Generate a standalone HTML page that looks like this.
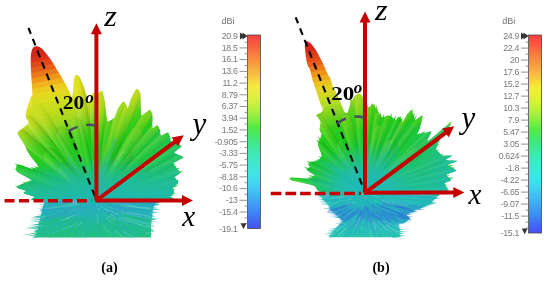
<!DOCTYPE html>
<html><head><meta charset="utf-8"><style>
html,body{margin:0;padding:0;background:#fff;overflow:hidden;}
svg{display:block;}
.ax{font-family:"Liberation Serif",serif;font-style:italic;font-size:31px;fill:#000;}
.deg{font-family:"Liberation Serif",serif;font-weight:bold;font-size:19.8px;fill:#000;}
.sup{font-family:"Liberation Serif",serif;font-style:italic;font-weight:bold;font-size:17px;fill:#000;}
.cbl{font-family:"Liberation Sans",sans-serif;font-size:8.8px;letter-spacing:-0.35px;fill:#7a7a7a;}
.dbi{font-family:"Liberation Sans",sans-serif;font-size:9px;fill:#707070;}
.cap{font-family:"Liberation Serif",serif;font-weight:bold;font-size:14px;fill:#000;}
</style></head><body>
<svg width="550" height="281" viewBox="0 0 550 281">
<defs><linearGradient id="cbA" gradientUnits="userSpaceOnUse" x1="0" y1="35" x2="0" y2="228.5"><stop offset="0.000" stop-color="#f84040"/><stop offset="0.057" stop-color="#f86040"/><stop offset="0.119" stop-color="#f88a40"/><stop offset="0.171" stop-color="#f8aa40"/><stop offset="0.222" stop-color="#f8cc40"/><stop offset="0.269" stop-color="#f4ec40"/><stop offset="0.336" stop-color="#d8f040"/><stop offset="0.388" stop-color="#b0f040"/><stop offset="0.439" stop-color="#80ee40"/><stop offset="0.481" stop-color="#50ea48"/><stop offset="0.543" stop-color="#40e880"/><stop offset="0.594" stop-color="#40e8a8"/><stop offset="0.646" stop-color="#40e8c8"/><stop offset="0.708" stop-color="#40e6e4"/><stop offset="0.760" stop-color="#40d8f0"/><stop offset="0.811" stop-color="#40c0f4"/><stop offset="0.863" stop-color="#40a4f4"/><stop offset="0.915" stop-color="#4088f4"/><stop offset="0.961" stop-color="#4068f4"/><stop offset="1.000" stop-color="#4850f0"/></linearGradient><linearGradient id="cbB" gradientUnits="userSpaceOnUse" x1="0" y1="35" x2="0" y2="233"><stop offset="0.000" stop-color="#f84040"/><stop offset="0.057" stop-color="#f86040"/><stop offset="0.119" stop-color="#f88a40"/><stop offset="0.171" stop-color="#f8aa40"/><stop offset="0.222" stop-color="#f8cc40"/><stop offset="0.269" stop-color="#f4ec40"/><stop offset="0.336" stop-color="#d8f040"/><stop offset="0.388" stop-color="#b0f040"/><stop offset="0.439" stop-color="#80ee40"/><stop offset="0.481" stop-color="#50ea48"/><stop offset="0.543" stop-color="#40e880"/><stop offset="0.594" stop-color="#40e8a8"/><stop offset="0.646" stop-color="#40e8c8"/><stop offset="0.708" stop-color="#40e6e4"/><stop offset="0.760" stop-color="#40d8f0"/><stop offset="0.811" stop-color="#40c0f4"/><stop offset="0.863" stop-color="#40a4f4"/><stop offset="0.915" stop-color="#4088f4"/><stop offset="0.961" stop-color="#4068f4"/><stop offset="1.000" stop-color="#4850f0"/></linearGradient><linearGradient id="fanA" gradientUnits="userSpaceOnUse" x1="60" y1="80" x2="100.3" y2="203.5"><stop offset="0.000" stop-color="#e2e01e"/><stop offset="0.108" stop-color="#dfdf1e"/><stop offset="0.219" stop-color="#cadc1e"/><stop offset="0.293" stop-color="#a8d81e"/><stop offset="0.366" stop-color="#78d21e"/><stop offset="0.439" stop-color="#44ce1a"/><stop offset="0.547" stop-color="#22cc1a"/><stop offset="0.654" stop-color="#1ccb20"/><stop offset="1.000" stop-color="#1cc828"/></linearGradient><radialGradient id="tealA" gradientUnits="userSpaceOnUse" cx="96.4" cy="200.5" r="46" gradientTransform="translate(96.4 200.5) scale(2 1) translate(-96.4 -200.5)"><stop offset="0.000" stop-color="#1ebaa0" stop-opacity="1"/><stop offset="0.391" stop-color="#1ebc96" stop-opacity="0.85"/><stop offset="0.696" stop-color="#1ebe80" stop-opacity="0.45"/><stop offset="1.000" stop-color="#1ec070" stop-opacity="0"/></radialGradient><linearGradient id="mainA" gradientUnits="userSpaceOnUse" x1="35" y1="46" x2="68.2" y2="208.7"><stop offset="0.002" stop-color="#d32019"/><stop offset="0.029" stop-color="#d32019"/><stop offset="0.034" stop-color="#d62519"/><stop offset="0.060" stop-color="#d62519"/><stop offset="0.065" stop-color="#da3219"/><stop offset="0.092" stop-color="#da3219"/><stop offset="0.096" stop-color="#e14819"/><stop offset="0.123" stop-color="#e14819"/><stop offset="0.128" stop-color="#e65f19"/><stop offset="0.154" stop-color="#e65f19"/><stop offset="0.159" stop-color="#ea7919"/><stop offset="0.185" stop-color="#ea7919"/><stop offset="0.190" stop-color="#ef9719"/><stop offset="0.217" stop-color="#ef9719"/><stop offset="0.222" stop-color="#f0b21d"/><stop offset="0.248" stop-color="#f0b21d"/><stop offset="0.253" stop-color="#edca1e"/><stop offset="0.279" stop-color="#edca1e"/><stop offset="0.284" stop-color="#e5d81e"/><stop offset="0.311" stop-color="#e5d81e"/><stop offset="0.316" stop-color="#d8dd1e"/><stop offset="0.342" stop-color="#d8dd1e"/><stop offset="0.347" stop-color="#ccdd1e"/><stop offset="0.373" stop-color="#ccdd1e"/><stop offset="0.378" stop-color="#c2dc1e"/><stop offset="0.405" stop-color="#c2dc1e"/><stop offset="0.410" stop-color="#b5da1e"/><stop offset="0.436" stop-color="#b5da1e"/><stop offset="0.441" stop-color="#a6d81e"/><stop offset="0.467" stop-color="#a6d81e"/><stop offset="1.000" stop-color="#a0d71e"/></linearGradient><linearGradient id="lowA" gradientUnits="userSpaceOnUse" x1="0" y1="200" x2="0" y2="237"><stop offset="0.000" stop-color="#22b4b4"/><stop offset="0.216" stop-color="#24b0bc"/><stop offset="0.432" stop-color="#22b4b0"/><stop offset="0.703" stop-color="#20bc98"/><stop offset="1.000" stop-color="#22c080"/></linearGradient><clipPath id="clipFanA"><path d="M38.0,200.5 C24.7,200.1 36.0,197.6 34.6,196.9 C33.2,196.2 24.8,193.9 23.9,193.3 C23.0,192.7 26.4,191.3 25.7,190.7 C25.0,190.1 17.2,188.1 16.9,187.4 C16.6,186.7 21.6,184.5 23.1,183.8 C24.6,183.1 32.6,181.4 32.0,180.2 C31.4,179.0 18.3,173.0 16.9,171.4 C15.5,169.8 16.3,164.5 17.8,164.2 C19.3,163.9 29.9,168.4 32.0,168.7 C34.0,169.0 38.4,168.1 38.3,166.9 C38.2,165.7 32.3,158.8 31.1,157.1 C29.9,155.4 27.3,151.2 26.7,150.0 C26.1,148.8 25.7,147.0 24.9,145.6 C24.1,144.2 19.4,137.1 18.7,135.8 C18.0,134.5 16.8,133.4 17.8,132.2 C18.8,130.9 27.7,124.8 28.5,123.3 C29.3,121.8 26.0,118.4 25.8,117.1 C25.6,115.8 26.2,112.0 26.7,110.0 C27.2,108.0 30.1,99.1 30.7,97.6 C31.3,96.1 31.6,96.8 33.0,95.0 C34.4,93.2 42.3,81.8 45.0,80.0 C47.7,78.2 57.6,75.0 60.0,76.9 C62.4,78.8 67.7,97.2 68.9,99.1 C70.2,101.0 72.1,96.8 72.5,95.6 C72.9,94.4 73.1,88.5 73.3,86.7 C73.5,84.9 73.9,79.0 74.2,77.8 C74.5,76.6 75.5,75.2 76.0,75.1 C76.5,75.0 78.9,75.9 79.6,76.9 C80.3,77.9 82.4,83.0 83.1,84.9 C83.8,86.8 86.1,93.8 86.7,95.6 C87.3,97.4 88.8,103.0 89.4,102.7 C90.0,102.4 92.2,93.6 92.9,92.9 C93.6,92.2 95.1,96.2 96.0,96.0 C96.9,95.8 100.9,90.2 101.8,90.7 C102.7,91.2 104.3,98.9 104.8,101.4 C105.3,103.9 106.3,113.6 106.6,115.6 C106.9,117.6 107.2,121.3 107.5,121.8 C107.8,122.3 108.5,121.3 109.2,120.9 C109.9,120.5 113.7,118.6 114.6,117.4 C115.5,116.2 117.2,110.1 118.1,108.5 C119.0,106.9 122.6,101.6 123.5,101.4 C124.4,101.2 126.6,106.0 127.0,106.7 C127.4,107.4 127.5,109.4 127.9,108.5 C128.3,107.6 130.6,99.8 131.5,97.8 C132.4,95.8 135.9,89.3 136.8,88.9 C137.7,88.5 140.0,92.4 140.4,94.2 C140.8,96.0 140.8,104.6 140.9,106.7 C141.0,108.8 141.1,115.0 141.6,115.6 C142.1,116.2 144.8,113.3 145.7,112.8 C146.5,112.2 149.4,109.8 150.1,110.1 C150.8,110.4 152.4,114.2 152.6,116.0 C152.8,117.8 152.0,127.1 152.5,128.0 C153.0,128.9 156.4,125.0 157.2,125.2 C157.9,125.4 159.6,129.0 160.0,130.0 C160.4,131.0 160.2,135.3 161.0,135.5 C161.8,135.7 167.0,132.2 167.9,132.4 C168.8,132.6 169.7,136.1 170.0,137.0 C170.3,137.9 170.4,140.9 171.0,141.5 C171.6,142.1 175.0,142.5 176.1,143.0 C177.2,143.5 181.7,145.6 181.5,146.6 C181.3,147.6 174.2,151.7 174.4,152.8 C174.6,153.9 183.4,156.1 183.3,157.2 C183.2,158.3 173.8,161.9 173.5,163.5 C173.2,165.1 179.9,171.3 180.0,172.7 C180.1,174.1 174.9,176.1 174.7,177.1 C174.5,178.1 178.5,181.4 178.3,182.5 C178.1,183.6 173.3,186.8 172.9,187.8 C172.5,188.8 174.1,191.3 173.8,192.2 C173.5,193.1 170.8,195.9 170.2,196.7 C169.6,197.5 181.2,200.1 168.0,200.5 C154.8,200.9 51.3,200.9 38.0,200.5 Z"/></clipPath><linearGradient id="fg1s" gradientUnits="userSpaceOnUse" x1="68.3" y1="159.8" x2="80.8" y2="153.4"><stop offset="0.000" stop-color="#ffffa0" stop-opacity="0.22"/><stop offset="0.450" stop-color="#ffffa0" stop-opacity="0.05"/><stop offset="0.600" stop-color="#003000" stop-opacity="0.0"/><stop offset="1.000" stop-color="#003000" stop-opacity="0.16"/></linearGradient><linearGradient id="fg2s" gradientUnits="userSpaceOnUse" x1="60.7" y1="174.8" x2="70.4" y2="164.8"><stop offset="0.000" stop-color="#ffffa0" stop-opacity="0.22"/><stop offset="0.450" stop-color="#ffffa0" stop-opacity="0.05"/><stop offset="0.600" stop-color="#003000" stop-opacity="0.0"/><stop offset="1.000" stop-color="#003000" stop-opacity="0.16"/></linearGradient><linearGradient id="fg3s" gradientUnits="userSpaceOnUse" x1="103.8" y1="148.7" x2="117.3" y2="152.5"><stop offset="0.000" stop-color="#ffffa0" stop-opacity="0.22"/><stop offset="0.450" stop-color="#ffffa0" stop-opacity="0.05"/><stop offset="0.600" stop-color="#003000" stop-opacity="0.0"/><stop offset="1.000" stop-color="#003000" stop-opacity="0.16"/></linearGradient><linearGradient id="fg4s" gradientUnits="userSpaceOnUse" x1="117.0" y1="153.2" x2="128.1" y2="160.0"><stop offset="0.000" stop-color="#ffffa0" stop-opacity="0.22"/><stop offset="0.450" stop-color="#ffffa0" stop-opacity="0.05"/><stop offset="0.600" stop-color="#003000" stop-opacity="0.0"/><stop offset="1.000" stop-color="#003000" stop-opacity="0.16"/></linearGradient><linearGradient id="fg5s" gradientUnits="userSpaceOnUse" x1="77.8" y1="152.1" x2="89.4" y2="149.1"><stop offset="0.000" stop-color="#ffffa0" stop-opacity="0.22"/><stop offset="0.450" stop-color="#ffffa0" stop-opacity="0.05"/><stop offset="0.600" stop-color="#003000" stop-opacity="0.0"/><stop offset="1.000" stop-color="#003000" stop-opacity="0.16"/></linearGradient><linearGradient id="fg6s" gradientUnits="userSpaceOnUse" x1="110.8" y1="165.9" x2="122.4" y2="173.7"><stop offset="0.000" stop-color="#ffffa0" stop-opacity="0.22"/><stop offset="0.450" stop-color="#ffffa0" stop-opacity="0.05"/><stop offset="0.600" stop-color="#003000" stop-opacity="0.0"/><stop offset="1.000" stop-color="#003000" stop-opacity="0.16"/></linearGradient><linearGradient id="fg7s" gradientUnits="userSpaceOnUse" x1="69.7" y1="183.9" x2="79.4" y2="173.7"><stop offset="0.000" stop-color="#ffffa0" stop-opacity="0.22"/><stop offset="0.450" stop-color="#ffffa0" stop-opacity="0.05"/><stop offset="0.600" stop-color="#003000" stop-opacity="0.0"/><stop offset="1.000" stop-color="#003000" stop-opacity="0.16"/></linearGradient><linearGradient id="fg8s" gradientUnits="userSpaceOnUse" x1="125.3" y1="173.8" x2="131.8" y2="183.8"><stop offset="0.000" stop-color="#ffffa0" stop-opacity="0.22"/><stop offset="0.450" stop-color="#ffffa0" stop-opacity="0.05"/><stop offset="0.600" stop-color="#003000" stop-opacity="0.0"/><stop offset="1.000" stop-color="#003000" stop-opacity="0.16"/></linearGradient><linearGradient id="fg9s" gradientUnits="userSpaceOnUse" x1="48.1" y1="196.2" x2="49.3" y2="188.3"><stop offset="0.000" stop-color="#ffffa0" stop-opacity="0.22"/><stop offset="0.450" stop-color="#ffffa0" stop-opacity="0.05"/><stop offset="0.600" stop-color="#003000" stop-opacity="0.0"/><stop offset="1.000" stop-color="#003000" stop-opacity="0.16"/></linearGradient><linearGradient id="fg10s" gradientUnits="userSpaceOnUse" x1="47.1" y1="184.2" x2="50.5" y2="175.8"><stop offset="0.000" stop-color="#ffffa0" stop-opacity="0.22"/><stop offset="0.450" stop-color="#ffffa0" stop-opacity="0.05"/><stop offset="0.600" stop-color="#003000" stop-opacity="0.0"/><stop offset="1.000" stop-color="#003000" stop-opacity="0.16"/></linearGradient><linearGradient id="fg11s" gradientUnits="userSpaceOnUse" x1="45.3" y1="163.7" x2="53.1" y2="154.6"><stop offset="0.000" stop-color="#ffffa0" stop-opacity="0.22"/><stop offset="0.450" stop-color="#ffffa0" stop-opacity="0.05"/><stop offset="0.600" stop-color="#003000" stop-opacity="0.0"/><stop offset="1.000" stop-color="#003000" stop-opacity="0.16"/></linearGradient><linearGradient id="fg12s" gradientUnits="userSpaceOnUse" x1="50.2" y1="153.3" x2="57.8" y2="146.8"><stop offset="0.000" stop-color="#ffffa0" stop-opacity="0.22"/><stop offset="0.450" stop-color="#ffffa0" stop-opacity="0.05"/><stop offset="0.600" stop-color="#003000" stop-opacity="0.0"/><stop offset="1.000" stop-color="#003000" stop-opacity="0.16"/></linearGradient><linearGradient id="fg13s" gradientUnits="userSpaceOnUse" x1="52.4" y1="141.3" x2="61.6" y2="135.4"><stop offset="0.000" stop-color="#ffffa0" stop-opacity="0.22"/><stop offset="0.450" stop-color="#ffffa0" stop-opacity="0.05"/><stop offset="0.600" stop-color="#003000" stop-opacity="0.0"/><stop offset="1.000" stop-color="#003000" stop-opacity="0.16"/></linearGradient><linearGradient id="fg14s" gradientUnits="userSpaceOnUse" x1="78.2" y1="125.8" x2="90.1" y2="123.9"><stop offset="0.000" stop-color="#ffffa0" stop-opacity="0.22"/><stop offset="0.450" stop-color="#ffffa0" stop-opacity="0.05"/><stop offset="0.600" stop-color="#003000" stop-opacity="0.0"/><stop offset="1.000" stop-color="#003000" stop-opacity="0.16"/></linearGradient><linearGradient id="fg15s" gradientUnits="userSpaceOnUse" x1="90.3" y1="135.7" x2="98.3" y2="135.4"><stop offset="0.000" stop-color="#ffffa0" stop-opacity="0.22"/><stop offset="0.450" stop-color="#ffffa0" stop-opacity="0.05"/><stop offset="0.600" stop-color="#003000" stop-opacity="0.0"/><stop offset="1.000" stop-color="#003000" stop-opacity="0.16"/></linearGradient><linearGradient id="fg16s" gradientUnits="userSpaceOnUse" x1="95.6" y1="134.0" x2="103.6" y2="134.4"><stop offset="0.000" stop-color="#ffffa0" stop-opacity="0.22"/><stop offset="0.450" stop-color="#ffffa0" stop-opacity="0.05"/><stop offset="0.600" stop-color="#003000" stop-opacity="0.0"/><stop offset="1.000" stop-color="#003000" stop-opacity="0.16"/></linearGradient><linearGradient id="fg17s" gradientUnits="userSpaceOnUse" x1="101.1" y1="151.9" x2="107.0" y2="152.8"><stop offset="0.000" stop-color="#ffffa0" stop-opacity="0.22"/><stop offset="0.450" stop-color="#ffffa0" stop-opacity="0.05"/><stop offset="0.600" stop-color="#003000" stop-opacity="0.0"/><stop offset="1.000" stop-color="#003000" stop-opacity="0.16"/></linearGradient><linearGradient id="fg18s" gradientUnits="userSpaceOnUse" x1="107.8" y1="139.3" x2="117.5" y2="142.0"><stop offset="0.000" stop-color="#ffffa0" stop-opacity="0.22"/><stop offset="0.450" stop-color="#ffffa0" stop-opacity="0.05"/><stop offset="0.600" stop-color="#003000" stop-opacity="0.0"/><stop offset="1.000" stop-color="#003000" stop-opacity="0.16"/></linearGradient><linearGradient id="fg19s" gradientUnits="userSpaceOnUse" x1="115.5" y1="131.3" x2="125.8" y2="135.0"><stop offset="0.000" stop-color="#ffffa0" stop-opacity="0.22"/><stop offset="0.450" stop-color="#ffffa0" stop-opacity="0.05"/><stop offset="0.600" stop-color="#003000" stop-opacity="0.0"/><stop offset="1.000" stop-color="#003000" stop-opacity="0.16"/></linearGradient><linearGradient id="fg20s" gradientUnits="userSpaceOnUse" x1="124.8" y1="143.5" x2="132.5" y2="148.2"><stop offset="0.000" stop-color="#ffffa0" stop-opacity="0.22"/><stop offset="0.450" stop-color="#ffffa0" stop-opacity="0.05"/><stop offset="0.600" stop-color="#003000" stop-opacity="0.0"/><stop offset="1.000" stop-color="#003000" stop-opacity="0.16"/></linearGradient><linearGradient id="fg21s" gradientUnits="userSpaceOnUse" x1="129.8" y1="152.4" x2="136.0" y2="157.5"><stop offset="0.000" stop-color="#ffffa0" stop-opacity="0.22"/><stop offset="0.450" stop-color="#ffffa0" stop-opacity="0.05"/><stop offset="0.600" stop-color="#003000" stop-opacity="0.0"/><stop offset="1.000" stop-color="#003000" stop-opacity="0.16"/></linearGradient><linearGradient id="fg22s" gradientUnits="userSpaceOnUse" x1="136.6" y1="156.3" x2="142.0" y2="162.2"><stop offset="0.000" stop-color="#ffffa0" stop-opacity="0.22"/><stop offset="0.450" stop-color="#ffffa0" stop-opacity="0.05"/><stop offset="0.600" stop-color="#003000" stop-opacity="0.0"/><stop offset="1.000" stop-color="#003000" stop-opacity="0.16"/></linearGradient><linearGradient id="fg23s" gradientUnits="userSpaceOnUse" x1="145.6" y1="164.8" x2="149.3" y2="170.7"><stop offset="0.000" stop-color="#ffffa0" stop-opacity="0.22"/><stop offset="0.450" stop-color="#ffffa0" stop-opacity="0.05"/><stop offset="0.600" stop-color="#003000" stop-opacity="0.0"/><stop offset="1.000" stop-color="#003000" stop-opacity="0.16"/></linearGradient><linearGradient id="fg24s" gradientUnits="userSpaceOnUse" x1="147.0" y1="171.0" x2="150.1" y2="177.3"><stop offset="0.000" stop-color="#ffffa0" stop-opacity="0.22"/><stop offset="0.450" stop-color="#ffffa0" stop-opacity="0.05"/><stop offset="0.600" stop-color="#003000" stop-opacity="0.0"/><stop offset="1.000" stop-color="#003000" stop-opacity="0.16"/></linearGradient><linearGradient id="fg25s" gradientUnits="userSpaceOnUse" x1="145.5" y1="180.1" x2="147.6" y2="186.8"><stop offset="0.000" stop-color="#ffffa0" stop-opacity="0.22"/><stop offset="0.450" stop-color="#ffffa0" stop-opacity="0.05"/><stop offset="0.600" stop-color="#003000" stop-opacity="0.0"/><stop offset="1.000" stop-color="#003000" stop-opacity="0.16"/></linearGradient><linearGradient id="fg26s" gradientUnits="userSpaceOnUse" x1="144.9" y1="186.4" x2="146.1" y2="192.2"><stop offset="0.000" stop-color="#ffffa0" stop-opacity="0.22"/><stop offset="0.450" stop-color="#ffffa0" stop-opacity="0.05"/><stop offset="0.600" stop-color="#003000" stop-opacity="0.0"/><stop offset="1.000" stop-color="#003000" stop-opacity="0.16"/></linearGradient><linearGradient id="fg27s" gradientUnits="userSpaceOnUse" x1="142.6" y1="192.1" x2="143.1" y2="198.1"><stop offset="0.000" stop-color="#ffffa0" stop-opacity="0.22"/><stop offset="0.450" stop-color="#ffffa0" stop-opacity="0.05"/><stop offset="0.600" stop-color="#003000" stop-opacity="0.0"/><stop offset="1.000" stop-color="#003000" stop-opacity="0.16"/></linearGradient><linearGradient id="fg28s" gradientUnits="userSpaceOnUse" x1="51.7" y1="193.5" x2="53.2" y2="186.7"><stop offset="0.000" stop-color="#ffffa0" stop-opacity="0.22"/><stop offset="0.450" stop-color="#ffffa0" stop-opacity="0.05"/><stop offset="0.600" stop-color="#003000" stop-opacity="0.0"/><stop offset="1.000" stop-color="#003000" stop-opacity="0.16"/></linearGradient><linearGradient id="tg1" gradientUnits="userSpaceOnUse" x1="108.2" y1="158.8" x2="120.0" y2="118.0"><stop offset="0.000" stop-color="#6ed21e" stop-opacity="0"/><stop offset="0.600" stop-color="#6ed21e" stop-opacity="0.354"/><stop offset="1.000" stop-color="#6ed21e" stop-opacity="0.59"/></linearGradient><linearGradient id="tg2" gradientUnits="userSpaceOnUse" x1="118.2" y1="163.8" x2="140.0" y2="128.0"><stop offset="0.000" stop-color="#64d01e" stop-opacity="0"/><stop offset="0.600" stop-color="#64d01e" stop-opacity="0.33599999999999997"/><stop offset="1.000" stop-color="#64d01e" stop-opacity="0.5599999999999999"/></linearGradient><linearGradient id="tg3" gradientUnits="userSpaceOnUse" x1="99.1" y1="145.1" x2="101.8" y2="90.7"><stop offset="0.000" stop-color="#afda1e" stop-opacity="0"/><stop offset="0.600" stop-color="#afda1e" stop-opacity="0.4799999999999999"/><stop offset="1.000" stop-color="#afda1e" stop-opacity="0.7999999999999999"/></linearGradient><linearGradient id="tg4" gradientUnits="userSpaceOnUse" x1="102.8" y1="160.2" x2="109.2" y2="120.9"><stop offset="0.000" stop-color="#64d01e" stop-opacity="0"/><stop offset="0.600" stop-color="#64d01e" stop-opacity="0.33599999999999997"/><stop offset="1.000" stop-color="#64d01e" stop-opacity="0.5599999999999999"/></linearGradient><linearGradient id="tg5" gradientUnits="userSpaceOnUse" x1="110.0" y1="150.4" x2="123.5" y2="101.4"><stop offset="0.000" stop-color="#a6d91e" stop-opacity="0"/><stop offset="0.600" stop-color="#a6d91e" stop-opacity="0.46199999999999997"/><stop offset="1.000" stop-color="#a6d91e" stop-opacity="0.77"/></linearGradient><linearGradient id="tg6" gradientUnits="userSpaceOnUse" x1="116.6" y1="144.2" x2="136.8" y2="88.9"><stop offset="0.000" stop-color="#bfdd1e" stop-opacity="0"/><stop offset="0.600" stop-color="#bfdd1e" stop-opacity="0.51"/><stop offset="1.000" stop-color="#bfdd1e" stop-opacity="0.85"/></linearGradient><linearGradient id="tg7" gradientUnits="userSpaceOnUse" x1="123.2" y1="154.8" x2="150.1" y2="110.1"><stop offset="0.000" stop-color="#94d61e" stop-opacity="0"/><stop offset="0.600" stop-color="#94d61e" stop-opacity="0.426"/><stop offset="1.000" stop-color="#94d61e" stop-opacity="0.71"/></linearGradient><linearGradient id="tg8" gradientUnits="userSpaceOnUse" x1="126.8" y1="162.3" x2="157.2" y2="125.2"><stop offset="0.000" stop-color="#82d41e" stop-opacity="0"/><stop offset="0.600" stop-color="#82d41e" stop-opacity="0.38999999999999996"/><stop offset="1.000" stop-color="#82d41e" stop-opacity="0.6499999999999999"/></linearGradient><linearGradient id="tg9" gradientUnits="userSpaceOnUse" x1="132.2" y1="165.9" x2="167.9" y2="132.4"><stop offset="0.000" stop-color="#64d01e" stop-opacity="0"/><stop offset="0.600" stop-color="#64d01e" stop-opacity="0.33599999999999997"/><stop offset="1.000" stop-color="#64d01e" stop-opacity="0.5599999999999999"/></linearGradient><linearGradient id="botA" gradientUnits="userSpaceOnUse" x1="0" y1="160" x2="0" y2="200"><stop offset="0.000" stop-color="#1ebaa8" stop-opacity="0"/><stop offset="0.500" stop-color="#1ebaa8" stop-opacity="0.45"/><stop offset="1.000" stop-color="#1eb8b0" stop-opacity="0.85"/></linearGradient><linearGradient id="diagA" gradientUnits="userSpaceOnUse" x1="118" y1="148" x2="172" y2="192"><stop offset="0.000" stop-color="#20bcb0" stop-opacity="0"/><stop offset="0.500" stop-color="#20bcb0" stop-opacity="0.3"/><stop offset="1.000" stop-color="#20bab8" stop-opacity="0.6"/></linearGradient><clipPath id="clipLowA"><rect x="0" y="201" width="275" height="36.8"/></clipPath><linearGradient id="fadeA" gradientUnits="userSpaceOnUse" x1="0" y1="100" x2="0" y2="128"><stop offset="0.000" stop-color="#fff"/><stop offset="1.000" stop-color="#000"/></linearGradient><mask id="mA" maskUnits="userSpaceOnUse" x="0" y="0" width="550" height="281"><rect x="0" y="0" width="275" height="281" fill="url(#fadeA)"/></mask><linearGradient id="fanB" gradientUnits="userSpaceOnUse" x1="330" y1="70" x2="370.3" y2="193.5"><stop offset="0.000" stop-color="#dcdf1e"/><stop offset="0.154" stop-color="#c8de1e"/><stop offset="0.231" stop-color="#a5d81e"/><stop offset="0.293" stop-color="#82d41e"/><stop offset="0.346" stop-color="#64d01e"/><stop offset="0.416" stop-color="#38cd1a"/><stop offset="0.500" stop-color="#22cc1c"/><stop offset="0.616" stop-color="#1ccb24"/><stop offset="1.000" stop-color="#1cc82d"/></linearGradient><radialGradient id="tealB" gradientUnits="userSpaceOnUse" cx="365" cy="192.8" r="52" gradientTransform="translate(365 192.8) scale(1.35 1) translate(-365 -192.8)"><stop offset="0.000" stop-color="#20bcc4" stop-opacity="1"/><stop offset="0.423" stop-color="#20bdb4" stop-opacity="0.85"/><stop offset="0.731" stop-color="#1ec09c" stop-opacity="0.45"/><stop offset="1.000" stop-color="#1ec080" stop-opacity="0"/></radialGradient><linearGradient id="mainB" gradientUnits="userSpaceOnUse" x1="306.4" y1="41.4" x2="339.59999999999997" y2="204.08"><stop offset="0.002" stop-color="#d42019"/><stop offset="0.029" stop-color="#d42019"/><stop offset="0.034" stop-color="#d82619"/><stop offset="0.060" stop-color="#d82619"/><stop offset="0.065" stop-color="#df3719"/><stop offset="0.092" stop-color="#df3719"/><stop offset="0.096" stop-color="#e44b19"/><stop offset="0.123" stop-color="#e44b19"/><stop offset="0.128" stop-color="#e76219"/><stop offset="0.154" stop-color="#e76219"/><stop offset="0.159" stop-color="#eb7a19"/><stop offset="0.186" stop-color="#eb7a19"/><stop offset="0.190" stop-color="#ef931d"/><stop offset="0.217" stop-color="#ef931d"/><stop offset="0.222" stop-color="#efab1e"/><stop offset="0.248" stop-color="#efab1e"/><stop offset="0.253" stop-color="#eac11f"/><stop offset="0.279" stop-color="#eac11f"/><stop offset="0.284" stop-color="#e4d122"/><stop offset="0.311" stop-color="#e4d122"/><stop offset="0.316" stop-color="#d7d823"/><stop offset="0.342" stop-color="#d7d823"/><stop offset="0.347" stop-color="#c5db23"/><stop offset="0.373" stop-color="#c5db23"/><stop offset="0.378" stop-color="#b3db23"/><stop offset="0.405" stop-color="#b3db23"/><stop offset="0.410" stop-color="#9fd823"/><stop offset="0.436" stop-color="#9fd823"/><stop offset="0.441" stop-color="#8bd622"/><stop offset="0.467" stop-color="#8bd622"/><stop offset="0.472" stop-color="#77d31f"/><stop offset="0.499" stop-color="#77d31f"/><stop offset="1.000" stop-color="#6ed21e"/></linearGradient><linearGradient id="lowB" gradientUnits="userSpaceOnUse" x1="0" y1="193" x2="0" y2="237"><stop offset="0.000" stop-color="#20bcb0"/><stop offset="0.250" stop-color="#22b8b8"/><stop offset="0.386" stop-color="#2aa0c8"/><stop offset="0.523" stop-color="#2c8cd0"/><stop offset="0.659" stop-color="#2aa8c4"/><stop offset="0.818" stop-color="#28c0b8"/><stop offset="1.000" stop-color="#2ac4b0"/></linearGradient><clipPath id="clipFanB"><path d="M327.0,192.8 C314.2,192.1 317.6,187.1 314.2,185.9 C310.8,184.7 295.2,181.4 292.8,180.6 C290.4,179.8 289.0,177.6 290.7,177.4 C292.4,177.2 307.5,178.6 309.9,178.4 C312.2,178.2 314.5,176.0 314.2,175.2 C313.9,174.3 307.1,170.8 306.7,169.9 C306.3,169.1 309.7,167.3 309.9,166.7 C310.1,166.1 307.8,164.2 308.8,163.5 C309.8,162.8 318.2,160.0 319.5,159.2 C320.8,158.3 321.7,156.3 321.6,155.0 C321.5,153.7 318.7,147.6 318.4,146.4 C318.1,145.2 318.2,143.9 318.5,142.7 C318.8,141.5 321.6,135.5 321.7,134.2 C321.8,132.9 319.7,131.2 319.6,129.9 C319.5,128.6 320.9,122.9 320.6,121.4 C320.3,119.9 316.2,116.0 316.4,115.0 C316.6,114.0 321.2,112.9 322.6,110.9 C324.0,108.9 328.8,97.1 330.0,95.0 C331.2,92.9 333.4,88.4 334.8,90.0 C336.2,91.6 342.6,108.6 343.9,110.9 C345.1,113.2 346.7,113.4 347.3,112.8 C347.9,112.2 349.3,106.6 350.0,105.0 C350.7,103.4 353.1,98.2 354.0,97.0 C354.9,95.8 357.7,93.6 358.5,93.5 C359.3,93.4 361.3,95.0 362.0,96.0 C362.7,97.0 364.5,102.7 365.3,103.9 C366.1,105.1 369.2,108.0 370.0,108.0 C370.8,108.0 372.5,103.5 373.3,103.9 C374.1,104.3 377.0,110.7 377.8,111.9 C378.6,113.2 380.8,115.9 381.4,116.4 C382.0,116.9 383.3,117.3 384.0,117.2 C384.7,117.1 387.7,115.5 388.5,115.5 C389.3,115.5 391.3,116.8 392.0,117.2 C392.7,117.6 394.9,120.0 395.6,119.9 C396.3,119.8 398.3,116.2 399.0,116.4 C399.7,116.6 401.9,121.9 402.7,121.7 C403.5,121.5 406.3,115.7 407.2,114.6 C408.1,113.5 410.9,109.8 411.7,110.3 C412.5,110.8 413.9,119.4 415.0,119.9 C416.1,120.4 421.9,114.8 422.4,115.6 C422.9,116.4 420.5,126.1 420.0,128.0 C419.5,129.9 416.7,134.1 417.8,134.5 C418.9,134.9 430.0,130.9 431.0,131.6 C432.0,132.3 425.8,142.2 427.8,141.2 C429.8,140.2 449.4,122.9 451.2,122.0 C453.0,121.1 447.1,130.4 446.0,132.0 C444.9,133.6 441.0,136.3 440.0,138.0 C439.0,139.7 436.1,147.8 436.0,149.2 C435.9,150.6 438.6,151.8 439.2,152.4 C439.8,153.0 441.1,155.3 442.4,155.6 C443.7,155.9 451.7,155.2 452.0,155.6 C452.3,156.0 445.1,159.5 445.6,160.0 C446.1,160.5 457.1,160.5 457.3,161.0 C457.5,161.5 447.8,164.2 447.7,165.2 C447.6,166.2 456.3,169.6 456.2,170.6 C456.1,171.6 447.1,173.8 446.6,174.8 C446.1,175.8 451.1,179.3 450.9,180.2 C450.7,181.1 444.8,182.4 444.5,183.4 C444.2,184.4 447.9,188.9 447.7,189.8 C447.4,190.7 454.1,192.5 442.0,192.8 C429.9,193.1 339.8,193.5 327.0,192.8 Z"/></clipPath><linearGradient id="fg29s" gradientUnits="userSpaceOnUse" x1="344.6" y1="163.3" x2="355.4" y2="158.1"><stop offset="0.000" stop-color="#ffffa0" stop-opacity="0.22"/><stop offset="0.450" stop-color="#ffffa0" stop-opacity="0.05"/><stop offset="0.600" stop-color="#003000" stop-opacity="0.0"/><stop offset="1.000" stop-color="#003000" stop-opacity="0.16"/></linearGradient><linearGradient id="fg30s" gradientUnits="userSpaceOnUse" x1="377.8" y1="157.7" x2="388.2" y2="163.7"><stop offset="0.000" stop-color="#ffffa0" stop-opacity="0.22"/><stop offset="0.450" stop-color="#ffffa0" stop-opacity="0.05"/><stop offset="0.600" stop-color="#003000" stop-opacity="0.0"/><stop offset="1.000" stop-color="#003000" stop-opacity="0.16"/></linearGradient><linearGradient id="fg31s" gradientUnits="userSpaceOnUse" x1="394.7" y1="162.3" x2="401.3" y2="171.1"><stop offset="0.000" stop-color="#ffffa0" stop-opacity="0.22"/><stop offset="0.450" stop-color="#ffffa0" stop-opacity="0.05"/><stop offset="0.600" stop-color="#003000" stop-opacity="0.0"/><stop offset="1.000" stop-color="#003000" stop-opacity="0.16"/></linearGradient><linearGradient id="fg32s" gradientUnits="userSpaceOnUse" x1="348.2" y1="147.0" x2="357.8" y2="144.5"><stop offset="0.000" stop-color="#ffffa0" stop-opacity="0.22"/><stop offset="0.450" stop-color="#ffffa0" stop-opacity="0.05"/><stop offset="0.600" stop-color="#003000" stop-opacity="0.0"/><stop offset="1.000" stop-color="#003000" stop-opacity="0.16"/></linearGradient><linearGradient id="fg33s" gradientUnits="userSpaceOnUse" x1="369.1" y1="150.6" x2="378.9" y2="152.8"><stop offset="0.000" stop-color="#ffffa0" stop-opacity="0.22"/><stop offset="0.450" stop-color="#ffffa0" stop-opacity="0.05"/><stop offset="0.600" stop-color="#003000" stop-opacity="0.0"/><stop offset="1.000" stop-color="#003000" stop-opacity="0.16"/></linearGradient><linearGradient id="fg34s" gradientUnits="userSpaceOnUse" x1="319.8" y1="186.1" x2="321.0" y2="180.2"><stop offset="0.000" stop-color="#ffffa0" stop-opacity="0.22"/><stop offset="0.450" stop-color="#ffffa0" stop-opacity="0.05"/><stop offset="0.600" stop-color="#003000" stop-opacity="0.0"/><stop offset="1.000" stop-color="#003000" stop-opacity="0.16"/></linearGradient><linearGradient id="fg35s" gradientUnits="userSpaceOnUse" x1="329.0" y1="181.5" x2="331.1" y2="175.9"><stop offset="0.000" stop-color="#ffffa0" stop-opacity="0.22"/><stop offset="0.450" stop-color="#ffffa0" stop-opacity="0.05"/><stop offset="0.600" stop-color="#003000" stop-opacity="0.0"/><stop offset="1.000" stop-color="#003000" stop-opacity="0.16"/></linearGradient><linearGradient id="fg36s" gradientUnits="userSpaceOnUse" x1="329.9" y1="177.5" x2="332.6" y2="172.1"><stop offset="0.000" stop-color="#ffffa0" stop-opacity="0.22"/><stop offset="0.450" stop-color="#ffffa0" stop-opacity="0.05"/><stop offset="0.600" stop-color="#003000" stop-opacity="0.0"/><stop offset="1.000" stop-color="#003000" stop-opacity="0.16"/></linearGradient><linearGradient id="fg37s" gradientUnits="userSpaceOnUse" x1="334.6" y1="164.7" x2="339.6" y2="159.9"><stop offset="0.000" stop-color="#ffffa0" stop-opacity="0.22"/><stop offset="0.450" stop-color="#ffffa0" stop-opacity="0.05"/><stop offset="0.600" stop-color="#003000" stop-opacity="0.0"/><stop offset="1.000" stop-color="#003000" stop-opacity="0.16"/></linearGradient><linearGradient id="fg38s" gradientUnits="userSpaceOnUse" x1="332.0" y1="148.1" x2="339.6" y2="143.3"><stop offset="0.000" stop-color="#ffffa0" stop-opacity="0.22"/><stop offset="0.450" stop-color="#ffffa0" stop-opacity="0.05"/><stop offset="0.600" stop-color="#003000" stop-opacity="0.0"/><stop offset="1.000" stop-color="#003000" stop-opacity="0.16"/></linearGradient><linearGradient id="fg39s" gradientUnits="userSpaceOnUse" x1="356.6" y1="133.1" x2="365.6" y2="132.5"><stop offset="0.000" stop-color="#ffffa0" stop-opacity="0.22"/><stop offset="0.450" stop-color="#ffffa0" stop-opacity="0.05"/><stop offset="0.600" stop-color="#003000" stop-opacity="0.0"/><stop offset="1.000" stop-color="#003000" stop-opacity="0.16"/></linearGradient><linearGradient id="fg40s" gradientUnits="userSpaceOnUse" x1="363.4" y1="138.9" x2="371.4" y2="139.3"><stop offset="0.000" stop-color="#ffffa0" stop-opacity="0.22"/><stop offset="0.450" stop-color="#ffffa0" stop-opacity="0.05"/><stop offset="0.600" stop-color="#003000" stop-opacity="0.0"/><stop offset="1.000" stop-color="#003000" stop-opacity="0.16"/></linearGradient><linearGradient id="fg41s" gradientUnits="userSpaceOnUse" x1="369.8" y1="143.4" x2="375.8" y2="144.4"><stop offset="0.000" stop-color="#ffffa0" stop-opacity="0.22"/><stop offset="0.450" stop-color="#ffffa0" stop-opacity="0.05"/><stop offset="0.600" stop-color="#003000" stop-opacity="0.0"/><stop offset="1.000" stop-color="#003000" stop-opacity="0.16"/></linearGradient><linearGradient id="fg42s" gradientUnits="userSpaceOnUse" x1="376.2" y1="145.1" x2="382.0" y2="146.9"><stop offset="0.000" stop-color="#ffffa0" stop-opacity="0.22"/><stop offset="0.450" stop-color="#ffffa0" stop-opacity="0.05"/><stop offset="0.600" stop-color="#003000" stop-opacity="0.0"/><stop offset="1.000" stop-color="#003000" stop-opacity="0.16"/></linearGradient><linearGradient id="fg43s" gradientUnits="userSpaceOnUse" x1="383.1" y1="145.5" x2="387.7" y2="147.6"><stop offset="0.000" stop-color="#ffffa0" stop-opacity="0.22"/><stop offset="0.450" stop-color="#ffffa0" stop-opacity="0.05"/><stop offset="0.600" stop-color="#003000" stop-opacity="0.0"/><stop offset="1.000" stop-color="#003000" stop-opacity="0.16"/></linearGradient><linearGradient id="fg44s" gradientUnits="userSpaceOnUse" x1="388.1" y1="144.3" x2="392.5" y2="146.7"><stop offset="0.000" stop-color="#ffffa0" stop-opacity="0.22"/><stop offset="0.450" stop-color="#ffffa0" stop-opacity="0.05"/><stop offset="0.600" stop-color="#003000" stop-opacity="0.0"/><stop offset="1.000" stop-color="#003000" stop-opacity="0.16"/></linearGradient><linearGradient id="fg45s" gradientUnits="userSpaceOnUse" x1="390.4" y1="141.4" x2="395.6" y2="144.4"><stop offset="0.000" stop-color="#ffffa0" stop-opacity="0.22"/><stop offset="0.450" stop-color="#ffffa0" stop-opacity="0.05"/><stop offset="0.600" stop-color="#003000" stop-opacity="0.0"/><stop offset="1.000" stop-color="#003000" stop-opacity="0.16"/></linearGradient><linearGradient id="fg46s" gradientUnits="userSpaceOnUse" x1="397.0" y1="144.3" x2="401.8" y2="147.9"><stop offset="0.000" stop-color="#ffffa0" stop-opacity="0.22"/><stop offset="0.450" stop-color="#ffffa0" stop-opacity="0.05"/><stop offset="0.600" stop-color="#003000" stop-opacity="0.0"/><stop offset="1.000" stop-color="#003000" stop-opacity="0.16"/></linearGradient><linearGradient id="fg47s" gradientUnits="userSpaceOnUse" x1="402.6" y1="153.5" x2="406.6" y2="157.9"><stop offset="0.000" stop-color="#ffffa0" stop-opacity="0.22"/><stop offset="0.450" stop-color="#ffffa0" stop-opacity="0.05"/><stop offset="0.600" stop-color="#003000" stop-opacity="0.0"/><stop offset="1.000" stop-color="#003000" stop-opacity="0.16"/></linearGradient><linearGradient id="fg48s" gradientUnits="userSpaceOnUse" x1="414.8" y1="147.6" x2="418.6" y2="152.3"><stop offset="0.000" stop-color="#ffffa0" stop-opacity="0.22"/><stop offset="0.450" stop-color="#ffffa0" stop-opacity="0.05"/><stop offset="0.600" stop-color="#003000" stop-opacity="0.0"/><stop offset="1.000" stop-color="#003000" stop-opacity="0.16"/></linearGradient><linearGradient id="fg49s" gradientUnits="userSpaceOnUse" x1="416.2" y1="167.8" x2="418.2" y2="172.4"><stop offset="0.000" stop-color="#ffffa0" stop-opacity="0.22"/><stop offset="0.450" stop-color="#ffffa0" stop-opacity="0.05"/><stop offset="0.600" stop-color="#003000" stop-opacity="0.0"/><stop offset="1.000" stop-color="#003000" stop-opacity="0.16"/></linearGradient><linearGradient id="fg50s" gradientUnits="userSpaceOnUse" x1="419.6" y1="170.9" x2="421.2" y2="175.7"><stop offset="0.000" stop-color="#ffffa0" stop-opacity="0.22"/><stop offset="0.450" stop-color="#ffffa0" stop-opacity="0.05"/><stop offset="0.600" stop-color="#003000" stop-opacity="0.0"/><stop offset="1.000" stop-color="#003000" stop-opacity="0.16"/></linearGradient><linearGradient id="fg51s" gradientUnits="userSpaceOnUse" x1="419.2" y1="176.6" x2="420.3" y2="181.5"><stop offset="0.000" stop-color="#ffffa0" stop-opacity="0.22"/><stop offset="0.450" stop-color="#ffffa0" stop-opacity="0.05"/><stop offset="0.600" stop-color="#003000" stop-opacity="0.0"/><stop offset="1.000" stop-color="#003000" stop-opacity="0.16"/></linearGradient><linearGradient id="fg52s" gradientUnits="userSpaceOnUse" x1="416.2" y1="182.4" x2="416.9" y2="187.3"><stop offset="0.000" stop-color="#ffffa0" stop-opacity="0.22"/><stop offset="0.450" stop-color="#ffffa0" stop-opacity="0.05"/><stop offset="0.600" stop-color="#003000" stop-opacity="0.0"/><stop offset="1.000" stop-color="#003000" stop-opacity="0.16"/></linearGradient><linearGradient id="fg53s" gradientUnits="userSpaceOnUse" x1="414.6" y1="188.1" x2="414.7" y2="193.1"><stop offset="0.000" stop-color="#ffffa0" stop-opacity="0.22"/><stop offset="0.450" stop-color="#ffffa0" stop-opacity="0.05"/><stop offset="0.600" stop-color="#003000" stop-opacity="0.0"/><stop offset="1.000" stop-color="#003000" stop-opacity="0.16"/></linearGradient><linearGradient id="tg10" gradientUnits="userSpaceOnUse" x1="353.0" y1="145.7" x2="345.0" y2="115.0"><stop offset="0.000" stop-color="#82d41e" stop-opacity="0"/><stop offset="0.600" stop-color="#82d41e" stop-opacity="0.38999999999999996"/><stop offset="1.000" stop-color="#82d41e" stop-opacity="0.6499999999999999"/></linearGradient><linearGradient id="tg11" gradientUnits="userSpaceOnUse" x1="374.0" y1="151.7" x2="380.0" y2="125.0"><stop offset="0.000" stop-color="#5acf1e" stop-opacity="0"/><stop offset="0.600" stop-color="#5acf1e" stop-opacity="0.318"/><stop offset="1.000" stop-color="#5acf1e" stop-opacity="0.53"/></linearGradient><linearGradient id="tg12" gradientUnits="userSpaceOnUse" x1="335.8" y1="145.7" x2="316.4" y2="115.0"><stop offset="0.000" stop-color="#82d41e" stop-opacity="0"/><stop offset="0.600" stop-color="#82d41e" stop-opacity="0.38999999999999996"/><stop offset="1.000" stop-color="#82d41e" stop-opacity="0.6499999999999999"/></linearGradient><linearGradient id="tg13" gradientUnits="userSpaceOnUse" x1="361.1" y1="132.8" x2="358.5" y2="93.5"><stop offset="0.000" stop-color="#afda1e" stop-opacity="0"/><stop offset="0.600" stop-color="#afda1e" stop-opacity="0.4799999999999999"/><stop offset="1.000" stop-color="#afda1e" stop-opacity="0.7999999999999999"/></linearGradient><linearGradient id="tg14" gradientUnits="userSpaceOnUse" x1="367.4" y1="139.1" x2="369.0" y2="104.0"><stop offset="0.000" stop-color="#78d31e" stop-opacity="0"/><stop offset="0.600" stop-color="#78d31e" stop-opacity="0.372"/><stop offset="1.000" stop-color="#78d31e" stop-opacity="0.62"/></linearGradient><linearGradient id="tg15" gradientUnits="userSpaceOnUse" x1="372.8" y1="143.9" x2="378.0" y2="112.0"><stop offset="0.000" stop-color="#64d01e" stop-opacity="0"/><stop offset="0.600" stop-color="#64d01e" stop-opacity="0.33599999999999997"/><stop offset="1.000" stop-color="#64d01e" stop-opacity="0.5599999999999999"/></linearGradient><linearGradient id="tg16" gradientUnits="userSpaceOnUse" x1="379.1" y1="146.0" x2="388.5" y2="115.5"><stop offset="0.000" stop-color="#5acf1e" stop-opacity="0"/><stop offset="0.600" stop-color="#5acf1e" stop-opacity="0.318"/><stop offset="1.000" stop-color="#5acf1e" stop-opacity="0.53"/></linearGradient><linearGradient id="tg17" gradientUnits="userSpaceOnUse" x1="390.3" y1="145.5" x2="407.2" y2="114.6"><stop offset="0.000" stop-color="#5acf1e" stop-opacity="0"/><stop offset="0.600" stop-color="#5acf1e" stop-opacity="0.318"/><stop offset="1.000" stop-color="#5acf1e" stop-opacity="0.53"/></linearGradient><linearGradient id="tg18" gradientUnits="userSpaceOnUse" x1="393.0" y1="142.9" x2="411.7" y2="110.3"><stop offset="0.000" stop-color="#64d01e" stop-opacity="0"/><stop offset="0.600" stop-color="#64d01e" stop-opacity="0.33599999999999997"/><stop offset="1.000" stop-color="#64d01e" stop-opacity="0.5599999999999999"/></linearGradient><linearGradient id="tg19" gradientUnits="userSpaceOnUse" x1="399.4" y1="146.1" x2="422.4" y2="115.6"><stop offset="0.000" stop-color="#5acf1e" stop-opacity="0"/><stop offset="0.600" stop-color="#5acf1e" stop-opacity="0.318"/><stop offset="1.000" stop-color="#5acf1e" stop-opacity="0.53"/></linearGradient><linearGradient id="tg20" gradientUnits="userSpaceOnUse" x1="416.7" y1="149.9" x2="451.2" y2="122.0"><stop offset="0.000" stop-color="#94d61e" stop-opacity="0"/><stop offset="0.600" stop-color="#94d61e" stop-opacity="0.426"/><stop offset="1.000" stop-color="#94d61e" stop-opacity="0.71"/></linearGradient><linearGradient id="botB" gradientUnits="userSpaceOnUse" x1="360" y1="150" x2="440" y2="200"><stop offset="0.000" stop-color="#20bcbc" stop-opacity="0"/><stop offset="0.400" stop-color="#20bcbc" stop-opacity="0.15"/><stop offset="0.700" stop-color="#20bcc0" stop-opacity="0.55"/><stop offset="1.000" stop-color="#20bac4" stop-opacity="0.85"/></linearGradient><clipPath id="clipLowB"><rect x="275" y="194" width="275" height="43.6"/></clipPath><linearGradient id="fadeB" gradientUnits="userSpaceOnUse" x1="0" y1="104" x2="0" y2="128"><stop offset="0.000" stop-color="#fff"/><stop offset="1.000" stop-color="#000"/></linearGradient><mask id="mB" maskUnits="userSpaceOnUse" x="0" y="0" width="550" height="281"><rect x="275" y="0" width="275" height="281" fill="url(#fadeB)"/></mask></defs>
<rect width="550" height="281" fill="#fff"/>
<g fill="url(#fanA)"><path d="M27.5,191.4L23.3,192.6L27.1,194.6Z"/><path d="M21.6,185.8L14.5,185.8L21.1,188.3Z"/><path d="M25.0,183.8L20.3,184.2L24.4,186.6Z"/><path d="M28.5,182.2L22.5,182.3L27.8,185.1Z"/><path d="M31.1,181.2L26.7,181.6L30.4,184.1Z"/><path d="M33.8,180.7L28.7,180.1L33.3,182.5Z"/><path d="M20.3,169.7L13.5,168.5L19.4,172.1Z"/><path d="M20.8,165.4L14.0,163.4L20.0,167.2Z"/><path d="M36.4,168.6L30.7,167.1L35.3,170.8Z"/><path d="M39.7,167.7L33.8,166.0L38.4,170.1Z"/><path d="M172.1,167.0L176.2,163.8L171.1,164.9Z"/><path d="M173.5,169.0L176.8,166.1L172.4,166.5Z"/><path d="M174.9,170.9L180.9,167.6L174.2,169.2Z"/><path d="M177.3,174.6L182.8,171.0L176.2,171.5Z"/><path d="M173.2,180.8L176.7,178.3L172.4,177.9Z"/><path d="M174.5,182.7L179.0,180.1L173.8,180.0Z"/><path d="M171.7,188.2L178.6,185.6L171.2,185.5Z"/><path d="M170.5,191.6L175.1,189.3L170.1,188.4Z"/><path d="M170.0,194.8L176.6,192.9L169.8,192.4Z"/><path d="M168.5,196.9L174.3,195.0L168.3,193.8Z"/><path d="M166.6,199.6L173.3,197.7L166.5,196.3Z"/></g>
<path d="M38.0,200.5 C24.7,200.1 36.0,197.6 34.6,196.9 C33.2,196.2 24.8,193.9 23.9,193.3 C23.0,192.7 26.4,191.3 25.7,190.7 C25.0,190.1 17.2,188.1 16.9,187.4 C16.6,186.7 21.6,184.5 23.1,183.8 C24.6,183.1 32.6,181.4 32.0,180.2 C31.4,179.0 18.3,173.0 16.9,171.4 C15.5,169.8 16.3,164.5 17.8,164.2 C19.3,163.9 29.9,168.4 32.0,168.7 C34.0,169.0 38.4,168.1 38.3,166.9 C38.2,165.7 32.3,158.8 31.1,157.1 C29.9,155.4 27.3,151.2 26.7,150.0 C26.1,148.8 25.7,147.0 24.9,145.6 C24.1,144.2 19.4,137.1 18.7,135.8 C18.0,134.5 16.8,133.4 17.8,132.2 C18.8,130.9 27.7,124.8 28.5,123.3 C29.3,121.8 26.0,118.4 25.8,117.1 C25.6,115.8 26.2,112.0 26.7,110.0 C27.2,108.0 30.1,99.1 30.7,97.6 C31.3,96.1 31.6,96.8 33.0,95.0 C34.4,93.2 42.3,81.8 45.0,80.0 C47.7,78.2 57.6,75.0 60.0,76.9 C62.4,78.8 67.7,97.2 68.9,99.1 C70.2,101.0 72.1,96.8 72.5,95.6 C72.9,94.4 73.1,88.5 73.3,86.7 C73.5,84.9 73.9,79.0 74.2,77.8 C74.5,76.6 75.5,75.2 76.0,75.1 C76.5,75.0 78.9,75.9 79.6,76.9 C80.3,77.9 82.4,83.0 83.1,84.9 C83.8,86.8 86.1,93.8 86.7,95.6 C87.3,97.4 88.8,103.0 89.4,102.7 C90.0,102.4 92.2,93.6 92.9,92.9 C93.6,92.2 95.1,96.2 96.0,96.0 C96.9,95.8 100.9,90.2 101.8,90.7 C102.7,91.2 104.3,98.9 104.8,101.4 C105.3,103.9 106.3,113.6 106.6,115.6 C106.9,117.6 107.2,121.3 107.5,121.8 C107.8,122.3 108.5,121.3 109.2,120.9 C109.9,120.5 113.7,118.6 114.6,117.4 C115.5,116.2 117.2,110.1 118.1,108.5 C119.0,106.9 122.6,101.6 123.5,101.4 C124.4,101.2 126.6,106.0 127.0,106.7 C127.4,107.4 127.5,109.4 127.9,108.5 C128.3,107.6 130.6,99.8 131.5,97.8 C132.4,95.8 135.9,89.3 136.8,88.9 C137.7,88.5 140.0,92.4 140.4,94.2 C140.8,96.0 140.8,104.6 140.9,106.7 C141.0,108.8 141.1,115.0 141.6,115.6 C142.1,116.2 144.8,113.3 145.7,112.8 C146.5,112.2 149.4,109.8 150.1,110.1 C150.8,110.4 152.4,114.2 152.6,116.0 C152.8,117.8 152.0,127.1 152.5,128.0 C153.0,128.9 156.4,125.0 157.2,125.2 C157.9,125.4 159.6,129.0 160.0,130.0 C160.4,131.0 160.2,135.3 161.0,135.5 C161.8,135.7 167.0,132.2 167.9,132.4 C168.8,132.6 169.7,136.1 170.0,137.0 C170.3,137.9 170.4,140.9 171.0,141.5 C171.6,142.1 175.0,142.5 176.1,143.0 C177.2,143.5 181.7,145.6 181.5,146.6 C181.3,147.6 174.2,151.7 174.4,152.8 C174.6,153.9 183.4,156.1 183.3,157.2 C183.2,158.3 173.8,161.9 173.5,163.5 C173.2,165.1 179.9,171.3 180.0,172.7 C180.1,174.1 174.9,176.1 174.7,177.1 C174.5,178.1 178.5,181.4 178.3,182.5 C178.1,183.6 173.3,186.8 172.9,187.8 C172.5,188.8 174.1,191.3 173.8,192.2 C173.5,193.1 170.8,195.9 170.2,196.7 C169.6,197.5 181.2,200.1 168.0,200.5 C154.8,200.9 51.3,200.9 38.0,200.5 Z" fill="url(#fanA)"/>
<g clip-path="url(#clipFanA)">
<path d="M96.9,192.0 C84.1,160.7 72.0,136.1 69.4,131.1 A7.0,7.0 0 0 0 56.9,137.4 C59.5,142.4 72.3,166.8 90.1,195.5 Z" fill="url(#fg1s)" stroke="#0a5a0a" stroke-opacity="0.13" stroke-width="0.6"/>
<path d="M95.0,192.8 C75.3,170.0 58.9,153.7 54.9,149.8 A7.0,7.0 0 0 0 45.2,159.9 C49.2,163.8 66.1,179.5 89.6,198.3 Z" fill="url(#fg2s)" stroke="#0a5a0a" stroke-opacity="0.13" stroke-width="0.6"/>
<path d="M102.0,194.1 C114.6,160.6 123.2,132.0 124.8,126.7 A7.0,7.0 0 0 0 111.3,122.8 C109.8,128.2 101.8,156.9 94.6,191.9 Z" fill="url(#fg3s)" stroke="#0a5a0a" stroke-opacity="0.13" stroke-width="0.6"/>
<path d="M102.9,195.6 C123.5,167.0 139.5,141.4 142.2,136.9 A6.5,6.5 0 0 0 131.1,130.2 C128.4,134.6 112.9,160.5 96.8,191.9 Z" fill="url(#fg4s)" stroke="#0a5a0a" stroke-opacity="0.13" stroke-width="0.6"/>
<path d="M97.9,192.1 C91.2,157.3 83.5,126.9 82.3,122.3 A6.0,6.0 0 0 0 70.7,125.3 C71.9,130.0 80.2,160.2 91.5,193.8 Z" fill="url(#fg5s)" stroke="#0a5a0a" stroke-opacity="0.13" stroke-width="0.6"/>
<path d="M102.3,197.7 C118.7,178.5 128.7,164.4 131.9,159.7 A7.0,7.0 0 0 0 120.3,151.9 C117.1,156.5 107.7,171.0 95.9,193.4 Z" fill="url(#fg6s)" stroke="#0a5a0a" stroke-opacity="0.13" stroke-width="0.6"/>
<path d="M96.1,193.9 C82.8,177.4 74.0,168.6 69.9,164.7 A7.0,7.0 0 0 0 60.3,174.9 C64.3,178.7 73.6,187.1 90.8,199.5 Z" fill="url(#fg7s)" stroke="#0a5a0a" stroke-opacity="0.13" stroke-width="0.6"/>
<path d="M102.5,199.5 C126.3,187.0 144.2,175.9 148.2,173.3 A6.0,6.0 0 0 0 141.7,163.2 C137.7,165.8 120.1,177.5 98.9,194.0 Z" fill="url(#fg8s)" stroke="#0a5a0a" stroke-opacity="0.13" stroke-width="0.6"/>
<path d="M90.4,196.4 C57.2,189.7 24.6,184.5 21.5,184.0 A4.0,4.0 0 0 0 20.3,192.0 C23.4,192.4 56.1,197.2 89.7,200.7 Z" fill="url(#fg9s)" stroke="#0a5a0a" stroke-opacity="0.13" stroke-width="0.6"/>
<path d="M91.0,194.6 C58.3,179.3 26.2,165.9 22.9,164.5 A4.5,4.5 0 0 0 19.5,172.9 C22.8,174.2 55.1,187.2 89.1,199.2 Z" fill="url(#fg10s)" stroke="#0a5a0a" stroke-opacity="0.13" stroke-width="0.6"/>
<path d="M92.3,191.6 C60.8,161.5 29.9,134.7 26.3,131.5 A6.0,6.0 0 0 0 18.5,140.7 C22.1,143.8 53.4,170.2 88.0,196.6 Z" fill="url(#fg11s)" stroke="#0a5a0a" stroke-opacity="0.13" stroke-width="0.6"/>
<path d="M92.8,191.1 C64.7,155.2 35.5,120.7 32.9,117.6 A5.0,5.0 0 0 0 25.3,124.2 C27.9,127.2 57.5,161.4 88.7,194.7 Z" fill="url(#fg12s)" stroke="#0a5a0a" stroke-opacity="0.13" stroke-width="0.6"/>
<path d="M93.7,189.7 C67.9,145.7 40.7,102.9 38.3,99.2 A5.5,5.5 0 0 0 29.1,105.2 C31.4,108.9 59.2,151.4 88.6,193.0 Z" fill="url(#fg13s)" stroke="#0a5a0a" stroke-opacity="0.13" stroke-width="0.6"/>
<path d="M98.0,189.0 C91.8,136.4 83.7,84.8 82.9,80.0 A6.0,6.0 0 0 0 71.1,82.0 C71.8,86.7 80.6,138.2 91.5,190.1 Z" fill="url(#fg14s)" stroke="#0a5a0a" stroke-opacity="0.13" stroke-width="0.6"/>
<path d="M98.3,190.9 C98.4,146.1 97.1,100.0 97.0,96.8 A4.0,4.0 0 0 0 89.0,97.0 C89.1,100.2 90.9,146.3 93.9,191.0 Z" fill="url(#fg15s)" stroke="#0a5a0a" stroke-opacity="0.13" stroke-width="0.6"/>
<path d="M99.0,190.9 C102.9,145.3 105.4,98.1 105.6,94.9 A4.0,4.0 0 0 0 97.6,94.5 C97.4,97.7 95.3,144.9 94.6,190.7 Z" fill="url(#fg16s)" stroke="#0a5a0a" stroke-opacity="0.13" stroke-width="0.6"/>
<path d="M99.1,193.5 C105.6,160.7 111.3,126.7 111.7,124.3 A3.0,3.0 0 0 0 105.8,123.4 C105.4,125.7 100.0,159.7 95.8,192.9 Z" fill="url(#fg17s)" stroke="#0a5a0a" stroke-opacity="0.13" stroke-width="0.6"/>
<path d="M101.2,192.4 C114.5,151.7 125.9,111.4 127.0,107.6 A5.0,5.0 0 0 0 117.3,104.9 C116.3,108.7 105.4,149.2 95.9,190.9 Z" fill="url(#fg18s)" stroke="#0a5a0a" stroke-opacity="0.13" stroke-width="0.6"/>
<path d="M102.5,191.7 C121.5,146.0 138.6,100.1 140.1,96.0 A5.5,5.5 0 0 0 129.7,92.2 C128.2,96.3 111.7,142.4 96.8,189.6 Z" fill="url(#fg19s)" stroke="#0a5a0a" stroke-opacity="0.13" stroke-width="0.6"/>
<path d="M102.8,193.6 C126.9,157.0 149.8,119.4 151.6,116.3 A4.5,4.5 0 0 0 143.9,111.6 C142.1,114.7 119.6,152.6 98.6,191.1 Z" fill="url(#fg20s)" stroke="#0a5a0a" stroke-opacity="0.13" stroke-width="0.6"/>
<path d="M103.0,194.9 C129.7,164.8 155.7,133.3 157.8,130.8 A4.0,4.0 0 0 0 151.6,125.8 C149.5,128.2 123.9,159.9 99.6,192.2 Z" fill="url(#fg21s)" stroke="#0a5a0a" stroke-opacity="0.13" stroke-width="0.6"/>
<path d="M103.6,195.7 C134.8,168.7 165.4,140.2 167.7,138.1 A4.0,4.0 0 0 0 162.2,132.2 C159.9,134.4 129.5,163.2 100.6,192.5 Z" fill="url(#fg22s)" stroke="#0a5a0a" stroke-opacity="0.13" stroke-width="0.6"/>
<path d="M104.2,196.9 C140.7,175.9 178.0,152.9 180.4,151.4 A3.5,3.5 0 0 0 176.7,145.5 C174.3,147.0 137.2,170.2 102.2,193.6 Z" fill="url(#fg23s)" stroke="#0a5a0a" stroke-opacity="0.13" stroke-width="0.6"/>
<path d="M104.2,197.8 C141.3,181.3 179.2,163.1 181.7,161.9 A3.5,3.5 0 0 0 178.6,155.6 C176.1,156.8 138.4,175.4 102.5,194.4 Z" fill="url(#fg24s)" stroke="#0a5a0a" stroke-opacity="0.13" stroke-width="0.6"/>
<path d="M103.7,199.2 C139.2,189.3 175.1,178.0 177.7,177.1 A3.5,3.5 0 0 0 175.6,170.4 C172.9,171.3 137.2,182.9 102.5,195.5 Z" fill="url(#fg25s)" stroke="#0a5a0a" stroke-opacity="0.13" stroke-width="0.6"/>
<path d="M103.3,199.8 C137.9,193.8 173.6,186.5 176.0,186.0 A3.0,3.0 0 0 0 174.8,180.2 C172.4,180.7 136.8,188.2 102.6,196.5 Z" fill="url(#fg26s)" stroke="#0a5a0a" stroke-opacity="0.13" stroke-width="0.6"/>
<path d="M102.7,200.6 C135.4,198.7 168.7,195.7 171.1,195.5 A3.0,3.0 0 0 0 170.5,189.5 C168.1,189.7 134.8,193.0 102.4,197.3 Z" fill="url(#fg27s)" stroke="#0a5a0a" stroke-opacity="0.13" stroke-width="0.6"/>
<path d="M90.9,196.4 C60.4,188.4 30.0,181.7 27.3,181.1 A3.5,3.5 0 0 0 25.8,188.0 C28.5,188.5 59.1,194.9 90.1,200.1 Z" fill="url(#fg28s)" stroke="#0a5a0a" stroke-opacity="0.13" stroke-width="0.6"/>
<path d="M114.3,160.5 C123.2,132.0 124.4,128.0 124.8,126.7 A7.0,7.0 0 0 0 111.3,122.8 C110.9,124.1 109.8,128.2 102.1,157.0 Z" fill="url(#tg1)"/>
<path d="M123.2,166.8 C139.5,141.4 141.5,138.0 142.2,136.9 A6.5,6.5 0 0 0 131.1,130.2 C130.4,131.3 128.4,134.6 113.2,160.7 Z" fill="url(#tg2)"/>
<path d="M102.7,145.3 C105.4,98.1 105.6,95.7 105.6,94.9 A4.0,4.0 0 0 0 97.6,94.5 C97.6,95.3 97.4,97.7 95.5,144.9 Z" fill="url(#tg3)"/>
<path d="M105.5,160.6 C111.3,126.7 111.6,124.9 111.7,124.3 A3.0,3.0 0 0 0 105.8,123.4 C105.7,124.0 105.4,125.7 100.1,159.8 Z" fill="url(#tg4)"/>
<path d="M114.3,151.6 C125.9,111.4 126.7,108.5 127.0,107.6 A5.0,5.0 0 0 0 117.3,104.9 C117.1,105.9 116.3,108.7 105.6,149.3 Z" fill="url(#tg5)"/>
<path d="M121.2,145.9 C138.6,100.1 139.7,97.0 140.1,96.0 A5.5,5.5 0 0 0 129.7,92.2 C129.4,93.2 128.2,96.3 112.0,142.5 Z" fill="url(#tg6)"/>
<path d="M126.7,156.9 C149.8,119.4 151.2,117.0 151.6,116.3 A4.5,4.5 0 0 0 143.9,111.6 C143.5,112.4 142.1,114.7 119.8,152.7 Z" fill="url(#tg7)"/>
<path d="M129.6,164.6 C155.7,133.3 157.3,131.4 157.8,130.8 A4.0,4.0 0 0 0 151.6,125.8 C151.1,126.4 149.5,128.2 124.0,160.1 Z" fill="url(#tg8)"/>
<path d="M134.6,168.6 C165.4,140.2 167.1,138.6 167.7,138.1 A4.0,4.0 0 0 0 162.2,132.2 C161.7,132.8 159.9,134.4 129.7,163.3 Z" fill="url(#tg9)"/>
</g>
<path d="M38.0,200.5 C24.7,200.1 36.0,197.6 34.6,196.9 C33.2,196.2 24.8,193.9 23.9,193.3 C23.0,192.7 26.4,191.3 25.7,190.7 C25.0,190.1 17.2,188.1 16.9,187.4 C16.6,186.7 21.6,184.5 23.1,183.8 C24.6,183.1 32.6,181.4 32.0,180.2 C31.4,179.0 18.3,173.0 16.9,171.4 C15.5,169.8 16.3,164.5 17.8,164.2 C19.3,163.9 29.9,168.4 32.0,168.7 C34.0,169.0 38.4,168.1 38.3,166.9 C38.2,165.7 32.3,158.8 31.1,157.1 C29.9,155.4 27.3,151.2 26.7,150.0 C26.1,148.8 25.7,147.0 24.9,145.6 C24.1,144.2 19.4,137.1 18.7,135.8 C18.0,134.5 16.8,133.4 17.8,132.2 C18.8,130.9 27.7,124.8 28.5,123.3 C29.3,121.8 26.0,118.4 25.8,117.1 C25.6,115.8 26.2,112.0 26.7,110.0 C27.2,108.0 30.1,99.1 30.7,97.6 C31.3,96.1 31.6,96.8 33.0,95.0 C34.4,93.2 42.3,81.8 45.0,80.0 C47.7,78.2 57.6,75.0 60.0,76.9 C62.4,78.8 67.7,97.2 68.9,99.1 C70.2,101.0 72.1,96.8 72.5,95.6 C72.9,94.4 73.1,88.5 73.3,86.7 C73.5,84.9 73.9,79.0 74.2,77.8 C74.5,76.6 75.5,75.2 76.0,75.1 C76.5,75.0 78.9,75.9 79.6,76.9 C80.3,77.9 82.4,83.0 83.1,84.9 C83.8,86.8 86.1,93.8 86.7,95.6 C87.3,97.4 88.8,103.0 89.4,102.7 C90.0,102.4 92.2,93.6 92.9,92.9 C93.6,92.2 95.1,96.2 96.0,96.0 C96.9,95.8 100.9,90.2 101.8,90.7 C102.7,91.2 104.3,98.9 104.8,101.4 C105.3,103.9 106.3,113.6 106.6,115.6 C106.9,117.6 107.2,121.3 107.5,121.8 C107.8,122.3 108.5,121.3 109.2,120.9 C109.9,120.5 113.7,118.6 114.6,117.4 C115.5,116.2 117.2,110.1 118.1,108.5 C119.0,106.9 122.6,101.6 123.5,101.4 C124.4,101.2 126.6,106.0 127.0,106.7 C127.4,107.4 127.5,109.4 127.9,108.5 C128.3,107.6 130.6,99.8 131.5,97.8 C132.4,95.8 135.9,89.3 136.8,88.9 C137.7,88.5 140.0,92.4 140.4,94.2 C140.8,96.0 140.8,104.6 140.9,106.7 C141.0,108.8 141.1,115.0 141.6,115.6 C142.1,116.2 144.8,113.3 145.7,112.8 C146.5,112.2 149.4,109.8 150.1,110.1 C150.8,110.4 152.4,114.2 152.6,116.0 C152.8,117.8 152.0,127.1 152.5,128.0 C153.0,128.9 156.4,125.0 157.2,125.2 C157.9,125.4 159.6,129.0 160.0,130.0 C160.4,131.0 160.2,135.3 161.0,135.5 C161.8,135.7 167.0,132.2 167.9,132.4 C168.8,132.6 169.7,136.1 170.0,137.0 C170.3,137.9 170.4,140.9 171.0,141.5 C171.6,142.1 175.0,142.5 176.1,143.0 C177.2,143.5 181.7,145.6 181.5,146.6 C181.3,147.6 174.2,151.7 174.4,152.8 C174.6,153.9 183.4,156.1 183.3,157.2 C183.2,158.3 173.8,161.9 173.5,163.5 C173.2,165.1 179.9,171.3 180.0,172.7 C180.1,174.1 174.9,176.1 174.7,177.1 C174.5,178.1 178.5,181.4 178.3,182.5 C178.1,183.6 173.3,186.8 172.9,187.8 C172.5,188.8 174.1,191.3 173.8,192.2 C173.5,193.1 170.8,195.9 170.2,196.7 C169.6,197.5 181.2,200.1 168.0,200.5 C154.8,200.9 51.3,200.9 38.0,200.5 Z" fill="url(#tealA)"/>
<g clip-path="url(#clipFanA)">
<line x1="96.4" y1="200.5" x2="142.1" y2="174.5" stroke="#1eb8a8" stroke-opacity="0.23" stroke-width="2.1" stroke-linecap="round"/>
<line x1="96.4" y1="200.5" x2="140.5" y2="164.9" stroke="#1eb8a8" stroke-opacity="0.27" stroke-width="2.1" stroke-linecap="round"/>
<line x1="96.4" y1="200.5" x2="95.8" y2="166.1" stroke="#1eb8a8" stroke-opacity="0.12" stroke-width="1.9" stroke-linecap="round"/>
<line x1="96.4" y1="200.5" x2="89.0" y2="173.7" stroke="#1eb8a8" stroke-opacity="0.26" stroke-width="1.6" stroke-linecap="round"/>
<line x1="96.4" y1="200.5" x2="116.3" y2="182.7" stroke="#1eb8a8" stroke-opacity="0.30" stroke-width="2.5" stroke-linecap="round"/>
<line x1="96.4" y1="200.5" x2="50.5" y2="181.5" stroke="#1eb8a8" stroke-opacity="0.13" stroke-width="1.8" stroke-linecap="round"/>
<line x1="96.4" y1="200.5" x2="96.6" y2="170.9" stroke="#1eb8a8" stroke-opacity="0.29" stroke-width="1.9" stroke-linecap="round"/>
<line x1="96.4" y1="200.5" x2="147.4" y2="173.5" stroke="#1eb8a8" stroke-opacity="0.14" stroke-width="2.9" stroke-linecap="round"/>
<line x1="96.4" y1="200.5" x2="103.3" y2="153.9" stroke="#1eb8a8" stroke-opacity="0.18" stroke-width="2.1" stroke-linecap="round"/>
<line x1="96.4" y1="200.5" x2="118.4" y2="185.8" stroke="#1eb8a8" stroke-opacity="0.28" stroke-width="1.6" stroke-linecap="round"/>
<line x1="96.4" y1="200.5" x2="70.7" y2="179.3" stroke="#1eb8a8" stroke-opacity="0.29" stroke-width="2.8" stroke-linecap="round"/>
<line x1="96.4" y1="200.5" x2="56.6" y2="161.8" stroke="#1eb8a8" stroke-opacity="0.22" stroke-width="2.5" stroke-linecap="round"/>
<line x1="96.4" y1="200.5" x2="137.2" y2="184.0" stroke="#1eb8a8" stroke-opacity="0.27" stroke-width="1.6" stroke-linecap="round"/>
<line x1="96.4" y1="200.5" x2="37.7" y2="186.0" stroke="#1eb8a8" stroke-opacity="0.19" stroke-width="1.9" stroke-linecap="round"/>
<line x1="96.4" y1="200.5" x2="102.6" y2="160.5" stroke="#1eb8a8" stroke-opacity="0.30" stroke-width="1.9" stroke-linecap="round"/>
<line x1="96.4" y1="200.5" x2="125.0" y2="198.1" stroke="#1eb8a8" stroke-opacity="0.25" stroke-width="3.0" stroke-linecap="round"/>
<line x1="96.4" y1="200.5" x2="97.0" y2="155.8" stroke="#1eb8a8" stroke-opacity="0.22" stroke-width="2.5" stroke-linecap="round"/>
<line x1="96.4" y1="200.5" x2="134.2" y2="168.8" stroke="#1eb8a8" stroke-opacity="0.22" stroke-width="2.3" stroke-linecap="round"/>
<line x1="96.4" y1="200.5" x2="123.2" y2="183.4" stroke="#1eb8a8" stroke-opacity="0.18" stroke-width="2.9" stroke-linecap="round"/>
<line x1="96.4" y1="200.5" x2="119.1" y2="157.2" stroke="#1eb8a8" stroke-opacity="0.18" stroke-width="1.4" stroke-linecap="round"/>
<line x1="96.4" y1="200.5" x2="152.7" y2="188.7" stroke="#1eb8a8" stroke-opacity="0.26" stroke-width="1.9" stroke-linecap="round"/>
<line x1="96.4" y1="200.5" x2="68.1" y2="156.9" stroke="#1eb8a8" stroke-opacity="0.28" stroke-width="2.9" stroke-linecap="round"/>
<line x1="96.4" y1="200.5" x2="115.0" y2="138.7" stroke="#1eb8a8" stroke-opacity="0.29" stroke-width="2.3" stroke-linecap="round"/>
<line x1="96.4" y1="200.5" x2="54.7" y2="184.5" stroke="#1eb8a8" stroke-opacity="0.19" stroke-width="1.6" stroke-linecap="round"/>
<line x1="96.4" y1="200.5" x2="67.3" y2="188.6" stroke="#1eb8a8" stroke-opacity="0.13" stroke-width="2.6" stroke-linecap="round"/>
<line x1="96.4" y1="200.5" x2="62.8" y2="171.6" stroke="#1eb8a8" stroke-opacity="0.27" stroke-width="1.3" stroke-linecap="round"/>
<line x1="96.4" y1="200.5" x2="121.6" y2="174.0" stroke="#1eb8a8" stroke-opacity="0.20" stroke-width="1.5" stroke-linecap="round"/>
<line x1="96.4" y1="200.5" x2="134.0" y2="192.2" stroke="#1eb8a8" stroke-opacity="0.28" stroke-width="3.0" stroke-linecap="round"/>
<line x1="96.4" y1="200.5" x2="65.6" y2="168.9" stroke="#1eb8a8" stroke-opacity="0.17" stroke-width="2.9" stroke-linecap="round"/>
<line x1="96.4" y1="200.5" x2="92.0" y2="146.5" stroke="#1eb8a8" stroke-opacity="0.13" stroke-width="1.6" stroke-linecap="round"/>
<line x1="96.4" y1="200.5" x2="46.8" y2="172.9" stroke="#1eb8a8" stroke-opacity="0.28" stroke-width="2.3" stroke-linecap="round"/>
<line x1="96.4" y1="200.5" x2="107.5" y2="153.5" stroke="#1eb8a8" stroke-opacity="0.27" stroke-width="1.8" stroke-linecap="round"/>
<line x1="96.4" y1="200.5" x2="92.5" y2="164.7" stroke="#1eb8a8" stroke-opacity="0.26" stroke-width="1.2" stroke-linecap="round"/>
<line x1="96.4" y1="200.5" x2="61.7" y2="147.7" stroke="#1eb8a8" stroke-opacity="0.12" stroke-width="2.3" stroke-linecap="round"/>
<line x1="96.4" y1="200.5" x2="70.6" y2="147.4" stroke="#1eb8a8" stroke-opacity="0.23" stroke-width="1.7" stroke-linecap="round"/>
<line x1="96.4" y1="200.5" x2="114.9" y2="139.9" stroke="#1eb8a8" stroke-opacity="0.28" stroke-width="1.4" stroke-linecap="round"/>
<line x1="96.4" y1="200.5" x2="123.9" y2="192.1" stroke="#1eb8a8" stroke-opacity="0.12" stroke-width="2.0" stroke-linecap="round"/>
<line x1="96.4" y1="200.5" x2="150.3" y2="174.9" stroke="#1eb8a8" stroke-opacity="0.24" stroke-width="1.4" stroke-linecap="round"/>
<line x1="96.4" y1="200.5" x2="91.8" y2="162.8" stroke="#1eb8a8" stroke-opacity="0.21" stroke-width="1.6" stroke-linecap="round"/>
<line x1="96.4" y1="200.5" x2="124.5" y2="184.4" stroke="#1eb8a8" stroke-opacity="0.19" stroke-width="2.5" stroke-linecap="round"/>
</g>
<rect x="0" y="160" width="275" height="41" fill="url(#botA)" clip-path="url(#clipFanA)"/>
<rect x="97" y="130" width="100" height="71" fill="url(#diagA)" clip-path="url(#clipFanA)"/>
<path d="M44.0,200.5 L44.0,203.0 L41.0,215.0 L38.5,226.0 L36.0,234.0 L34.0,237.4 L151.0,237.4 L151.0,232.0 L151.0,224.0 L152.0,217.0 L153.0,208.0 L156.0,203.0 L166.0,200.5 Z" fill="url(#lowA)"/>
<g fill="url(#lowA)">
<path d="M52.0,201.3 L41.9,202.7 L52.0,202.7 Z"/>
<path d="M51.5,203.2 L40.7,204.7 L51.5,204.6 Z"/>
<path d="M51.0,204.8 L40.1,206.7 L51.0,206.9 Z"/>
<path d="M50.7,206.3 L37.2,208.6 L50.7,208.1 Z"/>
<path d="M50.1,208.7 L39.4,210.2 L50.1,210.0 Z"/>
<path d="M49.7,210.1 L38.2,212.0 L49.7,211.8 Z"/>
<path d="M49.1,212.4 L37.4,214.2 L49.1,213.9 Z"/>
<path d="M48.6,213.7 L30.4,217.4 L48.6,216.1 Z"/>
<path d="M48.3,215.0 L30.8,218.6 L48.3,217.6 Z"/>
<path d="M47.8,217.2 L29.5,220.7 L47.8,219.3 Z"/>
<path d="M47.3,219.5 L29.9,222.5 L47.3,221.0 Z"/>
<path d="M46.9,220.8 L36.5,222.4 L46.9,222.5 Z"/>
<path d="M46.5,222.1 L29.4,225.5 L46.5,224.4 Z"/>
<path d="M45.9,224.3 L24.4,228.6 L45.9,226.6 Z"/>
<path d="M45.6,225.8 L28.1,229.1 L45.6,227.8 Z"/>
<path d="M45.2,226.9 L32.8,229.3 L45.2,229.3 Z"/>
<path d="M44.7,229.1 L33.5,230.9 L44.7,230.9 Z"/>
<path d="M44.2,231.1 L21.0,235.4 L44.2,232.6 Z"/>
<path d="M43.7,232.7 L27.5,235.9 L43.7,235.0 Z"/>
<path d="M43.4,233.9 L32.0,236.1 L43.4,236.4 Z"/>
</g>
<line x1="48.5" y1="203.9" x2="41.7" y2="204.7" stroke="#c8f4f0" stroke-opacity="0.45" stroke-width="0.6"/>
<line x1="45.3" y1="216.3" x2="31.8" y2="218.6" stroke="#c8f4f0" stroke-opacity="0.45" stroke-width="0.6"/>
<line x1="44.8" y1="218.2" x2="30.5" y2="220.7" stroke="#c8f4f0" stroke-opacity="0.45" stroke-width="0.6"/>
<line x1="43.9" y1="221.7" x2="37.5" y2="222.4" stroke="#c8f4f0" stroke-opacity="0.45" stroke-width="0.6"/>
<line x1="42.9" y1="225.4" x2="25.4" y2="228.6" stroke="#c8f4f0" stroke-opacity="0.45" stroke-width="0.6"/>
<line x1="40.4" y1="235.2" x2="33.0" y2="236.1" stroke="#c8f4f0" stroke-opacity="0.45" stroke-width="0.6"/>
<g fill="url(#lowA)">
<path d="M148.0,200.8 L161.4,202.3 L148.0,202.2 Z"/>
<path d="M147.7,202.6 L161.9,204.4 L147.7,204.5 Z"/>
<path d="M147.4,204.4 L159.7,205.7 L147.4,205.8 Z"/>
<path d="M147.1,206.0 L157.8,207.4 L147.1,207.8 Z"/>
<path d="M146.8,207.3 L161.5,209.5 L146.8,209.8 Z"/>
<path d="M146.6,209.0 L156.0,210.1 L146.6,210.7 Z"/>
<path d="M146.3,210.8 L160.0,212.6 L146.3,212.7 Z"/>
<path d="M146.0,212.6 L155.1,213.8 L146.0,214.5 Z"/>
<path d="M145.7,214.1 L154.7,215.4 L145.7,216.2 Z"/>
<path d="M145.5,215.8 L157.5,217.0 L145.5,217.0 Z"/>
<path d="M145.2,216.7 L158.7,218.5 L145.2,218.8 Z"/>
<path d="M145.0,218.1 L157.7,219.8 L145.0,220.2 Z"/>
<path d="M144.6,220.5 L156.7,221.9 L144.6,222.1 Z"/>
<path d="M144.3,222.0 L154.4,223.3 L144.3,224.0 Z"/>
<path d="M144.1,224.0 L155.7,225.2 L144.1,225.3 Z"/>
<path d="M143.9,225.1 L155.8,226.5 L143.9,226.7 Z"/>
<path d="M143.5,227.4 L152.8,228.4 L143.5,228.8 Z"/>
<path d="M143.2,228.6 L154.5,230.1 L143.2,230.5 Z"/>
<path d="M142.9,230.5 L153.1,231.7 L142.9,232.1 Z"/>
<path d="M142.7,231.7 L153.7,233.4 L142.7,234.1 Z"/>
<path d="M142.4,233.7 L153.6,234.9 L142.4,235.1 Z"/>
<path d="M142.1,235.2 L152.3,236.4 L142.1,236.7 Z"/>
</g>
<line x1="149.0" y1="213.5" x2="154.1" y2="213.8" stroke="#c8f4f0" stroke-opacity="0.45" stroke-width="0.6"/>
<line x1="147.3" y1="223.0" x2="153.4" y2="223.3" stroke="#c8f4f0" stroke-opacity="0.45" stroke-width="0.6"/>
<line x1="146.9" y1="225.9" x2="154.8" y2="226.5" stroke="#c8f4f0" stroke-opacity="0.45" stroke-width="0.6"/>
<line x1="145.7" y1="232.9" x2="152.7" y2="233.4" stroke="#c8f4f0" stroke-opacity="0.45" stroke-width="0.6"/>
<g clip-path="url(#clipLowA)"><line x1="88.3" y1="203.5" x2="75.2" y2="206.9" stroke="#22b8a8" stroke-opacity="0.6" stroke-width="0.7" stroke-linecap="round"/>
<line x1="102.2" y1="223.1" x2="111.3" y2="235.0" stroke="#8ce0d8" stroke-opacity="0.3" stroke-width="0.7" stroke-linecap="round"/>
<line x1="73.9" y1="211.6" x2="41.0" y2="218.2" stroke="#28b4b0" stroke-opacity="0.6" stroke-width="1.1" stroke-linecap="round"/>
<line x1="102.2" y1="201.0" x2="112.0" y2="203.3" stroke="#30a8c4" stroke-opacity="0.6" stroke-width="0.6" stroke-linecap="round"/>
<line x1="117.3" y1="206.8" x2="148.2" y2="211.4" stroke="#3c98cc" stroke-opacity="0.5" stroke-width="1.0" stroke-linecap="round"/>
<line x1="109.2" y1="202.4" x2="125.9" y2="204.9" stroke="#28b4b8" stroke-opacity="0.7" stroke-width="1.0" stroke-linecap="round"/>
<line x1="78.2" y1="219.2" x2="59.4" y2="227.1" stroke="#1ebe90" stroke-opacity="0.7" stroke-width="1.3" stroke-linecap="round"/>
<line x1="85.9" y1="207.9" x2="81.4" y2="210.0" stroke="#28b4b8" stroke-opacity="0.7" stroke-width="1.1" stroke-linecap="round"/>
<line x1="100.0" y1="225.6" x2="103.9" y2="236.0" stroke="#20b89c" stroke-opacity="0.7" stroke-width="0.7" stroke-linecap="round"/>
<line x1="92.2" y1="221.9" x2="89.1" y2="229.0" stroke="#20b89c" stroke-opacity="0.7" stroke-width="1.4" stroke-linecap="round"/>
<line x1="55.4" y1="219.6" x2="39.3" y2="223.5" stroke="#22c07a" stroke-opacity="0.6" stroke-width="1.2" stroke-linecap="round"/>
<line x1="108.7" y1="219.6" x2="113.3" y2="223.3" stroke="#22c07a" stroke-opacity="0.6" stroke-width="1.0" stroke-linecap="round"/>
<line x1="114.0" y1="202.0" x2="123.8" y2="203.3" stroke="#2aa0c8" stroke-opacity="0.5" stroke-width="1.3" stroke-linecap="round"/>
<line x1="86.7" y1="209.8" x2="69.6" y2="216.2" stroke="#8ce0d8" stroke-opacity="0.35" stroke-width="0.9" stroke-linecap="round"/>
<line x1="105.4" y1="213.2" x2="115.1" y2="219.3" stroke="#22c264" stroke-opacity="0.5" stroke-width="0.8" stroke-linecap="round"/>
<line x1="90.4" y1="224.7" x2="85.5" y2="233.0" stroke="#1ebe90" stroke-opacity="0.7" stroke-width="0.8" stroke-linecap="round"/>
<line x1="64.8" y1="214.1" x2="49.1" y2="217.7" stroke="#3c98cc" stroke-opacity="0.5" stroke-width="1.1" stroke-linecap="round"/>
<line x1="91.3" y1="205.3" x2="84.1" y2="209.1" stroke="#2aa0c8" stroke-opacity="0.5" stroke-width="0.8" stroke-linecap="round"/>
<line x1="97.0" y1="214.3" x2="98.1" y2="223.1" stroke="#8ce0d8" stroke-opacity="0.3" stroke-width="1.0" stroke-linecap="round"/>
<line x1="109.9" y1="210.3" x2="114.8" y2="212.5" stroke="#22b8a8" stroke-opacity="0.6" stroke-width="1.1" stroke-linecap="round"/>
<line x1="126.7" y1="217.0" x2="135.3" y2="219.6" stroke="#22c264" stroke-opacity="0.5" stroke-width="1.2" stroke-linecap="round"/>
<line x1="89.6" y1="211.9" x2="85.7" y2="215.5" stroke="#28b4b8" stroke-opacity="0.7" stroke-width="0.8" stroke-linecap="round"/>
<line x1="67.1" y1="217.7" x2="47.9" y2="223.0" stroke="#1ebe90" stroke-opacity="0.7" stroke-width="0.7" stroke-linecap="round"/>
<line x1="86.4" y1="200.9" x2="80.5" y2="202.0" stroke="#30a8c4" stroke-opacity="0.6" stroke-width="1.1" stroke-linecap="round"/>
<line x1="96.6" y1="204.3" x2="96.6" y2="205.3" stroke="#8ce0d8" stroke-opacity="0.35" stroke-width="1.0" stroke-linecap="round"/>
<line x1="71.5" y1="202.3" x2="43.2" y2="204.6" stroke="#2aa0c8" stroke-opacity="0.5" stroke-width="0.7" stroke-linecap="round"/>
<line x1="70.1" y1="225.4" x2="33.3" y2="237.5" stroke="#1ebe90" stroke-opacity="0.7" stroke-width="1.3" stroke-linecap="round"/>
<line x1="112.3" y1="207.6" x2="137.0" y2="212.7" stroke="#3c98cc" stroke-opacity="0.5" stroke-width="1.0" stroke-linecap="round"/>
<line x1="74.1" y1="217.2" x2="61.4" y2="222.0" stroke="#1ebe90" stroke-opacity="0.7" stroke-width="1.2" stroke-linecap="round"/>
<line x1="118.1" y1="223.4" x2="144.3" y2="233.8" stroke="#1ebe90" stroke-opacity="0.7" stroke-width="1.0" stroke-linecap="round"/>
<line x1="117.4" y1="228.4" x2="133.7" y2="237.5" stroke="#28b4b0" stroke-opacity="0.6" stroke-width="1.2" stroke-linecap="round"/>
<line x1="81.3" y1="205.5" x2="62.3" y2="209.2" stroke="#22b8a8" stroke-opacity="0.6" stroke-width="1.4" stroke-linecap="round"/>
<line x1="106.6" y1="199.8" x2="116.5" y2="201.1" stroke="#2aa0c8" stroke-opacity="0.5" stroke-width="0.7" stroke-linecap="round"/>
<line x1="115.1" y1="231.0" x2="123.5" y2="237.5" stroke="#8ce0d8" stroke-opacity="0.3" stroke-width="1.3" stroke-linecap="round"/>
<line x1="92.4" y1="221.1" x2="91.2" y2="224.3" stroke="#22c264" stroke-opacity="0.5" stroke-width="0.9" stroke-linecap="round"/>
<line x1="92.0" y1="225.6" x2="86.2" y2="237.5" stroke="#28b4b0" stroke-opacity="0.6" stroke-width="0.6" stroke-linecap="round"/>
<line x1="106.9" y1="215.0" x2="113.2" y2="219.4" stroke="#1ebe90" stroke-opacity="0.7" stroke-width="1.4" stroke-linecap="round"/>
<line x1="107.0" y1="209.1" x2="122.4" y2="214.6" stroke="#28b4b8" stroke-opacity="0.7" stroke-width="1.2" stroke-linecap="round"/>
<line x1="111.5" y1="202.4" x2="132.9" y2="205.0" stroke="#30a8c4" stroke-opacity="0.6" stroke-width="1.3" stroke-linecap="round"/>
<line x1="80.0" y1="206.4" x2="60.6" y2="210.3" stroke="#22b8a8" stroke-opacity="0.6" stroke-width="0.9" stroke-linecap="round"/>
<line x1="102.9" y1="225.9" x2="105.9" y2="231.5" stroke="#8ce0d8" stroke-opacity="0.3" stroke-width="1.1" stroke-linecap="round"/>
<line x1="133.4" y1="218.6" x2="146.1" y2="221.9" stroke="#28b4b0" stroke-opacity="0.6" stroke-width="1.0" stroke-linecap="round"/>
<line x1="99.5" y1="199.9" x2="103.5" y2="201.5" stroke="#28b4b8" stroke-opacity="0.7" stroke-width="1.2" stroke-linecap="round"/>
<line x1="77.9" y1="203.3" x2="50.6" y2="206.4" stroke="#28b4b8" stroke-opacity="0.7" stroke-width="0.9" stroke-linecap="round"/>
<line x1="99.0" y1="215.1" x2="103.0" y2="223.3" stroke="#1ebe90" stroke-opacity="0.7" stroke-width="0.6" stroke-linecap="round"/>
<line x1="75.6" y1="200.8" x2="58.8" y2="202.1" stroke="#28b4b8" stroke-opacity="0.7" stroke-width="1.2" stroke-linecap="round"/>
<line x1="109.4" y1="216.4" x2="116.0" y2="220.6" stroke="#8ce0d8" stroke-opacity="0.3" stroke-width="1.0" stroke-linecap="round"/>
<line x1="123.0" y1="215.0" x2="141.9" y2="219.9" stroke="#22c07a" stroke-opacity="0.6" stroke-width="1.3" stroke-linecap="round"/>
<line x1="127.8" y1="205.7" x2="154.8" y2="208.6" stroke="#8ce0d8" stroke-opacity="0.35" stroke-width="1.0" stroke-linecap="round"/>
<line x1="61.7" y1="207.1" x2="43.1" y2="209.5" stroke="#28b4b8" stroke-opacity="0.7" stroke-width="1.3" stroke-linecap="round"/>
<line x1="77.6" y1="219.6" x2="51.1" y2="229.4" stroke="#28b4b0" stroke-opacity="0.6" stroke-width="1.4" stroke-linecap="round"/>
<line x1="76.5" y1="228.6" x2="61.4" y2="237.5" stroke="#22c264" stroke-opacity="0.5" stroke-width="1.3" stroke-linecap="round"/>
<line x1="74.5" y1="212.3" x2="52.8" y2="217.7" stroke="#30a8c4" stroke-opacity="0.6" stroke-width="0.9" stroke-linecap="round"/>
<line x1="67.3" y1="210.6" x2="44.1" y2="214.7" stroke="#2aa0c8" stroke-opacity="0.5" stroke-width="0.6" stroke-linecap="round"/>
<line x1="88.9" y1="216.1" x2="76.6" y2="225.2" stroke="#30a8c0" stroke-opacity="0.4" stroke-width="0.8" stroke-linecap="round"/>
<line x1="138.1" y1="202.9" x2="151.4" y2="203.8" stroke="#30a8c4" stroke-opacity="0.6" stroke-width="0.8" stroke-linecap="round"/>
<line x1="60.3" y1="215.1" x2="46.1" y2="218.3" stroke="#22c07a" stroke-opacity="0.6" stroke-width="0.9" stroke-linecap="round"/>
<line x1="100.8" y1="214.6" x2="105.3" y2="220.9" stroke="#22c07a" stroke-opacity="0.6" stroke-width="0.6" stroke-linecap="round"/>
<line x1="118.6" y1="214.1" x2="125.1" y2="216.4" stroke="#2aa0c8" stroke-opacity="0.5" stroke-width="0.7" stroke-linecap="round"/>
<line x1="82.9" y1="216.3" x2="67.6" y2="223.7" stroke="#20b89c" stroke-opacity="0.7" stroke-width="1.0" stroke-linecap="round"/>
<line x1="87.2" y1="216.4" x2="76.8" y2="223.7" stroke="#28b4b0" stroke-opacity="0.6" stroke-width="0.6" stroke-linecap="round"/>
<line x1="112.7" y1="226.5" x2="131.3" y2="237.5" stroke="#28b4b0" stroke-opacity="0.6" stroke-width="0.8" stroke-linecap="round"/>
<line x1="85.3" y1="208.7" x2="73.2" y2="213.2" stroke="#22b8a8" stroke-opacity="0.6" stroke-width="1.1" stroke-linecap="round"/>
<line x1="85.4" y1="222.1" x2="66.5" y2="234.2" stroke="#20b89c" stroke-opacity="0.7" stroke-width="1.2" stroke-linecap="round"/>
<line x1="104.8" y1="206.8" x2="107.3" y2="208.1" stroke="#28b4b8" stroke-opacity="0.7" stroke-width="1.1" stroke-linecap="round"/>
<line x1="115.1" y1="222.8" x2="121.3" y2="226.6" stroke="#1ebe90" stroke-opacity="0.7" stroke-width="0.8" stroke-linecap="round"/>
<line x1="70.4" y1="207.6" x2="61.6" y2="209.3" stroke="#2aa0c8" stroke-opacity="0.5" stroke-width="1.1" stroke-linecap="round"/>
<line x1="92.7" y1="208.3" x2="87.4" y2="213.4" stroke="#28b4b8" stroke-opacity="0.7" stroke-width="1.1" stroke-linecap="round"/>
<line x1="131.5" y1="212.9" x2="150.5" y2="216.5" stroke="#8ce0d8" stroke-opacity="0.35" stroke-width="1.3" stroke-linecap="round"/>
<line x1="109.3" y1="207.4" x2="123.3" y2="211.3" stroke="#8ce0d8" stroke-opacity="0.35" stroke-width="0.7" stroke-linecap="round"/>
<line x1="82.4" y1="199.6" x2="68.3" y2="200.8" stroke="#22b8a8" stroke-opacity="0.6" stroke-width="0.9" stroke-linecap="round"/>
<line x1="70.7" y1="223.2" x2="37.0" y2="234.0" stroke="#22c07a" stroke-opacity="0.6" stroke-width="0.9" stroke-linecap="round"/>
<line x1="96.5" y1="214.6" x2="96.7" y2="219.6" stroke="#20b89c" stroke-opacity="0.7" stroke-width="0.7" stroke-linecap="round"/>
<line x1="122.1" y1="204.0" x2="145.1" y2="206.5" stroke="#3c98cc" stroke-opacity="0.5" stroke-width="0.8" stroke-linecap="round"/>
<line x1="73.2" y1="219.4" x2="62.7" y2="223.8" stroke="#22c264" stroke-opacity="0.5" stroke-width="1.3" stroke-linecap="round"/>
<line x1="126.7" y1="220.2" x2="141.3" y2="224.9" stroke="#8ce0d8" stroke-opacity="0.3" stroke-width="0.7" stroke-linecap="round"/>
<line x1="120.6" y1="220.5" x2="129.8" y2="224.4" stroke="#1ebe90" stroke-opacity="0.7" stroke-width="1.1" stroke-linecap="round"/>
<line x1="116.9" y1="223.8" x2="131.4" y2="231.0" stroke="#1ebe90" stroke-opacity="0.7" stroke-width="1.1" stroke-linecap="round"/>
<line x1="130.9" y1="200.7" x2="145.0" y2="201.5" stroke="#2aa0c8" stroke-opacity="0.5" stroke-width="1.1" stroke-linecap="round"/>
<line x1="108.4" y1="205.2" x2="125.6" y2="209.0" stroke="#3c98cc" stroke-opacity="0.5" stroke-width="1.4" stroke-linecap="round"/>
<line x1="91.8" y1="210.5" x2="83.6" y2="217.3" stroke="#22b8a8" stroke-opacity="0.6" stroke-width="1.1" stroke-linecap="round"/>
<line x1="98.0" y1="200.3" x2="98.8" y2="201.1" stroke="#22b8a8" stroke-opacity="0.6" stroke-width="1.3" stroke-linecap="round"/>
<line x1="65.6" y1="216.4" x2="41.6" y2="222.0" stroke="#30a8c0" stroke-opacity="0.4" stroke-width="0.7" stroke-linecap="round"/>
<line x1="77.3" y1="223.1" x2="68.4" y2="228.2" stroke="#8ce0d8" stroke-opacity="0.3" stroke-width="1.0" stroke-linecap="round"/>
<line x1="87.4" y1="216.3" x2="83.5" y2="220.0" stroke="#1ebe90" stroke-opacity="0.7" stroke-width="1.1" stroke-linecap="round"/>
<line x1="72.2" y1="218.7" x2="58.7" y2="223.7" stroke="#22c264" stroke-opacity="0.5" stroke-width="0.8" stroke-linecap="round"/>
<line x1="102.4" y1="199.7" x2="109.0" y2="201.0" stroke="#2aa0c8" stroke-opacity="0.5" stroke-width="0.7" stroke-linecap="round"/>
<line x1="78.9" y1="214.1" x2="59.9" y2="220.5" stroke="#8ce0d8" stroke-opacity="0.3" stroke-width="1.0" stroke-linecap="round"/>
<line x1="58.6" y1="230.3" x2="48.5" y2="234.4" stroke="#8ce0d8" stroke-opacity="0.3" stroke-width="0.6" stroke-linecap="round"/>
<line x1="95.3" y1="226.1" x2="94.4" y2="234.8" stroke="#22c07a" stroke-opacity="0.6" stroke-width="0.9" stroke-linecap="round"/>
<line x1="69.6" y1="202.3" x2="39.1" y2="204.5" stroke="#3c98cc" stroke-opacity="0.5" stroke-width="0.7" stroke-linecap="round"/>
<line x1="130.2" y1="217.5" x2="147.2" y2="221.7" stroke="#28b4b0" stroke-opacity="0.6" stroke-width="1.0" stroke-linecap="round"/>
<line x1="138.6" y1="213.2" x2="150.7" y2="215.4" stroke="#2aa0c8" stroke-opacity="0.5" stroke-width="1.0" stroke-linecap="round"/>
<line x1="84.8" y1="203.5" x2="72.9" y2="206.1" stroke="#3c98cc" stroke-opacity="0.5" stroke-width="0.6" stroke-linecap="round"/>
<line x1="124.9" y1="227.8" x2="133.6" y2="232.0" stroke="#22c264" stroke-opacity="0.5" stroke-width="0.6" stroke-linecap="round"/>
<line x1="115.1" y1="206.6" x2="131.9" y2="210.0" stroke="#22b8a8" stroke-opacity="0.6" stroke-width="0.7" stroke-linecap="round"/>
<line x1="129.2" y1="208.3" x2="147.1" y2="210.9" stroke="#2aa0c8" stroke-opacity="0.5" stroke-width="1.3" stroke-linecap="round"/>
<line x1="82.8" y1="206.9" x2="65.1" y2="211.2" stroke="#3c98cc" stroke-opacity="0.5" stroke-width="1.2" stroke-linecap="round"/>
<line x1="93.0" y1="200.7" x2="89.9" y2="202.1" stroke="#22b8a8" stroke-opacity="0.6" stroke-width="1.0" stroke-linecap="round"/>
<line x1="116.0" y1="201.3" x2="131.8" y2="202.9" stroke="#30a8c4" stroke-opacity="0.6" stroke-width="1.1" stroke-linecap="round"/>
<line x1="85.3" y1="200.9" x2="69.0" y2="203.0" stroke="#8ce0d8" stroke-opacity="0.35" stroke-width="0.9" stroke-linecap="round"/>
<line x1="78.7" y1="208.5" x2="69.0" y2="211.2" stroke="#8ce0d8" stroke-opacity="0.35" stroke-width="1.1" stroke-linecap="round"/>
<line x1="86.3" y1="214.7" x2="72.6" y2="222.3" stroke="#28b4b0" stroke-opacity="0.6" stroke-width="0.7" stroke-linecap="round"/>
<line x1="98.6" y1="224.5" x2="100.3" y2="232.7" stroke="#22c07a" stroke-opacity="0.6" stroke-width="1.4" stroke-linecap="round"/>
<line x1="95.2" y1="202.9" x2="93.3" y2="205.9" stroke="#3c98cc" stroke-opacity="0.5" stroke-width="1.0" stroke-linecap="round"/>
<line x1="86.6" y1="210.3" x2="74.2" y2="215.8" stroke="#28b4b8" stroke-opacity="0.7" stroke-width="1.2" stroke-linecap="round"/>
<line x1="92.0" y1="212.0" x2="88.0" y2="217.0" stroke="#3c98cc" stroke-opacity="0.5" stroke-width="1.2" stroke-linecap="round"/>
<line x1="98.7" y1="218.2" x2="99.9" y2="222.8" stroke="#1ebe90" stroke-opacity="0.7" stroke-width="1.1" stroke-linecap="round"/>
<line x1="121.0" y1="205.4" x2="149.6" y2="208.9" stroke="#8ce0d8" stroke-opacity="0.35" stroke-width="1.1" stroke-linecap="round"/>
<line x1="91.7" y1="211.7" x2="90.5" y2="213.6" stroke="#30a8c4" stroke-opacity="0.6" stroke-width="0.6" stroke-linecap="round"/>
<line x1="116.7" y1="228.0" x2="129.4" y2="235.7" stroke="#20b89c" stroke-opacity="0.7" stroke-width="0.7" stroke-linecap="round"/>
<line x1="101.8" y1="215.5" x2="104.1" y2="218.9" stroke="#28b4b0" stroke-opacity="0.6" stroke-width="0.7" stroke-linecap="round"/>
<line x1="101.3" y1="223.7" x2="103.7" y2="229.0" stroke="#22c264" stroke-opacity="0.5" stroke-width="1.3" stroke-linecap="round"/>
<line x1="117.8" y1="201.6" x2="157.3" y2="204.3" stroke="#30a8c4" stroke-opacity="0.6" stroke-width="0.8" stroke-linecap="round"/>
<line x1="81.8" y1="203.8" x2="73.4" y2="205.5" stroke="#2aa0c8" stroke-opacity="0.5" stroke-width="1.2" stroke-linecap="round"/>
<line x1="72.5" y1="208.5" x2="41.5" y2="213.3" stroke="#3c98cc" stroke-opacity="0.5" stroke-width="0.8" stroke-linecap="round"/>
<line x1="106.2" y1="199.9" x2="114.0" y2="201.1" stroke="#3c98cc" stroke-opacity="0.5" stroke-width="1.1" stroke-linecap="round"/>
<line x1="122.1" y1="212.6" x2="152.2" y2="218.7" stroke="#8ce0d8" stroke-opacity="0.3" stroke-width="1.2" stroke-linecap="round"/>
<line x1="81.3" y1="200.6" x2="73.3" y2="201.6" stroke="#8ce0d8" stroke-opacity="0.35" stroke-width="0.7" stroke-linecap="round"/>
<line x1="77.1" y1="212.5" x2="62.6" y2="217.1" stroke="#2aa0c8" stroke-opacity="0.5" stroke-width="0.9" stroke-linecap="round"/>
<line x1="91.4" y1="222.0" x2="89.3" y2="226.4" stroke="#22c264" stroke-opacity="0.5" stroke-width="1.3" stroke-linecap="round"/>
<line x1="58.3" y1="215.8" x2="41.6" y2="219.3" stroke="#28b4b0" stroke-opacity="0.6" stroke-width="0.8" stroke-linecap="round"/>
<line x1="69.7" y1="226.0" x2="62.1" y2="229.7" stroke="#8ce0d8" stroke-opacity="0.3" stroke-width="1.1" stroke-linecap="round"/>
<line x1="143.7" y1="202.2" x2="158.3" y2="203.1" stroke="#28b4b8" stroke-opacity="0.7" stroke-width="0.8" stroke-linecap="round"/>
<line x1="88.5" y1="230.9" x2="84.8" y2="237.5" stroke="#20b89c" stroke-opacity="0.7" stroke-width="1.3" stroke-linecap="round"/>
<line x1="82.0" y1="206.6" x2="75.3" y2="208.6" stroke="#28b4b8" stroke-opacity="0.7" stroke-width="0.8" stroke-linecap="round"/>
<line x1="116.9" y1="226.7" x2="133.7" y2="235.7" stroke="#20b89c" stroke-opacity="0.7" stroke-width="0.6" stroke-linecap="round"/>
<line x1="84.9" y1="209.7" x2="68.0" y2="215.5" stroke="#30a8c4" stroke-opacity="0.6" stroke-width="0.9" stroke-linecap="round"/>
<line x1="113.1" y1="208.1" x2="139.2" y2="213.4" stroke="#2aa0c8" stroke-opacity="0.5" stroke-width="1.0" stroke-linecap="round"/>
<line x1="89.5" y1="225.8" x2="82.9" y2="235.3" stroke="#8ce0d8" stroke-opacity="0.3" stroke-width="0.6" stroke-linecap="round"/>
<line x1="93.1" y1="221.7" x2="87.5" y2="233.6" stroke="#20b89c" stroke-opacity="0.7" stroke-width="1.0" stroke-linecap="round"/>
<line x1="113.3" y1="200.8" x2="141.1" y2="202.9" stroke="#22b8a8" stroke-opacity="0.6" stroke-width="0.9" stroke-linecap="round"/>
<line x1="83.1" y1="226.5" x2="68.0" y2="237.5" stroke="#22c264" stroke-opacity="0.5" stroke-width="1.2" stroke-linecap="round"/>
<line x1="124.4" y1="221.8" x2="132.4" y2="225.0" stroke="#20b89c" stroke-opacity="0.7" stroke-width="0.6" stroke-linecap="round"/>
<line x1="69.0" y1="217.9" x2="61.3" y2="220.6" stroke="#8ce0d8" stroke-opacity="0.3" stroke-width="1.2" stroke-linecap="round"/>
<line x1="61.9" y1="216.2" x2="51.5" y2="218.8" stroke="#22c07a" stroke-opacity="0.6" stroke-width="1.3" stroke-linecap="round"/>
<line x1="116.7" y1="216.9" x2="137.6" y2="224.0" stroke="#22c07a" stroke-opacity="0.6" stroke-width="1.2" stroke-linecap="round"/>
<line x1="103.6" y1="213.4" x2="113.4" y2="220.5" stroke="#8ce0d8" stroke-opacity="0.3" stroke-width="0.7" stroke-linecap="round"/>
<line x1="79.4" y1="233.2" x2="74.9" y2="237.5" stroke="#22c07a" stroke-opacity="0.6" stroke-width="1.1" stroke-linecap="round"/>
<line x1="65.7" y1="216.0" x2="57.4" y2="218.4" stroke="#28b4b0" stroke-opacity="0.6" stroke-width="0.8" stroke-linecap="round"/>
<line x1="90.9" y1="221.0" x2="88.4" y2="225.6" stroke="#30a8c0" stroke-opacity="0.4" stroke-width="1.2" stroke-linecap="round"/>
<line x1="115.0" y1="221.4" x2="135.6" y2="230.4" stroke="#22c07a" stroke-opacity="0.6" stroke-width="0.9" stroke-linecap="round"/>
<line x1="113.0" y1="204.9" x2="132.5" y2="208.2" stroke="#30a8c4" stroke-opacity="0.6" stroke-width="0.8" stroke-linecap="round"/>
<line x1="63.9" y1="207.3" x2="41.0" y2="210.2" stroke="#2aa0c8" stroke-opacity="0.5" stroke-width="1.2" stroke-linecap="round"/>
<line x1="110.0" y1="228.4" x2="120.5" y2="237.5" stroke="#30a8c0" stroke-opacity="0.4" stroke-width="0.8" stroke-linecap="round"/>
<line x1="94.8" y1="210.7" x2="92.8" y2="216.2" stroke="#28b4b8" stroke-opacity="0.7" stroke-width="0.8" stroke-linecap="round"/>
<line x1="133.9" y1="214.5" x2="149.9" y2="217.7" stroke="#28b4b8" stroke-opacity="0.7" stroke-width="0.7" stroke-linecap="round"/>
<line x1="105.0" y1="217.3" x2="113.1" y2="224.1" stroke="#28b4b0" stroke-opacity="0.6" stroke-width="0.6" stroke-linecap="round"/>
<line x1="123.4" y1="231.7" x2="134.0" y2="237.5" stroke="#8ce0d8" stroke-opacity="0.3" stroke-width="1.1" stroke-linecap="round"/>
<line x1="68.9" y1="210.0" x2="57.5" y2="212.4" stroke="#22b8a8" stroke-opacity="0.6" stroke-width="1.0" stroke-linecap="round"/>
<line x1="92.5" y1="222.0" x2="87.2" y2="232.6" stroke="#1ebe90" stroke-opacity="0.7" stroke-width="0.7" stroke-linecap="round"/>
<line x1="76.0" y1="219.4" x2="53.6" y2="227.6" stroke="#22c07a" stroke-opacity="0.6" stroke-width="0.9" stroke-linecap="round"/>
<line x1="63.4" y1="223.2" x2="34.9" y2="231.4" stroke="#20b89c" stroke-opacity="0.7" stroke-width="1.3" stroke-linecap="round"/>
<line x1="83.3" y1="217.7" x2="59.1" y2="228.1" stroke="#28b4b0" stroke-opacity="0.6" stroke-width="0.9" stroke-linecap="round"/>
<line x1="124.7" y1="212.8" x2="147.2" y2="217.6" stroke="#30a8c4" stroke-opacity="0.6" stroke-width="0.7" stroke-linecap="round"/>
<line x1="132.5" y1="214.1" x2="143.5" y2="216.5" stroke="#2aa0c8" stroke-opacity="0.5" stroke-width="1.0" stroke-linecap="round"/>
<line x1="61.3" y1="210.0" x2="50.6" y2="211.9" stroke="#28b4b8" stroke-opacity="0.7" stroke-width="0.9" stroke-linecap="round"/>
<line x1="116.1" y1="223.5" x2="137.0" y2="233.0" stroke="#30a8c0" stroke-opacity="0.4" stroke-width="1.4" stroke-linecap="round"/>
<line x1="52.6" y1="231.6" x2="38.5" y2="236.5" stroke="#1ebe90" stroke-opacity="0.7" stroke-width="1.2" stroke-linecap="round"/>
<line x1="120.2" y1="217.2" x2="150.8" y2="225.4" stroke="#8ce0d8" stroke-opacity="0.3" stroke-width="0.7" stroke-linecap="round"/>
<line x1="77.7" y1="211.6" x2="60.7" y2="216.4" stroke="#28b4b8" stroke-opacity="0.7" stroke-width="0.7" stroke-linecap="round"/>
<line x1="69.8" y1="229.8" x2="55.7" y2="236.9" stroke="#22c264" stroke-opacity="0.5" stroke-width="1.3" stroke-linecap="round"/>
<line x1="64.8" y1="219.2" x2="46.4" y2="224.4" stroke="#22c07a" stroke-opacity="0.6" stroke-width="1.1" stroke-linecap="round"/>
<line x1="84.7" y1="206.9" x2="73.7" y2="210.3" stroke="#22b8a8" stroke-opacity="0.6" stroke-width="1.0" stroke-linecap="round"/>
<line x1="98.1" y1="208.2" x2="98.8" y2="210.4" stroke="#8ce0d8" stroke-opacity="0.35" stroke-width="1.3" stroke-linecap="round"/>
<line x1="119.4" y1="210.7" x2="141.3" y2="215.4" stroke="#3c98cc" stroke-opacity="0.5" stroke-width="0.7" stroke-linecap="round"/>
<line x1="93.8" y1="215.2" x2="92.3" y2="219.4" stroke="#20b89c" stroke-opacity="0.7" stroke-width="1.3" stroke-linecap="round"/>
<line x1="81.8" y1="222.5" x2="75.2" y2="227.4" stroke="#8ce0d8" stroke-opacity="0.3" stroke-width="1.1" stroke-linecap="round"/>
<line x1="122.4" y1="200.5" x2="137.8" y2="201.5" stroke="#2aa0c8" stroke-opacity="0.5" stroke-width="1.3" stroke-linecap="round"/>
<line x1="66.0" y1="232.9" x2="57.4" y2="237.5" stroke="#30a8c0" stroke-opacity="0.4" stroke-width="0.7" stroke-linecap="round"/>
<line x1="117.7" y1="225.5" x2="138.4" y2="235.1" stroke="#30a8c0" stroke-opacity="0.4" stroke-width="0.8" stroke-linecap="round"/>
<line x1="84.3" y1="219.4" x2="74.6" y2="226.1" stroke="#22c07a" stroke-opacity="0.6" stroke-width="1.0" stroke-linecap="round"/>
<line x1="85.9" y1="212.4" x2="67.6" y2="220.1" stroke="#28b4b0" stroke-opacity="0.6" stroke-width="0.9" stroke-linecap="round"/>
<line x1="108.1" y1="207.7" x2="118.9" y2="211.3" stroke="#3c98cc" stroke-opacity="0.5" stroke-width="0.7" stroke-linecap="round"/>
<line x1="102.3" y1="221.4" x2="104.4" y2="225.2" stroke="#1ebe90" stroke-opacity="0.7" stroke-width="1.0" stroke-linecap="round"/>
<line x1="113.8" y1="226.8" x2="125.8" y2="234.7" stroke="#30a8c0" stroke-opacity="0.4" stroke-width="0.9" stroke-linecap="round"/>
<line x1="125.7" y1="208.9" x2="144.4" y2="212.0" stroke="#3c98cc" stroke-opacity="0.5" stroke-width="0.9" stroke-linecap="round"/>
<line x1="53.1" y1="208.4" x2="40.9" y2="209.9" stroke="#3c98cc" stroke-opacity="0.5" stroke-width="1.3" stroke-linecap="round"/>
<line x1="76.6" y1="221.3" x2="64.1" y2="227.4" stroke="#22c264" stroke-opacity="0.5" stroke-width="1.3" stroke-linecap="round"/>
<line x1="113.4" y1="220.4" x2="131.7" y2="228.9" stroke="#22c264" stroke-opacity="0.5" stroke-width="0.9" stroke-linecap="round"/>
<line x1="98.8" y1="223.7" x2="101.8" y2="234.1" stroke="#22c264" stroke-opacity="0.5" stroke-width="0.6" stroke-linecap="round"/>
<line x1="62.9" y1="216.9" x2="39.2" y2="222.4" stroke="#1ebe90" stroke-opacity="0.7" stroke-width="0.8" stroke-linecap="round"/>
<line x1="105.9" y1="217.9" x2="111.4" y2="222.9" stroke="#8ce0d8" stroke-opacity="0.3" stroke-width="0.7" stroke-linecap="round"/>
<line x1="109.4" y1="211.1" x2="127.6" y2="217.3" stroke="#2aa0c8" stroke-opacity="0.5" stroke-width="1.2" stroke-linecap="round"/>
<line x1="90.4" y1="207.7" x2="87.0" y2="210.3" stroke="#22b8a8" stroke-opacity="0.6" stroke-width="1.3" stroke-linecap="round"/>
<line x1="106.5" y1="217.9" x2="113.7" y2="223.7" stroke="#8ce0d8" stroke-opacity="0.3" stroke-width="0.8" stroke-linecap="round"/>
<line x1="128.6" y1="201.0" x2="156.9" y2="202.5" stroke="#30a8c4" stroke-opacity="0.6" stroke-width="0.7" stroke-linecap="round"/>
<line x1="136.6" y1="203.4" x2="158.6" y2="205.0" stroke="#30a8c4" stroke-opacity="0.6" stroke-width="0.7" stroke-linecap="round"/>
<line x1="72.0" y1="219.4" x2="58.1" y2="224.6" stroke="#30a8c0" stroke-opacity="0.4" stroke-width="1.1" stroke-linecap="round"/>
<line x1="100.5" y1="202.6" x2="101.5" y2="203.4" stroke="#2aa0c8" stroke-opacity="0.5" stroke-width="1.2" stroke-linecap="round"/>
<line x1="120.6" y1="200.4" x2="131.7" y2="201.2" stroke="#8ce0d8" stroke-opacity="0.35" stroke-width="0.7" stroke-linecap="round"/>
<line x1="109.0" y1="205.0" x2="123.4" y2="208.3" stroke="#2aa0c8" stroke-opacity="0.5" stroke-width="0.6" stroke-linecap="round"/>
<line x1="82.1" y1="226.1" x2="76.8" y2="230.8" stroke="#22c264" stroke-opacity="0.5" stroke-width="0.6" stroke-linecap="round"/>
<line x1="114.2" y1="224.2" x2="119.7" y2="228.0" stroke="#22c07a" stroke-opacity="0.6" stroke-width="0.8" stroke-linecap="round"/>
<line x1="56.9" y1="216.8" x2="44.2" y2="219.7" stroke="#30a8c0" stroke-opacity="0.4" stroke-width="1.2" stroke-linecap="round"/>
<line x1="87.2" y1="224.0" x2="76.4" y2="234.4" stroke="#30a8c0" stroke-opacity="0.4" stroke-width="1.1" stroke-linecap="round"/>
<line x1="114.6" y1="221.3" x2="128.9" y2="228.5" stroke="#30a8c0" stroke-opacity="0.4" stroke-width="1.0" stroke-linecap="round"/>
<line x1="131.3" y1="224.4" x2="153.3" y2="231.2" stroke="#1ebe90" stroke-opacity="0.7" stroke-width="1.3" stroke-linecap="round"/>
<line x1="62.7" y1="200.9" x2="52.5" y2="201.6" stroke="#3c98cc" stroke-opacity="0.5" stroke-width="1.4" stroke-linecap="round"/>
<line x1="116.0" y1="200.7" x2="127.0" y2="201.7" stroke="#28b4b8" stroke-opacity="0.7" stroke-width="1.2" stroke-linecap="round"/>
<line x1="115.6" y1="201.6" x2="133.7" y2="203.4" stroke="#22b8a8" stroke-opacity="0.6" stroke-width="1.3" stroke-linecap="round"/>
<line x1="50.2" y1="232.0" x2="36.8" y2="236.5" stroke="#20b89c" stroke-opacity="0.7" stroke-width="0.8" stroke-linecap="round"/>
<line x1="66.3" y1="201.6" x2="56.8" y2="202.4" stroke="#2aa0c8" stroke-opacity="0.5" stroke-width="0.7" stroke-linecap="round"/>
<line x1="112.3" y1="216.7" x2="135.3" y2="225.4" stroke="#30a8c0" stroke-opacity="0.4" stroke-width="1.2" stroke-linecap="round"/>
<line x1="83.1" y1="207.6" x2="59.3" y2="213.1" stroke="#3c98cc" stroke-opacity="0.5" stroke-width="1.3" stroke-linecap="round"/>
<line x1="53.1" y1="226.6" x2="34.3" y2="232.1" stroke="#1ebe90" stroke-opacity="0.7" stroke-width="1.0" stroke-linecap="round"/>
<line x1="123.3" y1="217.1" x2="146.6" y2="223.4" stroke="#8ce0d8" stroke-opacity="0.3" stroke-width="1.0" stroke-linecap="round"/>
<line x1="66.3" y1="213.6" x2="46.7" y2="217.9" stroke="#2aa0c8" stroke-opacity="0.5" stroke-width="1.3" stroke-linecap="round"/>
<line x1="78.4" y1="219.9" x2="45.0" y2="231.5" stroke="#28b4b0" stroke-opacity="0.6" stroke-width="0.8" stroke-linecap="round"/>
<line x1="111.4" y1="200.7" x2="134.6" y2="202.8" stroke="#2aa0c8" stroke-opacity="0.5" stroke-width="1.2" stroke-linecap="round"/>
<line x1="67.7" y1="216.4" x2="56.8" y2="219.7" stroke="#22c07a" stroke-opacity="0.6" stroke-width="1.1" stroke-linecap="round"/>
<line x1="75.5" y1="224.0" x2="50.3" y2="234.5" stroke="#28b4b0" stroke-opacity="0.6" stroke-width="0.7" stroke-linecap="round"/>
<line x1="112.1" y1="202.8" x2="120.1" y2="204.2" stroke="#28b4b8" stroke-opacity="0.7" stroke-width="1.1" stroke-linecap="round"/>
<line x1="84.2" y1="213.7" x2="80.2" y2="216.2" stroke="#28b4b8" stroke-opacity="0.7" stroke-width="0.9" stroke-linecap="round"/>
<line x1="109.3" y1="210.6" x2="120.1" y2="214.9" stroke="#22b8a8" stroke-opacity="0.6" stroke-width="1.0" stroke-linecap="round"/>
<line x1="89.3" y1="225.7" x2="83.7" y2="234.2" stroke="#1ebe90" stroke-opacity="0.7" stroke-width="1.1" stroke-linecap="round"/>
<line x1="114.0" y1="217.7" x2="125.1" y2="222.9" stroke="#1ebe90" stroke-opacity="0.7" stroke-width="0.7" stroke-linecap="round"/>
<line x1="119.1" y1="218.5" x2="149.6" y2="227.5" stroke="#8ce0d8" stroke-opacity="0.3" stroke-width="1.2" stroke-linecap="round"/>
<line x1="77.5" y1="207.1" x2="66.8" y2="209.5" stroke="#2aa0c8" stroke-opacity="0.5" stroke-width="0.8" stroke-linecap="round"/>
<line x1="67.0" y1="210.7" x2="56.2" y2="212.9" stroke="#30a8c4" stroke-opacity="0.6" stroke-width="1.2" stroke-linecap="round"/>
<line x1="110.2" y1="211.9" x2="114.1" y2="213.9" stroke="#3c98cc" stroke-opacity="0.5" stroke-width="1.4" stroke-linecap="round"/>
<line x1="111.3" y1="202.4" x2="134.1" y2="205.2" stroke="#8ce0d8" stroke-opacity="0.35" stroke-width="0.7" stroke-linecap="round"/>
<line x1="75.4" y1="207.9" x2="52.0" y2="212.2" stroke="#28b4b8" stroke-opacity="0.7" stroke-width="1.1" stroke-linecap="round"/>
<line x1="77.9" y1="204.7" x2="45.9" y2="208.7" stroke="#8ce0d8" stroke-opacity="0.35" stroke-width="1.3" stroke-linecap="round"/>
<line x1="93.8" y1="206.5" x2="91.1" y2="210.2" stroke="#28b4b8" stroke-opacity="0.7" stroke-width="0.7" stroke-linecap="round"/>
<line x1="110.7" y1="214.6" x2="115.2" y2="217.2" stroke="#8ce0d8" stroke-opacity="0.35" stroke-width="1.2" stroke-linecap="round"/>
<line x1="107.2" y1="221.8" x2="113.1" y2="227.3" stroke="#22c264" stroke-opacity="0.5" stroke-width="1.3" stroke-linecap="round"/>
<line x1="125.2" y1="223.7" x2="140.2" y2="229.4" stroke="#22c264" stroke-opacity="0.5" stroke-width="0.7" stroke-linecap="round"/>
<line x1="92.1" y1="209.4" x2="90.6" y2="211.3" stroke="#30a8c4" stroke-opacity="0.6" stroke-width="1.2" stroke-linecap="round"/>
<line x1="114.1" y1="218.0" x2="129.1" y2="224.6" stroke="#8ce0d8" stroke-opacity="0.3" stroke-width="0.6" stroke-linecap="round"/>
<line x1="137.2" y1="218.2" x2="151.4" y2="221.5" stroke="#22c264" stroke-opacity="0.5" stroke-width="0.9" stroke-linecap="round"/>
<line x1="122.9" y1="202.3" x2="155.6" y2="204.7" stroke="#2aa0c8" stroke-opacity="0.5" stroke-width="1.2" stroke-linecap="round"/>
<line x1="61.3" y1="218.9" x2="44.2" y2="223.4" stroke="#1ebe90" stroke-opacity="0.7" stroke-width="0.6" stroke-linecap="round"/>
<line x1="126.5" y1="211.9" x2="140.4" y2="214.9" stroke="#8ce0d8" stroke-opacity="0.35" stroke-width="0.8" stroke-linecap="round"/>
<line x1="108.8" y1="210.6" x2="126.9" y2="216.7" stroke="#22b8a8" stroke-opacity="0.6" stroke-width="0.9" stroke-linecap="round"/>
<line x1="90.9" y1="200.0" x2="86.3" y2="201.2" stroke="#2aa0c8" stroke-opacity="0.5" stroke-width="1.1" stroke-linecap="round"/>
<line x1="104.2" y1="202.8" x2="111.1" y2="204.8" stroke="#22b8a8" stroke-opacity="0.6" stroke-width="1.4" stroke-linecap="round"/>
<line x1="95.8" y1="204.1" x2="94.8" y2="207.8" stroke="#2aa0c8" stroke-opacity="0.5" stroke-width="0.8" stroke-linecap="round"/>
<line x1="106.6" y1="220.2" x2="121.0" y2="230.1" stroke="#22c264" stroke-opacity="0.5" stroke-width="1.1" stroke-linecap="round"/>
<line x1="119.7" y1="223.1" x2="144.6" y2="232.6" stroke="#1ebe90" stroke-opacity="0.7" stroke-width="1.1" stroke-linecap="round"/>
<line x1="116.5" y1="213.4" x2="140.8" y2="219.9" stroke="#22c264" stroke-opacity="0.5" stroke-width="0.9" stroke-linecap="round"/>
<line x1="86.0" y1="210.0" x2="66.8" y2="216.7" stroke="#2aa0c8" stroke-opacity="0.5" stroke-width="1.2" stroke-linecap="round"/>
<line x1="87.5" y1="219.3" x2="80.7" y2="225.7" stroke="#1ebe90" stroke-opacity="0.7" stroke-width="1.1" stroke-linecap="round"/>
<line x1="116.5" y1="213.2" x2="123.8" y2="215.9" stroke="#28b4b8" stroke-opacity="0.7" stroke-width="0.7" stroke-linecap="round"/>
<line x1="104.3" y1="210.6" x2="109.9" y2="214.3" stroke="#3c98cc" stroke-opacity="0.5" stroke-width="1.1" stroke-linecap="round"/>
<line x1="82.8" y1="202.1" x2="66.5" y2="204.4" stroke="#8ce0d8" stroke-opacity="0.35" stroke-width="0.9" stroke-linecap="round"/>
<line x1="76.7" y1="225.6" x2="50.1" y2="237.5" stroke="#22c264" stroke-opacity="0.5" stroke-width="1.1" stroke-linecap="round"/>
<line x1="128.2" y1="223.5" x2="141.5" y2="228.3" stroke="#30a8c0" stroke-opacity="0.4" stroke-width="0.8" stroke-linecap="round"/>
<line x1="98.5" y1="206.8" x2="99.3" y2="208.5" stroke="#2aa0c8" stroke-opacity="0.5" stroke-width="1.3" stroke-linecap="round"/>
<line x1="101.0" y1="206.4" x2="107.6" y2="210.7" stroke="#8ce0d8" stroke-opacity="0.35" stroke-width="1.0" stroke-linecap="round"/>
<line x1="97.2" y1="226.0" x2="98.1" y2="237.1" stroke="#28b4b0" stroke-opacity="0.6" stroke-width="1.0" stroke-linecap="round"/>
<line x1="128.2" y1="200.1" x2="153.1" y2="201.2" stroke="#22b8a8" stroke-opacity="0.6" stroke-width="1.0" stroke-linecap="round"/>
<line x1="76.9" y1="216.5" x2="72.0" y2="218.8" stroke="#22c264" stroke-opacity="0.5" stroke-width="0.7" stroke-linecap="round"/>
<line x1="110.0" y1="218.8" x2="118.2" y2="224.1" stroke="#22c264" stroke-opacity="0.5" stroke-width="1.2" stroke-linecap="round"/>
<line x1="73.8" y1="213.3" x2="41.9" y2="220.4" stroke="#28b4b0" stroke-opacity="0.6" stroke-width="1.2" stroke-linecap="round"/>
<line x1="107.8" y1="210.2" x2="118.6" y2="214.8" stroke="#8ce0d8" stroke-opacity="0.35" stroke-width="1.2" stroke-linecap="round"/>
<line x1="102.0" y1="225.7" x2="107.5" y2="235.5" stroke="#22c07a" stroke-opacity="0.6" stroke-width="1.0" stroke-linecap="round"/>
<line x1="123.7" y1="208.9" x2="147.8" y2="212.8" stroke="#22b8a8" stroke-opacity="0.6" stroke-width="1.4" stroke-linecap="round"/>
<line x1="127.3" y1="209.9" x2="150.5" y2="213.6" stroke="#28b4b8" stroke-opacity="0.7" stroke-width="0.9" stroke-linecap="round"/>
<line x1="82.4" y1="209.6" x2="74.4" y2="212.6" stroke="#28b4b8" stroke-opacity="0.7" stroke-width="0.9" stroke-linecap="round"/></g>
<path d="M33.0,125.0 C29.5,115.7 32.7,101.9 32.4,93.4 C32.1,84.9 32.0,87.0 31.7,82.7 C31.4,78.4 31.3,76.3 31.1,72.0 C30.9,67.7 30.6,65.7 30.7,61.4 C30.8,57.1 30.8,53.7 31.7,50.7 C32.6,47.7 33.3,47.0 35.0,46.4 C36.7,45.8 38.2,46.2 40.3,47.5 C42.4,48.8 43.3,50.0 45.6,52.8 C47.9,55.6 49.4,57.6 52.0,61.4 C54.6,65.2 55.8,67.7 58.4,72.0 C61.0,76.3 62.4,78.4 64.8,82.7 C67.2,87.0 68.7,89.9 70.2,93.4 C71.7,96.9 71.5,95.7 72.3,100.0 C73.1,104.3 74.5,108.0 74.0,115.0 C73.5,122.0 74.8,130.0 70.0,135.0 C65.2,140.0 57.4,142.0 50.0,140.0 C42.6,138.0 36.5,134.3 33.0,125.0 Z" fill="url(#mainA)" mask="url(#mA)"/>
<line x1="4.5" y1="200.8" x2="92" y2="200.8" stroke="#c60000" stroke-width="3.6" stroke-dasharray="10 4.5" stroke-dashoffset="0"/>
<line x1="28.5" y1="28" x2="95.8" y2="198.5" stroke="#000" stroke-width="2.1" stroke-dasharray="7 5.46" stroke-dashoffset="0.7"/>
<line x1="96.4" y1="200.5" x2="96.4" y2="33.2" stroke="#c60000" stroke-width="4"/><polygon points="96.4,23.2 101.9,34.2 90.9,34.2" fill="#c60000"/>
<line x1="95.4" y1="200.5" x2="183.0" y2="200.5" stroke="#c60000" stroke-width="4"/><polygon points="193,200.5 182.0,206.0 182.0,195.0" fill="#c60000"/>
<line x1="96.4" y1="200.5" x2="175.7" y2="141.2" stroke="#c60000" stroke-width="4"/><polygon points="183.7,135.2 178.2,146.2 171.6,137.4" fill="#c60000"/>
<path d="M68.5,131.1 Q83.4,122.1 97,126" fill="none" stroke="#4a4a60" stroke-width="2.5" stroke-dasharray="9.8 9"/>
<text x="104.3" y="25.7" class="ax" style="font-size:28.5px" textLength="12.6" lengthAdjust="spacingAndGlyphs">z</text>
<text x="192.5" y="134" class="ax">y</text>
<text x="182.2" y="225.6" class="ax" style="font-size:29px">x</text>
<text x="62.8" y="108.8" class="deg" textLength="21.5" lengthAdjust="spacingAndGlyphs">20</text><text x="85.2" y="102.6" class="sup">o</text>
<text x="221.5" y="24" class="dbi">dBi</text>
<rect x="247.5" y="35" width="13" height="193.5" fill="url(#cbA)" stroke="#4a4a4a" stroke-width="0.8"/>
<text x="237.5" y="39.0" text-anchor="end" class="cbl">20.9</text>
<line x1="239.5" y1="36.2" x2="247.5" y2="36.2" stroke="#888" stroke-width="0.9"/>
<text x="237.5" y="50.7" text-anchor="end" class="cbl">18.5</text>
<line x1="239.5" y1="47.9" x2="247.5" y2="47.9" stroke="#888" stroke-width="0.9"/>
<text x="237.5" y="62.4" text-anchor="end" class="cbl">16.1</text>
<line x1="239.5" y1="59.6" x2="247.5" y2="59.6" stroke="#888" stroke-width="0.9"/>
<text x="237.5" y="74.2" text-anchor="end" class="cbl">13.6</text>
<line x1="239.5" y1="71.4" x2="247.5" y2="71.4" stroke="#888" stroke-width="0.9"/>
<text x="237.5" y="85.9" text-anchor="end" class="cbl">11.2</text>
<line x1="239.5" y1="83.1" x2="247.5" y2="83.1" stroke="#888" stroke-width="0.9"/>
<text x="237.5" y="97.6" text-anchor="end" class="cbl">8.79</text>
<line x1="239.5" y1="94.8" x2="247.5" y2="94.8" stroke="#888" stroke-width="0.9"/>
<text x="237.5" y="109.3" text-anchor="end" class="cbl">6.37</text>
<line x1="239.5" y1="106.5" x2="247.5" y2="106.5" stroke="#888" stroke-width="0.9"/>
<text x="237.5" y="121.0" text-anchor="end" class="cbl">3.94</text>
<line x1="239.5" y1="118.2" x2="247.5" y2="118.2" stroke="#888" stroke-width="0.9"/>
<text x="237.5" y="132.8" text-anchor="end" class="cbl">1.52</text>
<line x1="239.5" y1="130.0" x2="247.5" y2="130.0" stroke="#888" stroke-width="0.9"/>
<text x="237.5" y="144.5" text-anchor="end" class="cbl">-0.905</text>
<line x1="239.5" y1="141.7" x2="247.5" y2="141.7" stroke="#888" stroke-width="0.9"/>
<text x="237.5" y="156.2" text-anchor="end" class="cbl">-3.33</text>
<line x1="239.5" y1="153.4" x2="247.5" y2="153.4" stroke="#888" stroke-width="0.9"/>
<text x="237.5" y="167.9" text-anchor="end" class="cbl">-5.75</text>
<line x1="239.5" y1="165.1" x2="247.5" y2="165.1" stroke="#888" stroke-width="0.9"/>
<text x="237.5" y="179.6" text-anchor="end" class="cbl">-8.18</text>
<line x1="239.5" y1="176.8" x2="247.5" y2="176.8" stroke="#888" stroke-width="0.9"/>
<text x="237.5" y="191.4" text-anchor="end" class="cbl">-10.6</text>
<line x1="239.5" y1="188.6" x2="247.5" y2="188.6" stroke="#888" stroke-width="0.9"/>
<text x="237.5" y="203.1" text-anchor="end" class="cbl">-13</text>
<line x1="239.5" y1="200.3" x2="247.5" y2="200.3" stroke="#888" stroke-width="0.9"/>
<text x="237.5" y="214.8" text-anchor="end" class="cbl">-15.4</text>
<line x1="239.5" y1="212.0" x2="247.5" y2="212.0" stroke="#888" stroke-width="0.9"/>
<line x1="244.5" y1="42.1" x2="247.5" y2="42.1" stroke="#888" stroke-width="0.9"/>
<line x1="244.5" y1="53.8" x2="247.5" y2="53.8" stroke="#888" stroke-width="0.9"/>
<line x1="244.5" y1="65.5" x2="247.5" y2="65.5" stroke="#888" stroke-width="0.9"/>
<line x1="244.5" y1="77.2" x2="247.5" y2="77.2" stroke="#888" stroke-width="0.9"/>
<line x1="244.5" y1="88.9" x2="247.5" y2="88.9" stroke="#888" stroke-width="0.9"/>
<line x1="244.5" y1="100.7" x2="247.5" y2="100.7" stroke="#888" stroke-width="0.9"/>
<line x1="244.5" y1="112.4" x2="247.5" y2="112.4" stroke="#888" stroke-width="0.9"/>
<line x1="244.5" y1="124.1" x2="247.5" y2="124.1" stroke="#888" stroke-width="0.9"/>
<line x1="244.5" y1="135.8" x2="247.5" y2="135.8" stroke="#888" stroke-width="0.9"/>
<line x1="244.5" y1="147.5" x2="247.5" y2="147.5" stroke="#888" stroke-width="0.9"/>
<line x1="244.5" y1="159.3" x2="247.5" y2="159.3" stroke="#888" stroke-width="0.9"/>
<line x1="244.5" y1="171.0" x2="247.5" y2="171.0" stroke="#888" stroke-width="0.9"/>
<line x1="244.5" y1="182.7" x2="247.5" y2="182.7" stroke="#888" stroke-width="0.9"/>
<line x1="244.5" y1="194.4" x2="247.5" y2="194.4" stroke="#888" stroke-width="0.9"/>
<line x1="244.5" y1="206.1" x2="247.5" y2="206.1" stroke="#888" stroke-width="0.9"/>
<text x="237.5" y="231.5" text-anchor="end" class="cbl">-19.1</text>
<polygon points="240,32.5 240,39.5 245,36" fill="#333"/><polygon points="242.5,32.5 242.5,39.5 247.5,36" fill="#333"/>
<line x1="244.5" y1="217.9" x2="247.5" y2="217.9" stroke="#888" stroke-width="0.9"/><line x1="244.5" y1="223.6" x2="247.5" y2="223.6" stroke="#888" stroke-width="0.9"/>
<polygon points="240.5,223.2 246.5,223.2 243.5,229" fill="#333"/>
<g fill="url(#fanB)"><path d="M295.3,178.7L289.2,179.0L294.8,181.4Z"/><path d="M313.7,177.8L307.5,177.1L313.1,179.7Z"/><path d="M315.7,176.3L308.6,175.3L315.0,178.4Z"/><path d="M311.2,168.6L303.9,167.0L310.1,171.1Z"/><path d="M312.7,164.6L307.7,164.0L311.2,167.6Z"/><path d="M313.8,162.9L306.6,160.7L312.3,165.7Z"/><path d="M315.6,162.6L310.5,160.9L314.6,164.4Z"/><path d="M318.1,161.7L313.9,160.4L316.8,163.6Z"/><path d="M321.6,160.2L317.5,159.1L319.9,162.6Z"/><path d="M323.7,158.2L318.7,156.2L321.7,160.6Z"/><path d="M321.7,145.1L317.6,143.2L319.3,147.4Z"/><path d="M321.9,143.3L316.3,139.4L319.6,145.4Z"/><path d="M322.6,140.8L317.4,136.4L320.8,142.3Z"/><path d="M323.8,137.3L320.6,134.7L322.3,138.4Z"/><path d="M352.3,106.2L350.1,98.9L350.3,106.5Z"/><path d="M353.4,104.5L351.0,97.3L350.8,104.9Z"/><path d="M368.3,108.5L367.1,104.3L365.7,108.4Z"/><path d="M370.6,110.5L369.4,105.9L367.7,110.3Z"/><path d="M372.6,109.5L371.5,103.2L369.5,109.3Z"/><path d="M372.9,108.5L372.3,102.9L370.8,108.3Z"/><path d="M375.3,108.9L374.6,103.8L372.8,108.6Z"/><path d="M377.3,111.9L376.5,104.7L374.0,111.5Z"/><path d="M378.0,113.7L377.4,107.8L375.1,113.2Z"/><path d="M379.4,116.2L379.0,111.0L377.0,115.7Z"/><path d="M381.2,118.1L380.6,112.5L377.9,117.4Z"/><path d="M384.0,120.2L384.2,113.9L381.4,119.6Z"/><path d="M386.1,119.7L386.2,115.2L383.9,119.1Z"/><path d="M391.0,119.9L392.1,112.8L388.7,119.1Z"/><path d="M394.7,122.3L395.8,115.6L392.0,121.3Z"/><path d="M400.3,121.5L401.2,116.1L397.6,120.2Z"/><path d="M401.5,123.4L402.7,117.6L398.8,122.0Z"/><path d="M411.4,114.1L413.4,108.4L409.5,113.0Z"/><path d="M413.2,118.8L414.9,113.2L410.6,117.2Z"/><path d="M413.9,121.7L416.7,115.4L411.9,120.4Z"/><path d="M417.9,137.1L421.1,132.1L416.3,135.7Z"/><path d="M421.1,136.6L425.3,130.4L419.3,134.8Z"/><path d="M437.8,141.7L440.9,138.1L436.6,140.0Z"/><path d="M437.0,144.1L440.9,139.9L435.6,142.1Z"/><path d="M435.5,147.8L440.0,143.5L434.3,145.9Z"/><path d="M434.4,151.1L437.1,147.9L433.1,149.0Z"/><path d="M435.1,152.8L439.3,149.1L434.1,151.0Z"/><path d="M439.2,156.8L443.5,153.6L438.3,155.1Z"/><path d="M446.9,168.7L453.4,164.9L445.9,165.5Z"/><path d="M449.7,170.4L454.3,167.4L448.8,167.3Z"/><path d="M451.4,171.2L455.3,168.8L450.7,168.6Z"/><path d="M444.8,177.6L450.0,175.4L444.4,175.5Z"/><path d="M446.8,180.2L453.9,177.8L446.4,177.8Z"/><path d="M442.6,187.1L447.3,185.0L442.2,183.8Z"/><path d="M444.0,189.5L449.3,188.1L443.8,187.2Z"/></g>
<path d="M327.0,192.8 C314.2,192.1 317.6,187.1 314.2,185.9 C310.8,184.7 295.2,181.4 292.8,180.6 C290.4,179.8 289.0,177.6 290.7,177.4 C292.4,177.2 307.5,178.6 309.9,178.4 C312.2,178.2 314.5,176.0 314.2,175.2 C313.9,174.3 307.1,170.8 306.7,169.9 C306.3,169.1 309.7,167.3 309.9,166.7 C310.1,166.1 307.8,164.2 308.8,163.5 C309.8,162.8 318.2,160.0 319.5,159.2 C320.8,158.3 321.7,156.3 321.6,155.0 C321.5,153.7 318.7,147.6 318.4,146.4 C318.1,145.2 318.2,143.9 318.5,142.7 C318.8,141.5 321.6,135.5 321.7,134.2 C321.8,132.9 319.7,131.2 319.6,129.9 C319.5,128.6 320.9,122.9 320.6,121.4 C320.3,119.9 316.2,116.0 316.4,115.0 C316.6,114.0 321.2,112.9 322.6,110.9 C324.0,108.9 328.8,97.1 330.0,95.0 C331.2,92.9 333.4,88.4 334.8,90.0 C336.2,91.6 342.6,108.6 343.9,110.9 C345.1,113.2 346.7,113.4 347.3,112.8 C347.9,112.2 349.3,106.6 350.0,105.0 C350.7,103.4 353.1,98.2 354.0,97.0 C354.9,95.8 357.7,93.6 358.5,93.5 C359.3,93.4 361.3,95.0 362.0,96.0 C362.7,97.0 364.5,102.7 365.3,103.9 C366.1,105.1 369.2,108.0 370.0,108.0 C370.8,108.0 372.5,103.5 373.3,103.9 C374.1,104.3 377.0,110.7 377.8,111.9 C378.6,113.2 380.8,115.9 381.4,116.4 C382.0,116.9 383.3,117.3 384.0,117.2 C384.7,117.1 387.7,115.5 388.5,115.5 C389.3,115.5 391.3,116.8 392.0,117.2 C392.7,117.6 394.9,120.0 395.6,119.9 C396.3,119.8 398.3,116.2 399.0,116.4 C399.7,116.6 401.9,121.9 402.7,121.7 C403.5,121.5 406.3,115.7 407.2,114.6 C408.1,113.5 410.9,109.8 411.7,110.3 C412.5,110.8 413.9,119.4 415.0,119.9 C416.1,120.4 421.9,114.8 422.4,115.6 C422.9,116.4 420.5,126.1 420.0,128.0 C419.5,129.9 416.7,134.1 417.8,134.5 C418.9,134.9 430.0,130.9 431.0,131.6 C432.0,132.3 425.8,142.2 427.8,141.2 C429.8,140.2 449.4,122.9 451.2,122.0 C453.0,121.1 447.1,130.4 446.0,132.0 C444.9,133.6 441.0,136.3 440.0,138.0 C439.0,139.7 436.1,147.8 436.0,149.2 C435.9,150.6 438.6,151.8 439.2,152.4 C439.8,153.0 441.1,155.3 442.4,155.6 C443.7,155.9 451.7,155.2 452.0,155.6 C452.3,156.0 445.1,159.5 445.6,160.0 C446.1,160.5 457.1,160.5 457.3,161.0 C457.5,161.5 447.8,164.2 447.7,165.2 C447.6,166.2 456.3,169.6 456.2,170.6 C456.1,171.6 447.1,173.8 446.6,174.8 C446.1,175.8 451.1,179.3 450.9,180.2 C450.7,181.1 444.8,182.4 444.5,183.4 C444.2,184.4 447.9,188.9 447.7,189.8 C447.4,190.7 454.1,192.5 442.0,192.8 C429.9,193.1 339.8,193.5 327.0,192.8 Z" fill="url(#fanB)"/>
<g clip-path="url(#clipFanB)">
<path d="M366.0,186.2 C357.6,163.4 350.1,147.1 348.0,142.8 A6.0,6.0 0 0 0 337.2,148.0 C339.3,152.3 347.4,168.4 360.0,189.1 Z" fill="url(#fg29s)" stroke="#0a5a0a" stroke-opacity="0.13" stroke-width="0.6"/>
<path d="M370.3,189.3 C384.9,168.8 394.8,152.4 397.2,148.2 A6.0,6.0 0 0 0 386.8,142.2 C384.4,146.3 375.1,163.0 364.5,186.0 Z" fill="url(#fg30s)" stroke="#0a5a0a" stroke-opacity="0.13" stroke-width="0.6"/>
<path d="M371.2,190.9 C395.7,175.1 415.4,160.4 418.9,157.7 A5.5,5.5 0 0 0 412.3,148.9 C408.8,151.6 389.3,166.7 367.6,186.0 Z" fill="url(#fg31s)" stroke="#0a5a0a" stroke-opacity="0.13" stroke-width="0.6"/>
<path d="M366.1,185.0 C359.6,152.2 352.1,122.4 351.1,118.6 A5.0,5.0 0 0 0 341.4,121.1 C342.4,125.0 350.4,154.6 360.7,186.3 Z" fill="url(#fg32s)" stroke="#0a5a0a" stroke-opacity="0.13" stroke-width="0.6"/>
<path d="M368.9,187.1 C377.1,159.4 382.9,134.9 383.8,131.0 A5.0,5.0 0 0 0 374.0,128.8 C373.1,132.7 367.9,157.4 363.5,185.9 Z" fill="url(#fg33s)" stroke="#0a5a0a" stroke-opacity="0.13" stroke-width="0.6"/>
<path d="M359.4,189.0 C328.4,181.8 296.6,175.5 294.2,175.0 A3.0,3.0 0 0 0 293.1,180.9 C295.4,181.4 327.3,187.4 358.7,192.3 Z" fill="url(#fg34s)" stroke="#0a5a0a" stroke-opacity="0.13" stroke-width="0.6"/>
<path d="M360.9,188.5 C336.9,178.2 312.8,169.0 310.6,168.1 A3.0,3.0 0 0 0 308.5,173.8 C310.7,174.6 334.8,183.5 359.8,191.6 Z" fill="url(#fg35s)" stroke="#0a5a0a" stroke-opacity="0.13" stroke-width="0.6"/>
<path d="M361.2,188.1 C338.2,175.1 315.0,163.2 312.8,162.2 A3.0,3.0 0 0 0 310.1,167.5 C312.3,168.6 335.6,180.2 359.8,191.0 Z" fill="url(#fg36s)" stroke="#0a5a0a" stroke-opacity="0.13" stroke-width="0.6"/>
<path d="M362.7,186.5 C344.2,165.0 325.4,144.9 323.4,142.8 A3.5,3.5 0 0 0 318.4,147.6 C320.3,149.7 339.3,169.5 359.9,189.2 Z" fill="url(#fg37s)" stroke="#0a5a0a" stroke-opacity="0.13" stroke-width="0.6"/>
<path d="M363.2,184.3 C344.3,151.1 324.5,119.4 322.6,116.4 A4.5,4.5 0 0 0 315.0,121.2 C316.9,124.3 337.1,155.7 359.0,187.0 Z" fill="url(#fg38s)" stroke="#0a5a0a" stroke-opacity="0.13" stroke-width="0.6"/>
<path d="M366.9,183.8 C366.0,142.4 363.5,101.3 363.3,97.7 A4.5,4.5 0 0 0 354.3,98.3 C354.5,101.9 357.5,142.9 362.0,184.1 Z" fill="url(#fg39s)" stroke="#0a5a0a" stroke-opacity="0.13" stroke-width="0.6"/>
<path d="M367.5,184.9 C370.8,148.1 372.7,111.4 372.8,108.2 A4.0,4.0 0 0 0 364.8,107.8 C364.7,111.0 363.2,147.7 363.1,184.7 Z" fill="url(#fg40s)" stroke="#0a5a0a" stroke-opacity="0.13" stroke-width="0.6"/>
<path d="M367.7,185.7 C374.3,152.4 380.1,117.8 380.5,115.4 A3.0,3.0 0 0 0 374.6,114.5 C374.2,116.8 368.7,151.4 364.4,185.2 Z" fill="url(#fg41s)" stroke="#0a5a0a" stroke-opacity="0.13" stroke-width="0.6"/>
<path d="M368.5,186.2 C379.5,154.5 389.8,121.5 390.5,119.3 A3.0,3.0 0 0 0 384.7,117.5 C384.0,119.8 374.0,152.8 365.3,185.2 Z" fill="url(#fg42s)" stroke="#0a5a0a" stroke-opacity="0.13" stroke-width="0.6"/>
<path d="M369.0,186.3 C384.2,155.1 399.4,121.5 400.3,119.7 A2.5,2.5 0 0 0 395.7,117.7 C394.9,119.5 379.8,153.1 366.5,185.2 Z" fill="url(#fg43s)" stroke="#0a5a0a" stroke-opacity="0.13" stroke-width="0.6"/>
<path d="M369.6,186.3 C388.2,154.3 407.2,119.7 408.2,118.0 A2.5,2.5 0 0 0 403.8,115.6 C402.8,117.3 384.0,152.1 367.2,185.0 Z" fill="url(#fg44s)" stroke="#0a5a0a" stroke-opacity="0.13" stroke-width="0.6"/>
<path d="M370.2,186.1 C390.8,152.5 411.6,116.5 412.8,114.4 A3.0,3.0 0 0 0 407.6,111.4 C406.4,113.5 385.9,149.6 367.3,184.5 Z" fill="url(#fg45s)" stroke="#0a5a0a" stroke-opacity="0.13" stroke-width="0.6"/>
<path d="M370.9,186.7 C396.0,155.4 421.5,121.7 423.0,119.8 A3.0,3.0 0 0 0 418.2,116.2 C416.8,118.1 391.4,152.0 368.3,184.7 Z" fill="url(#fg46s)" stroke="#0a5a0a" stroke-opacity="0.13" stroke-width="0.6"/>
<path d="M371.4,188.2 C399.9,163.8 429.0,137.5 430.8,135.8 A3.0,3.0 0 0 0 426.8,131.4 C425.0,133.0 396.1,159.6 369.2,185.8 Z" fill="url(#fg47s)" stroke="#0a5a0a" stroke-opacity="0.13" stroke-width="0.6"/>
<path d="M372.9,187.5 C409.9,159.1 448.9,127.7 450.8,126.2 A3.0,3.0 0 0 0 447.0,121.6 C445.1,123.1 406.3,154.7 370.9,184.9 Z" fill="url(#fg48s)" stroke="#0a5a0a" stroke-opacity="0.13" stroke-width="0.6"/>
<path d="M372.5,190.2 C409.4,175.9 448.8,159.6 450.7,158.9 A2.5,2.5 0 0 0 448.7,154.3 C446.9,155.0 407.6,171.5 371.4,187.6 Z" fill="url(#fg49s)" stroke="#0a5a0a" stroke-opacity="0.13" stroke-width="0.6"/>
<path d="M372.8,190.6 C411.9,178.7 453.8,164.8 455.7,164.2 A2.5,2.5 0 0 0 454.1,159.4 C452.2,160.1 410.4,174.1 371.9,188.0 Z" fill="url(#fg50s)" stroke="#0a5a0a" stroke-opacity="0.13" stroke-width="0.6"/>
<path d="M372.6,191.4 C411.1,183.5 452.4,174.1 454.3,173.6 A2.5,2.5 0 0 0 453.2,168.7 C451.3,169.2 410.1,178.9 372.0,188.8 Z" fill="url(#fg51s)" stroke="#0a5a0a" stroke-opacity="0.13" stroke-width="0.6"/>
<path d="M372.1,192.2 C408.3,188.4 446.8,183.3 448.8,183.0 A2.5,2.5 0 0 0 448.1,178.1 C446.1,178.3 407.6,183.6 371.7,189.5 Z" fill="url(#fg52s)" stroke="#0a5a0a" stroke-opacity="0.13" stroke-width="0.6"/>
<path d="M371.6,193.0 C406.4,193.2 443.3,192.4 445.3,192.4 A2.5,2.5 0 0 0 445.1,187.4 C443.1,187.4 406.3,188.4 371.6,190.3 Z" fill="url(#fg53s)" stroke="#0a5a0a" stroke-opacity="0.13" stroke-width="0.6"/>
<path d="M357.4,144.6 C352.1,122.4 351.4,119.5 351.1,118.6 A5.0,5.0 0 0 0 341.4,121.1 C341.7,122.1 342.4,125.0 348.6,146.9 Z" fill="url(#tg10)"/>
<path d="M378.4,152.7 C382.9,134.9 383.6,131.9 383.8,131.0 A5.0,5.0 0 0 0 374.0,128.8 C373.8,129.8 373.1,132.7 369.6,150.7 Z" fill="url(#tg11)"/>
<path d="M339.3,143.6 C324.5,119.4 323.1,117.2 322.6,116.4 A4.5,4.5 0 0 0 315.0,121.2 C315.5,122.0 316.9,124.3 332.4,147.9 Z" fill="url(#tg12)"/>
<path d="M365.1,132.6 C363.5,101.3 363.3,98.6 363.3,97.7 A4.5,4.5 0 0 0 354.3,98.3 C354.4,99.2 354.5,101.9 357.1,133.1 Z" fill="url(#tg13)"/>
<path d="M371.0,139.3 C372.7,111.4 372.8,109.0 372.8,108.2 A4.0,4.0 0 0 0 364.8,107.8 C364.8,108.6 364.7,111.0 363.8,139.0 Z" fill="url(#tg14)"/>
<path d="M375.5,144.4 C380.1,117.8 380.4,116.0 380.5,115.4 A3.0,3.0 0 0 0 374.6,114.5 C374.5,115.1 374.2,116.8 370.1,143.5 Z" fill="url(#tg15)"/>
<path d="M381.7,146.8 C389.8,121.5 390.3,119.8 390.5,119.3 A3.0,3.0 0 0 0 384.7,117.5 C384.6,118.1 384.0,119.8 376.5,145.2 Z" fill="url(#tg16)"/>
<path d="M392.3,146.6 C407.2,119.7 408.0,118.4 408.2,118.0 A2.5,2.5 0 0 0 403.8,115.6 C403.6,116.0 402.8,117.3 388.3,144.4 Z" fill="url(#tg17)"/>
<path d="M395.4,144.2 C411.6,116.5 412.5,114.9 412.8,114.4 A3.0,3.0 0 0 0 407.6,111.4 C407.3,111.9 406.4,113.5 390.7,141.6 Z" fill="url(#tg18)"/>
<path d="M401.6,147.7 C421.5,121.7 422.6,120.3 423.0,119.8 A3.0,3.0 0 0 0 418.2,116.2 C417.8,116.7 416.8,118.1 397.3,144.5 Z" fill="url(#tg19)"/>
<path d="M418.4,152.0 C448.9,127.7 450.3,126.6 450.8,126.2 A3.0,3.0 0 0 0 447.0,121.6 C446.5,121.9 445.1,123.1 415.0,147.8 Z" fill="url(#tg20)"/>
</g>
<path d="M327.0,192.8 C314.2,192.1 317.6,187.1 314.2,185.9 C310.8,184.7 295.2,181.4 292.8,180.6 C290.4,179.8 289.0,177.6 290.7,177.4 C292.4,177.2 307.5,178.6 309.9,178.4 C312.2,178.2 314.5,176.0 314.2,175.2 C313.9,174.3 307.1,170.8 306.7,169.9 C306.3,169.1 309.7,167.3 309.9,166.7 C310.1,166.1 307.8,164.2 308.8,163.5 C309.8,162.8 318.2,160.0 319.5,159.2 C320.8,158.3 321.7,156.3 321.6,155.0 C321.5,153.7 318.7,147.6 318.4,146.4 C318.1,145.2 318.2,143.9 318.5,142.7 C318.8,141.5 321.6,135.5 321.7,134.2 C321.8,132.9 319.7,131.2 319.6,129.9 C319.5,128.6 320.9,122.9 320.6,121.4 C320.3,119.9 316.2,116.0 316.4,115.0 C316.6,114.0 321.2,112.9 322.6,110.9 C324.0,108.9 328.8,97.1 330.0,95.0 C331.2,92.9 333.4,88.4 334.8,90.0 C336.2,91.6 342.6,108.6 343.9,110.9 C345.1,113.2 346.7,113.4 347.3,112.8 C347.9,112.2 349.3,106.6 350.0,105.0 C350.7,103.4 353.1,98.2 354.0,97.0 C354.9,95.8 357.7,93.6 358.5,93.5 C359.3,93.4 361.3,95.0 362.0,96.0 C362.7,97.0 364.5,102.7 365.3,103.9 C366.1,105.1 369.2,108.0 370.0,108.0 C370.8,108.0 372.5,103.5 373.3,103.9 C374.1,104.3 377.0,110.7 377.8,111.9 C378.6,113.2 380.8,115.9 381.4,116.4 C382.0,116.9 383.3,117.3 384.0,117.2 C384.7,117.1 387.7,115.5 388.5,115.5 C389.3,115.5 391.3,116.8 392.0,117.2 C392.7,117.6 394.9,120.0 395.6,119.9 C396.3,119.8 398.3,116.2 399.0,116.4 C399.7,116.6 401.9,121.9 402.7,121.7 C403.5,121.5 406.3,115.7 407.2,114.6 C408.1,113.5 410.9,109.8 411.7,110.3 C412.5,110.8 413.9,119.4 415.0,119.9 C416.1,120.4 421.9,114.8 422.4,115.6 C422.9,116.4 420.5,126.1 420.0,128.0 C419.5,129.9 416.7,134.1 417.8,134.5 C418.9,134.9 430.0,130.9 431.0,131.6 C432.0,132.3 425.8,142.2 427.8,141.2 C429.8,140.2 449.4,122.9 451.2,122.0 C453.0,121.1 447.1,130.4 446.0,132.0 C444.9,133.6 441.0,136.3 440.0,138.0 C439.0,139.7 436.1,147.8 436.0,149.2 C435.9,150.6 438.6,151.8 439.2,152.4 C439.8,153.0 441.1,155.3 442.4,155.6 C443.7,155.9 451.7,155.2 452.0,155.6 C452.3,156.0 445.1,159.5 445.6,160.0 C446.1,160.5 457.1,160.5 457.3,161.0 C457.5,161.5 447.8,164.2 447.7,165.2 C447.6,166.2 456.3,169.6 456.2,170.6 C456.1,171.6 447.1,173.8 446.6,174.8 C446.1,175.8 451.1,179.3 450.9,180.2 C450.7,181.1 444.8,182.4 444.5,183.4 C444.2,184.4 447.9,188.9 447.7,189.8 C447.4,190.7 454.1,192.5 442.0,192.8 C429.9,193.1 339.8,193.5 327.0,192.8 Z" fill="url(#tealB)"/>
<g clip-path="url(#clipFanB)">
<line x1="365.0" y1="192.8" x2="310.5" y2="179.7" stroke="#1eb8b8" stroke-opacity="0.28" stroke-width="1.4" stroke-linecap="round"/>
<line x1="365.0" y1="192.8" x2="354.7" y2="158.2" stroke="#1eb8b8" stroke-opacity="0.22" stroke-width="1.4" stroke-linecap="round"/>
<line x1="365.0" y1="192.8" x2="395.4" y2="171.9" stroke="#1eb8b8" stroke-opacity="0.16" stroke-width="2.0" stroke-linecap="round"/>
<line x1="365.0" y1="192.8" x2="388.2" y2="191.0" stroke="#1eb8b8" stroke-opacity="0.25" stroke-width="2.0" stroke-linecap="round"/>
<line x1="365.0" y1="192.8" x2="363.1" y2="144.9" stroke="#1eb8b8" stroke-opacity="0.18" stroke-width="1.3" stroke-linecap="round"/>
<line x1="365.0" y1="192.8" x2="332.1" y2="166.1" stroke="#1eb8b8" stroke-opacity="0.24" stroke-width="2.3" stroke-linecap="round"/>
<line x1="365.0" y1="192.8" x2="331.4" y2="189.7" stroke="#1eb8b8" stroke-opacity="0.26" stroke-width="1.9" stroke-linecap="round"/>
<line x1="365.0" y1="192.8" x2="354.9" y2="148.9" stroke="#1eb8b8" stroke-opacity="0.18" stroke-width="1.4" stroke-linecap="round"/>
<line x1="365.0" y1="192.8" x2="368.8" y2="145.7" stroke="#1eb8b8" stroke-opacity="0.23" stroke-width="2.0" stroke-linecap="round"/>
<line x1="365.0" y1="192.8" x2="353.4" y2="168.5" stroke="#1eb8b8" stroke-opacity="0.15" stroke-width="1.8" stroke-linecap="round"/>
<line x1="365.0" y1="192.8" x2="342.0" y2="177.8" stroke="#1eb8b8" stroke-opacity="0.14" stroke-width="1.4" stroke-linecap="round"/>
<line x1="365.0" y1="192.8" x2="395.2" y2="189.1" stroke="#1eb8b8" stroke-opacity="0.22" stroke-width="2.7" stroke-linecap="round"/>
<line x1="365.0" y1="192.8" x2="382.3" y2="163.5" stroke="#1eb8b8" stroke-opacity="0.17" stroke-width="1.7" stroke-linecap="round"/>
<line x1="365.0" y1="192.8" x2="333.7" y2="166.5" stroke="#1eb8b8" stroke-opacity="0.17" stroke-width="1.4" stroke-linecap="round"/>
<line x1="365.0" y1="192.8" x2="328.5" y2="163.4" stroke="#1eb8b8" stroke-opacity="0.27" stroke-width="1.6" stroke-linecap="round"/>
<line x1="365.0" y1="192.8" x2="357.2" y2="138.4" stroke="#1eb8b8" stroke-opacity="0.23" stroke-width="2.9" stroke-linecap="round"/>
<line x1="365.0" y1="192.8" x2="414.4" y2="164.2" stroke="#1eb8b8" stroke-opacity="0.13" stroke-width="1.9" stroke-linecap="round"/>
<line x1="365.0" y1="192.8" x2="415.6" y2="189.1" stroke="#1eb8b8" stroke-opacity="0.24" stroke-width="3.0" stroke-linecap="round"/>
<line x1="365.0" y1="192.8" x2="319.1" y2="160.6" stroke="#1eb8b8" stroke-opacity="0.22" stroke-width="3.0" stroke-linecap="round"/>
<line x1="365.0" y1="192.8" x2="341.6" y2="169.3" stroke="#1eb8b8" stroke-opacity="0.30" stroke-width="1.9" stroke-linecap="round"/>
<line x1="365.0" y1="192.8" x2="383.8" y2="179.7" stroke="#1eb8b8" stroke-opacity="0.20" stroke-width="1.6" stroke-linecap="round"/>
<line x1="365.0" y1="192.8" x2="310.1" y2="181.2" stroke="#1eb8b8" stroke-opacity="0.16" stroke-width="1.4" stroke-linecap="round"/>
<line x1="365.0" y1="192.8" x2="362.6" y2="166.5" stroke="#1eb8b8" stroke-opacity="0.22" stroke-width="2.7" stroke-linecap="round"/>
<line x1="365.0" y1="192.8" x2="390.2" y2="167.1" stroke="#1eb8b8" stroke-opacity="0.28" stroke-width="2.0" stroke-linecap="round"/>
<line x1="365.0" y1="192.8" x2="390.6" y2="145.3" stroke="#1eb8b8" stroke-opacity="0.27" stroke-width="2.8" stroke-linecap="round"/>
<line x1="365.0" y1="192.8" x2="345.2" y2="163.1" stroke="#1eb8b8" stroke-opacity="0.24" stroke-width="2.7" stroke-linecap="round"/>
<line x1="365.0" y1="192.8" x2="352.7" y2="166.5" stroke="#1eb8b8" stroke-opacity="0.17" stroke-width="1.9" stroke-linecap="round"/>
<line x1="365.0" y1="192.8" x2="334.0" y2="165.7" stroke="#1eb8b8" stroke-opacity="0.22" stroke-width="2.7" stroke-linecap="round"/>
<line x1="365.0" y1="192.8" x2="406.5" y2="178.1" stroke="#1eb8b8" stroke-opacity="0.18" stroke-width="2.2" stroke-linecap="round"/>
<line x1="365.0" y1="192.8" x2="339.4" y2="178.2" stroke="#1eb8b8" stroke-opacity="0.29" stroke-width="1.3" stroke-linecap="round"/>
<line x1="365.0" y1="192.8" x2="357.1" y2="153.0" stroke="#1eb8b8" stroke-opacity="0.16" stroke-width="2.2" stroke-linecap="round"/>
<line x1="365.0" y1="192.8" x2="368.4" y2="155.9" stroke="#1eb8b8" stroke-opacity="0.25" stroke-width="1.2" stroke-linecap="round"/>
<line x1="365.0" y1="192.8" x2="383.8" y2="146.6" stroke="#1eb8b8" stroke-opacity="0.15" stroke-width="2.8" stroke-linecap="round"/>
<line x1="365.0" y1="192.8" x2="401.8" y2="165.4" stroke="#1eb8b8" stroke-opacity="0.15" stroke-width="2.0" stroke-linecap="round"/>
<line x1="365.0" y1="192.8" x2="370.6" y2="170.4" stroke="#1eb8b8" stroke-opacity="0.25" stroke-width="2.1" stroke-linecap="round"/>
<line x1="365.0" y1="192.8" x2="342.3" y2="159.2" stroke="#1eb8b8" stroke-opacity="0.22" stroke-width="2.1" stroke-linecap="round"/>
<line x1="365.0" y1="192.8" x2="397.1" y2="149.2" stroke="#1eb8b8" stroke-opacity="0.14" stroke-width="2.8" stroke-linecap="round"/>
<line x1="365.0" y1="192.8" x2="329.6" y2="176.6" stroke="#1eb8b8" stroke-opacity="0.26" stroke-width="2.4" stroke-linecap="round"/>
<line x1="365.0" y1="192.8" x2="354.9" y2="163.4" stroke="#1eb8b8" stroke-opacity="0.18" stroke-width="1.8" stroke-linecap="round"/>
<line x1="365.0" y1="192.8" x2="397.9" y2="146.9" stroke="#1eb8b8" stroke-opacity="0.18" stroke-width="1.9" stroke-linecap="round"/>
</g>
<rect x="275" y="125" width="275" height="69" fill="url(#botB)" clip-path="url(#clipFanB)"/>
<path d="M442.0,192.8 L437.0,197.0 L430.4,203.5 L419.7,208.8 L411.2,212.0 L406.9,215.2 L410.1,218.4 L404.8,222.7 L398.4,224.8 L400.5,231.2 L399.4,237.3 L328.9,237.2 L329.8,235.0 L336.7,227.2 L342.6,221.3 L334.7,213.5 L329.8,209.6 L328.9,205.7 L321.0,197.0 L315.0,192.8 Z" fill="url(#lowB)"/>
<g fill="url(#lowB)">
<path d="M328.8,196.2 L317.5,197.4 L328.8,197.8 Z"/>
<path d="M330.5,198.1 L318.1,199.7 L330.5,200.2 Z"/>
<path d="M331.8,199.7 L318.4,201.3 L331.8,201.7 Z"/>
<path d="M333.3,201.7 L319.3,203.3 L333.3,203.5 Z"/>
<path d="M334.4,203.2 L321.1,204.5 L334.4,204.6 Z"/>
<path d="M335.9,204.6 L326.6,206.0 L335.9,206.9 Z"/>
<path d="M336.4,207.0 L322.3,208.5 L336.4,208.6 Z"/>
<path d="M337.0,208.7 L327.2,210.0 L337.0,210.8 Z"/>
<path d="M339.6,210.6 L326.5,212.5 L339.6,213.1 Z"/>
<path d="M341.6,212.4 L328.8,214.0 L341.6,214.4 Z"/>
<path d="M343.7,214.7 L329.6,216.2 L343.7,216.3 Z"/>
<path d="M345.6,216.3 L334.2,217.8 L345.6,218.4 Z"/>
<path d="M347.2,218.2 L338.1,219.2 L347.2,219.7 Z"/>
<path d="M349.2,219.8 L337.6,221.3 L349.2,222.0 Z"/>
<path d="M347.9,222.1 L335.0,223.6 L347.9,223.8 Z"/>
<path d="M346.7,223.0 L337.4,224.4 L346.7,225.4 Z"/>
<path d="M344.7,225.1 L335.1,226.4 L344.7,227.2 Z"/>
<path d="M342.8,227.2 L329.8,228.9 L342.8,229.4 Z"/>
<path d="M341.3,228.7 L327.2,230.6 L341.3,231.1 Z"/>
<path d="M339.9,230.5 L326.5,232.2 L339.9,232.6 Z"/>
<path d="M338.4,232.4 L323.6,234.0 L338.4,234.0 Z"/>
<path d="M336.8,233.9 L326.1,235.4 L336.8,236.3 Z"/>
</g>
<line x1="325.8" y1="197.0" x2="318.5" y2="197.4" stroke="#c8f0f8" stroke-opacity="0.45" stroke-width="0.6"/>
<line x1="330.3" y1="202.6" x2="320.3" y2="203.3" stroke="#c8f0f8" stroke-opacity="0.45" stroke-width="0.6"/>
<line x1="332.9" y1="205.7" x2="327.6" y2="206.0" stroke="#c8f0f8" stroke-opacity="0.45" stroke-width="0.6"/>
<line x1="334.0" y1="209.7" x2="328.2" y2="210.0" stroke="#c8f0f8" stroke-opacity="0.45" stroke-width="0.6"/>
<line x1="336.6" y1="211.9" x2="327.5" y2="212.5" stroke="#c8f0f8" stroke-opacity="0.45" stroke-width="0.6"/>
<line x1="338.6" y1="213.4" x2="329.8" y2="214.0" stroke="#c8f0f8" stroke-opacity="0.45" stroke-width="0.6"/>
<line x1="340.7" y1="215.5" x2="330.6" y2="216.2" stroke="#c8f0f8" stroke-opacity="0.45" stroke-width="0.6"/>
<line x1="344.9" y1="223.0" x2="336.0" y2="223.6" stroke="#c8f0f8" stroke-opacity="0.45" stroke-width="0.6"/>
<line x1="341.7" y1="226.2" x2="336.1" y2="226.4" stroke="#c8f0f8" stroke-opacity="0.45" stroke-width="0.6"/>
<line x1="338.3" y1="229.9" x2="328.2" y2="230.6" stroke="#c8f0f8" stroke-opacity="0.45" stroke-width="0.6"/>
<line x1="335.4" y1="233.2" x2="324.6" y2="234.0" stroke="#c8f0f8" stroke-opacity="0.45" stroke-width="0.6"/>
<line x1="333.8" y1="235.1" x2="327.1" y2="235.4" stroke="#c8f0f8" stroke-opacity="0.45" stroke-width="0.6"/>
<g fill="url(#lowB)">
<path d="M429.6,195.4 L438.8,196.7 L429.6,197.6 Z"/>
<path d="M428.1,197.0 L440.8,198.7 L428.1,199.3 Z"/>
<path d="M426.6,199.0 L435.7,200.1 L426.6,200.8 Z"/>
<path d="M424.8,200.8 L436.8,202.4 L424.8,203.0 Z"/>
<path d="M423.6,202.1 L437.3,204.0 L423.6,204.4 Z"/>
<path d="M421.2,203.6 L433.0,205.1 L421.2,205.5 Z"/>
<path d="M417.6,205.4 L429.4,206.9 L417.6,207.4 Z"/>
<path d="M415.1,206.4 L424.4,207.8 L415.1,208.8 Z"/>
<path d="M411.9,208.1 L425.8,209.8 L411.9,210.1 Z"/>
<path d="M406.4,210.0 L418.6,211.7 L406.4,212.4 Z"/>
<path d="M403.6,211.3 L416.0,213.0 L403.6,213.6 Z"/>
<path d="M401.5,212.9 L413.4,214.5 L401.5,215.1 Z"/>
<path d="M400.7,215.4 L414.0,216.7 L400.7,216.7 Z"/>
<path d="M402.3,216.6 L412.3,217.9 L402.3,218.6 Z"/>
<path d="M401.9,218.4 L411.5,219.6 L401.9,220.3 Z"/>
<path d="M399.3,220.9 L412.2,222.1 L399.3,222.2 Z"/>
<path d="M395.9,222.6 L405.4,223.6 L395.9,224.0 Z"/>
<path d="M391.5,224.1 L401.4,225.5 L391.5,226.3 Z"/>
<path d="M392.1,226.3 L403.5,227.4 L392.1,227.6 Z"/>
<path d="M392.8,228.3 L407.2,229.8 L392.8,229.8 Z"/>
<path d="M393.5,230.1 L407.5,231.9 L393.5,232.4 Z"/>
<path d="M393.1,231.9 L404.9,233.6 L393.1,234.4 Z"/>
<path d="M392.8,234.3 L406.5,235.9 L392.8,236.1 Z"/>
<path d="M392.5,235.3 L402.7,236.8 L392.5,237.7 Z"/>
</g>
<line x1="432.6" y1="196.5" x2="437.8" y2="196.7" stroke="#c8f0f8" stroke-opacity="0.45" stroke-width="0.6"/>
<line x1="414.9" y1="209.1" x2="424.8" y2="209.8" stroke="#c8f0f8" stroke-opacity="0.45" stroke-width="0.6"/>
<line x1="404.5" y1="214.0" x2="412.4" y2="214.5" stroke="#c8f0f8" stroke-opacity="0.45" stroke-width="0.6"/>
<line x1="398.9" y1="223.3" x2="404.4" y2="223.6" stroke="#c8f0f8" stroke-opacity="0.45" stroke-width="0.6"/>
<line x1="394.5" y1="225.2" x2="400.4" y2="225.5" stroke="#c8f0f8" stroke-opacity="0.45" stroke-width="0.6"/>
<line x1="395.1" y1="226.9" x2="402.5" y2="227.4" stroke="#c8f0f8" stroke-opacity="0.45" stroke-width="0.6"/>
<line x1="396.5" y1="231.2" x2="406.5" y2="231.9" stroke="#c8f0f8" stroke-opacity="0.45" stroke-width="0.6"/>
<g clip-path="url(#clipLowB)"><line x1="369.6" y1="213.7" x2="373.3" y2="221.0" stroke="#2a7cd0" stroke-opacity="0.6" stroke-width="1.3" stroke-linecap="round"/>
<line x1="347.9" y1="222.9" x2="337.6" y2="230.9" stroke="#30c4c8" stroke-opacity="0.7" stroke-width="0.7" stroke-linecap="round"/>
<line x1="356.7" y1="196.1" x2="352.4" y2="197.7" stroke="#28b8c0" stroke-opacity="0.7" stroke-width="1.1" stroke-linecap="round"/>
<line x1="365.2" y1="210.3" x2="365.3" y2="215.2" stroke="#2a7cd0" stroke-opacity="0.6" stroke-width="0.6" stroke-linecap="round"/>
<line x1="373.0" y1="193.6" x2="382.5" y2="195.6" stroke="#28b8c0" stroke-opacity="0.7" stroke-width="1.2" stroke-linecap="round"/>
<line x1="361.0" y1="211.2" x2="356.2" y2="219.8" stroke="#2ca4cc" stroke-opacity="0.6" stroke-width="1.0" stroke-linecap="round"/>
<line x1="393.2" y1="211.4" x2="400.3" y2="214.0" stroke="#2c88d0" stroke-opacity="0.6" stroke-width="1.2" stroke-linecap="round"/>
<line x1="361.1" y1="198.7" x2="354.7" y2="203.5" stroke="#28b8c0" stroke-opacity="0.7" stroke-width="0.9" stroke-linecap="round"/>
<line x1="389.7" y1="200.7" x2="414.4" y2="205.0" stroke="#22bca8" stroke-opacity="0.6" stroke-width="1.2" stroke-linecap="round"/>
<line x1="351.6" y1="199.0" x2="329.6" y2="204.0" stroke="#22bca8" stroke-opacity="0.6" stroke-width="0.7" stroke-linecap="round"/>
<line x1="379.6" y1="209.2" x2="386.5" y2="213.3" stroke="#3070d4" stroke-opacity="0.5" stroke-width="0.9" stroke-linecap="round"/>
<line x1="364.5" y1="204.9" x2="363.6" y2="213.0" stroke="#2a7cd0" stroke-opacity="0.6" stroke-width="0.8" stroke-linecap="round"/>
<line x1="413.0" y1="200.9" x2="430.3" y2="202.8" stroke="#26c0b4" stroke-opacity="0.6" stroke-width="1.1" stroke-linecap="round"/>
<line x1="369.7" y1="192.8" x2="371.5" y2="193.6" stroke="#22bca8" stroke-opacity="0.6" stroke-width="0.7" stroke-linecap="round"/>
<line x1="353.9" y1="213.6" x2="345.0" y2="221.0" stroke="#2a7cd0" stroke-opacity="0.6" stroke-width="1.0" stroke-linecap="round"/>
<line x1="374.8" y1="219.4" x2="388.5" y2="232.3" stroke="#30c4c8" stroke-opacity="0.7" stroke-width="1.3" stroke-linecap="round"/>
<line x1="349.6" y1="200.8" x2="345.1" y2="202.4" stroke="#30c4c8" stroke-opacity="0.7" stroke-width="1.1" stroke-linecap="round"/>
<line x1="364.7" y1="206.2" x2="364.3" y2="214.5" stroke="#2c88d0" stroke-opacity="0.6" stroke-width="0.6" stroke-linecap="round"/>
<line x1="391.8" y1="202.4" x2="408.4" y2="205.8" stroke="#90e0ec" stroke-opacity="0.35" stroke-width="1.0" stroke-linecap="round"/>
<line x1="379.8" y1="211.5" x2="398.3" y2="220.5" stroke="#3070d4" stroke-opacity="0.5" stroke-width="1.2" stroke-linecap="round"/>
<line x1="353.8" y1="193.6" x2="346.0" y2="195.1" stroke="#30c4c8" stroke-opacity="0.7" stroke-width="0.7" stroke-linecap="round"/>
<line x1="358.4" y1="223.3" x2="356.5" y2="227.8" stroke="#2ca4cc" stroke-opacity="0.4" stroke-width="0.6" stroke-linecap="round"/>
<line x1="374.3" y1="222.9" x2="376.7" y2="226.7" stroke="#28b8c0" stroke-opacity="0.7" stroke-width="1.0" stroke-linecap="round"/>
<line x1="362.5" y1="194.3" x2="361.3" y2="195.5" stroke="#30c4c8" stroke-opacity="0.7" stroke-width="1.2" stroke-linecap="round"/>
<line x1="379.6" y1="215.5" x2="388.8" y2="222.1" stroke="#2a7cd0" stroke-opacity="0.6" stroke-width="0.7" stroke-linecap="round"/>
<line x1="343.7" y1="195.9" x2="325.3" y2="198.3" stroke="#90e0ec" stroke-opacity="0.35" stroke-width="0.9" stroke-linecap="round"/>
<line x1="398.2" y1="215.9" x2="410.6" y2="220.3" stroke="#2c88d0" stroke-opacity="0.6" stroke-width="1.0" stroke-linecap="round"/>
<line x1="370.6" y1="200.8" x2="380.5" y2="206.8" stroke="#26c0b4" stroke-opacity="0.6" stroke-width="0.7" stroke-linecap="round"/>
<line x1="370.1" y1="221.0" x2="377.3" y2="234.7" stroke="#2ca4cc" stroke-opacity="0.4" stroke-width="0.8" stroke-linecap="round"/>
<line x1="348.1" y1="225.7" x2="334.3" y2="236.7" stroke="#30c4c8" stroke-opacity="0.7" stroke-width="0.9" stroke-linecap="round"/>
<line x1="390.9" y1="200.3" x2="401.4" y2="202.3" stroke="#30c4c8" stroke-opacity="0.7" stroke-width="1.3" stroke-linecap="round"/>
<line x1="364.5" y1="210.5" x2="363.8" y2="219.9" stroke="#30c4c8" stroke-opacity="0.5" stroke-width="0.9" stroke-linecap="round"/>
<line x1="415.8" y1="194.0" x2="429.2" y2="194.7" stroke="#30c4c8" stroke-opacity="0.7" stroke-width="0.7" stroke-linecap="round"/>
<line x1="370.7" y1="225.7" x2="375.8" y2="237.5" stroke="#2ca4cc" stroke-opacity="0.4" stroke-width="1.0" stroke-linecap="round"/>
<line x1="358.8" y1="224.6" x2="353.9" y2="235.1" stroke="#28b8c0" stroke-opacity="0.7" stroke-width="1.3" stroke-linecap="round"/>
<line x1="357.4" y1="213.4" x2="349.1" y2="222.4" stroke="#2ca4cc" stroke-opacity="0.6" stroke-width="0.8" stroke-linecap="round"/>
<line x1="393.5" y1="192.5" x2="416.3" y2="193.7" stroke="#28b8c0" stroke-opacity="0.7" stroke-width="1.2" stroke-linecap="round"/>
<line x1="351.0" y1="226.8" x2="347.3" y2="231.3" stroke="#28b8c0" stroke-opacity="0.7" stroke-width="1.0" stroke-linecap="round"/>
<line x1="390.7" y1="221.2" x2="397.9" y2="225.2" stroke="#26c0b4" stroke-opacity="0.6" stroke-width="0.8" stroke-linecap="round"/>
<line x1="405.9" y1="202.9" x2="424.3" y2="205.6" stroke="#2ca4cc" stroke-opacity="0.4" stroke-width="1.2" stroke-linecap="round"/>
<line x1="346.2" y1="202.7" x2="336.6" y2="205.6" stroke="#2ca4cc" stroke-opacity="0.4" stroke-width="1.0" stroke-linecap="round"/>
<line x1="352.5" y1="207.5" x2="341.1" y2="213.5" stroke="#30c4c8" stroke-opacity="0.5" stroke-width="1.0" stroke-linecap="round"/>
<line x1="383.6" y1="226.0" x2="395.8" y2="235.3" stroke="#2ca4cc" stroke-opacity="0.4" stroke-width="1.2" stroke-linecap="round"/>
<line x1="390.5" y1="201.0" x2="400.6" y2="203.1" stroke="#26c0b4" stroke-opacity="0.6" stroke-width="1.3" stroke-linecap="round"/>
<line x1="351.0" y1="199.3" x2="329.1" y2="204.3" stroke="#90e0ec" stroke-opacity="0.35" stroke-width="1.0" stroke-linecap="round"/>
<line x1="406.1" y1="206.3" x2="420.9" y2="209.1" stroke="#2ca4cc" stroke-opacity="0.6" stroke-width="1.0" stroke-linecap="round"/>
<line x1="366.8" y1="201.7" x2="368.9" y2="206.9" stroke="#28b8c0" stroke-opacity="0.7" stroke-width="0.9" stroke-linecap="round"/>
<line x1="389.4" y1="209.7" x2="404.9" y2="215.0" stroke="#2c88d0" stroke-opacity="0.6" stroke-width="1.2" stroke-linecap="round"/>
<line x1="368.8" y1="214.1" x2="371.4" y2="220.6" stroke="#3070d4" stroke-opacity="0.5" stroke-width="1.0" stroke-linecap="round"/>
<line x1="356.3" y1="209.0" x2="353.5" y2="212.0" stroke="#3070d4" stroke-opacity="0.5" stroke-width="0.8" stroke-linecap="round"/>
<line x1="358.5" y1="207.8" x2="348.9" y2="216.3" stroke="#2c88d0" stroke-opacity="0.6" stroke-width="1.1" stroke-linecap="round"/>
<line x1="375.3" y1="207.9" x2="382.0" y2="212.8" stroke="#30c4c8" stroke-opacity="0.5" stroke-width="0.7" stroke-linecap="round"/>
<line x1="341.8" y1="231.0" x2="334.6" y2="236.8" stroke="#22bca8" stroke-opacity="0.6" stroke-width="0.8" stroke-linecap="round"/>
<line x1="372.6" y1="197.4" x2="375.6" y2="199.0" stroke="#22bca8" stroke-opacity="0.6" stroke-width="1.0" stroke-linecap="round"/>
<line x1="390.5" y1="201.1" x2="409.4" y2="204.6" stroke="#2ca4cc" stroke-opacity="0.4" stroke-width="0.7" stroke-linecap="round"/>
<line x1="373.9" y1="201.0" x2="380.2" y2="204.3" stroke="#22bca8" stroke-opacity="0.6" stroke-width="0.6" stroke-linecap="round"/>
<line x1="384.3" y1="223.5" x2="397.6" y2="232.6" stroke="#26c0b4" stroke-opacity="0.6" stroke-width="1.0" stroke-linecap="round"/>
<line x1="350.4" y1="200.4" x2="341.3" y2="203.4" stroke="#30c4c8" stroke-opacity="0.7" stroke-width="0.8" stroke-linecap="round"/>
<line x1="356.8" y1="230.3" x2="354.7" y2="235.1" stroke="#28b8c0" stroke-opacity="0.7" stroke-width="0.7" stroke-linecap="round"/>
<line x1="357.0" y1="214.7" x2="344.8" y2="226.3" stroke="#22bca8" stroke-opacity="0.6" stroke-width="1.0" stroke-linecap="round"/>
<line x1="395.1" y1="200.6" x2="407.5" y2="202.8" stroke="#28b8c0" stroke-opacity="0.7" stroke-width="0.8" stroke-linecap="round"/>
<line x1="374.9" y1="221.9" x2="380.1" y2="228.9" stroke="#30c4c8" stroke-opacity="0.7" stroke-width="1.2" stroke-linecap="round"/>
<line x1="372.7" y1="193.2" x2="377.2" y2="194.4" stroke="#2ca4cc" stroke-opacity="0.4" stroke-width="1.0" stroke-linecap="round"/>
<line x1="353.9" y1="195.2" x2="338.5" y2="198.1" stroke="#90e0ec" stroke-opacity="0.35" stroke-width="1.3" stroke-linecap="round"/>
<line x1="341.4" y1="194.6" x2="322.8" y2="196.4" stroke="#28b8c0" stroke-opacity="0.7" stroke-width="0.9" stroke-linecap="round"/>
<line x1="371.1" y1="211.6" x2="374.8" y2="217.2" stroke="#2c88d0" stroke-opacity="0.6" stroke-width="1.1" stroke-linecap="round"/>
<line x1="366.4" y1="207.2" x2="366.9" y2="209.7" stroke="#2a7cd0" stroke-opacity="0.6" stroke-width="0.7" stroke-linecap="round"/>
<line x1="376.9" y1="193.2" x2="381.7" y2="194.1" stroke="#26c0b4" stroke-opacity="0.6" stroke-width="1.3" stroke-linecap="round"/>
<line x1="377.0" y1="198.7" x2="388.9" y2="202.2" stroke="#90e0ec" stroke-opacity="0.35" stroke-width="0.8" stroke-linecap="round"/>
<line x1="350.0" y1="223.3" x2="334.9" y2="235.1" stroke="#2ca4cc" stroke-opacity="0.4" stroke-width="1.2" stroke-linecap="round"/>
<line x1="365.8" y1="216.0" x2="366.5" y2="225.3" stroke="#22bca8" stroke-opacity="0.6" stroke-width="0.7" stroke-linecap="round"/>
<line x1="417.2" y1="194.4" x2="431.8" y2="195.2" stroke="#90e0ec" stroke-opacity="0.35" stroke-width="0.9" stroke-linecap="round"/>
<line x1="383.9" y1="212.5" x2="401.0" y2="220.1" stroke="#30c4c8" stroke-opacity="0.5" stroke-width="1.1" stroke-linecap="round"/>
<line x1="419.6" y1="193.3" x2="445.0" y2="194.2" stroke="#90e0ec" stroke-opacity="0.35" stroke-width="1.0" stroke-linecap="round"/>
<line x1="370.4" y1="216.2" x2="380.2" y2="229.7" stroke="#90e0ec" stroke-opacity="0.35" stroke-width="0.8" stroke-linecap="round"/>
<line x1="377.4" y1="232.5" x2="380.5" y2="237.5" stroke="#26c0b4" stroke-opacity="0.6" stroke-width="1.0" stroke-linecap="round"/>
<line x1="391.9" y1="216.1" x2="399.4" y2="219.6" stroke="#30c4c8" stroke-opacity="0.5" stroke-width="1.3" stroke-linecap="round"/>
<line x1="347.6" y1="208.7" x2="334.7" y2="214.3" stroke="#2a7cd0" stroke-opacity="0.6" stroke-width="1.1" stroke-linecap="round"/>
<line x1="367.5" y1="209.2" x2="369.7" y2="215.7" stroke="#2ca4cc" stroke-opacity="0.6" stroke-width="0.9" stroke-linecap="round"/>
<line x1="358.0" y1="214.8" x2="350.4" y2="224.2" stroke="#26c0b4" stroke-opacity="0.6" stroke-width="1.2" stroke-linecap="round"/>
<line x1="381.8" y1="216.7" x2="390.6" y2="222.6" stroke="#2c88d0" stroke-opacity="0.6" stroke-width="1.3" stroke-linecap="round"/>
<line x1="404.0" y1="195.0" x2="415.4" y2="195.9" stroke="#28b8c0" stroke-opacity="0.7" stroke-width="1.2" stroke-linecap="round"/>
<line x1="349.7" y1="220.0" x2="342.8" y2="225.9" stroke="#28b8c0" stroke-opacity="0.7" stroke-width="1.0" stroke-linecap="round"/>
<line x1="371.5" y1="228.1" x2="375.4" y2="237.5" stroke="#28b8c0" stroke-opacity="0.7" stroke-width="0.6" stroke-linecap="round"/>
<line x1="366.7" y1="196.4" x2="368.3" y2="199.1" stroke="#30c4c8" stroke-opacity="0.7" stroke-width="0.7" stroke-linecap="round"/>
<line x1="368.1" y1="214.7" x2="371.6" y2="224.4" stroke="#2ca4cc" stroke-opacity="0.4" stroke-width="1.1" stroke-linecap="round"/>
<line x1="363.3" y1="217.4" x2="360.9" y2="229.6" stroke="#90e0ec" stroke-opacity="0.35" stroke-width="1.2" stroke-linecap="round"/>
<line x1="349.7" y1="197.3" x2="343.2" y2="198.9" stroke="#2ca4cc" stroke-opacity="0.4" stroke-width="1.3" stroke-linecap="round"/>
<line x1="354.1" y1="216.9" x2="348.6" y2="222.7" stroke="#3070d4" stroke-opacity="0.5" stroke-width="1.1" stroke-linecap="round"/>
<line x1="402.2" y1="200.2" x2="412.0" y2="201.6" stroke="#30c4c8" stroke-opacity="0.7" stroke-width="1.3" stroke-linecap="round"/>
<line x1="339.9" y1="194.0" x2="318.6" y2="195.7" stroke="#2ca4cc" stroke-opacity="0.4" stroke-width="0.6" stroke-linecap="round"/>
<line x1="347.0" y1="204.5" x2="341.3" y2="206.7" stroke="#30c4c8" stroke-opacity="0.7" stroke-width="1.0" stroke-linecap="round"/>
<line x1="379.2" y1="204.4" x2="396.9" y2="210.6" stroke="#2ca4cc" stroke-opacity="0.6" stroke-width="1.0" stroke-linecap="round"/>
<line x1="384.2" y1="204.0" x2="410.7" y2="210.6" stroke="#2a7cd0" stroke-opacity="0.6" stroke-width="0.9" stroke-linecap="round"/>
<line x1="376.9" y1="220.5" x2="386.8" y2="230.2" stroke="#90e0ec" stroke-opacity="0.35" stroke-width="1.1" stroke-linecap="round"/>
<line x1="370.0" y1="203.8" x2="374.2" y2="208.5" stroke="#2a7cd0" stroke-opacity="0.6" stroke-width="1.0" stroke-linecap="round"/>
<line x1="380.6" y1="201.7" x2="405.5" y2="207.8" stroke="#3070d4" stroke-opacity="0.5" stroke-width="1.3" stroke-linecap="round"/>
<line x1="384.6" y1="220.1" x2="393.3" y2="225.9" stroke="#90e0ec" stroke-opacity="0.35" stroke-width="0.8" stroke-linecap="round"/>
<line x1="347.2" y1="205.1" x2="330.4" y2="210.5" stroke="#2c88d0" stroke-opacity="0.6" stroke-width="0.9" stroke-linecap="round"/>
<line x1="369.4" y1="216.7" x2="371.7" y2="222.7" stroke="#2ca4cc" stroke-opacity="0.6" stroke-width="1.0" stroke-linecap="round"/>
<line x1="393.6" y1="202.6" x2="419.0" y2="207.1" stroke="#2a7cd0" stroke-opacity="0.6" stroke-width="0.8" stroke-linecap="round"/>
<line x1="362.8" y1="204.8" x2="360.8" y2="210.0" stroke="#30c4c8" stroke-opacity="0.5" stroke-width="1.2" stroke-linecap="round"/>
<line x1="384.3" y1="203.7" x2="410.9" y2="210.2" stroke="#2a7cd0" stroke-opacity="0.6" stroke-width="1.1" stroke-linecap="round"/>
<line x1="350.5" y1="219.5" x2="334.5" y2="230.7" stroke="#28b8c0" stroke-opacity="0.7" stroke-width="0.8" stroke-linecap="round"/>
<line x1="357.6" y1="192.9" x2="351.3" y2="194.4" stroke="#2ca4cc" stroke-opacity="0.4" stroke-width="1.0" stroke-linecap="round"/>
<line x1="399.5" y1="195.3" x2="415.6" y2="196.6" stroke="#90e0ec" stroke-opacity="0.35" stroke-width="0.7" stroke-linecap="round"/>
<line x1="386.4" y1="198.0" x2="398.3" y2="200.2" stroke="#30c4c8" stroke-opacity="0.7" stroke-width="1.2" stroke-linecap="round"/>
<line x1="372.0" y1="224.6" x2="377.6" y2="235.0" stroke="#90e0ec" stroke-opacity="0.35" stroke-width="0.9" stroke-linecap="round"/>
<line x1="374.2" y1="214.0" x2="378.8" y2="219.2" stroke="#2c88d0" stroke-opacity="0.6" stroke-width="0.9" stroke-linecap="round"/>
<line x1="374.8" y1="218.7" x2="383.1" y2="227.9" stroke="#22bca8" stroke-opacity="0.6" stroke-width="1.3" stroke-linecap="round"/>
<line x1="351.7" y1="198.7" x2="344.8" y2="200.9" stroke="#90e0ec" stroke-opacity="0.35" stroke-width="0.8" stroke-linecap="round"/>
<line x1="366.7" y1="201.7" x2="369.4" y2="207.9" stroke="#2ca4cc" stroke-opacity="0.6" stroke-width="1.2" stroke-linecap="round"/>
<line x1="355.3" y1="199.5" x2="352.3" y2="201.0" stroke="#22bca8" stroke-opacity="0.6" stroke-width="0.6" stroke-linecap="round"/>
<line x1="370.1" y1="218.2" x2="376.5" y2="229.9" stroke="#90e0ec" stroke-opacity="0.35" stroke-width="0.8" stroke-linecap="round"/>
<line x1="355.3" y1="216.5" x2="343.5" y2="227.3" stroke="#30c4c8" stroke-opacity="0.7" stroke-width="1.3" stroke-linecap="round"/>
<line x1="365.8" y1="228.4" x2="366.2" y2="237.5" stroke="#2ca4cc" stroke-opacity="0.4" stroke-width="1.0" stroke-linecap="round"/>
<line x1="355.5" y1="225.0" x2="346.2" y2="237.1" stroke="#2ca4cc" stroke-opacity="0.4" stroke-width="1.2" stroke-linecap="round"/>
<line x1="365.5" y1="200.6" x2="365.7" y2="202.7" stroke="#2ca4cc" stroke-opacity="0.4" stroke-width="1.2" stroke-linecap="round"/>
<line x1="353.9" y1="208.0" x2="344.4" y2="214.0" stroke="#2ca4cc" stroke-opacity="0.6" stroke-width="0.7" stroke-linecap="round"/>
<line x1="382.5" y1="210.5" x2="393.9" y2="215.9" stroke="#3070d4" stroke-opacity="0.5" stroke-width="0.6" stroke-linecap="round"/>
<line x1="402.8" y1="195.3" x2="421.2" y2="196.7" stroke="#28b8c0" stroke-opacity="0.7" stroke-width="1.3" stroke-linecap="round"/>
<line x1="389.7" y1="195.4" x2="406.5" y2="197.2" stroke="#2ca4cc" stroke-opacity="0.4" stroke-width="0.8" stroke-linecap="round"/>
<line x1="397.4" y1="195.0" x2="438.0" y2="197.7" stroke="#2ca4cc" stroke-opacity="0.4" stroke-width="0.9" stroke-linecap="round"/>
<line x1="372.0" y1="224.9" x2="379.2" y2="237.5" stroke="#22bca8" stroke-opacity="0.6" stroke-width="0.7" stroke-linecap="round"/>
<line x1="358.8" y1="209.0" x2="352.9" y2="215.8" stroke="#3070d4" stroke-opacity="0.5" stroke-width="0.7" stroke-linecap="round"/>
<line x1="365.1" y1="212.4" x2="365.1" y2="216.3" stroke="#30c4c8" stroke-opacity="0.5" stroke-width="0.6" stroke-linecap="round"/>
<line x1="363.7" y1="218.0" x2="362.8" y2="225.4" stroke="#22bca8" stroke-opacity="0.6" stroke-width="1.2" stroke-linecap="round"/>
<line x1="375.9" y1="194.7" x2="386.0" y2="196.9" stroke="#28b8c0" stroke-opacity="0.7" stroke-width="0.9" stroke-linecap="round"/>
<line x1="383.0" y1="203.0" x2="411.1" y2="209.5" stroke="#3070d4" stroke-opacity="0.5" stroke-width="1.1" stroke-linecap="round"/>
<line x1="349.7" y1="198.5" x2="337.6" y2="201.5" stroke="#26c0b4" stroke-opacity="0.6" stroke-width="0.7" stroke-linecap="round"/>
<line x1="353.5" y1="197.2" x2="343.5" y2="200.0" stroke="#28b8c0" stroke-opacity="0.7" stroke-width="0.9" stroke-linecap="round"/>
<line x1="343.2" y1="199.8" x2="332.1" y2="202.2" stroke="#22bca8" stroke-opacity="0.6" stroke-width="0.9" stroke-linecap="round"/>
<line x1="366.6" y1="192.8" x2="367.5" y2="193.8" stroke="#30c4c8" stroke-opacity="0.7" stroke-width="1.1" stroke-linecap="round"/>
<line x1="379.3" y1="192.4" x2="393.4" y2="193.8" stroke="#26c0b4" stroke-opacity="0.6" stroke-width="1.0" stroke-linecap="round"/>
<line x1="375.4" y1="198.7" x2="386.6" y2="202.5" stroke="#28b8c0" stroke-opacity="0.7" stroke-width="1.1" stroke-linecap="round"/>
<line x1="361.4" y1="211.0" x2="359.7" y2="215.5" stroke="#2a7cd0" stroke-opacity="0.6" stroke-width="1.4" stroke-linecap="round"/>
<line x1="381.6" y1="193.5" x2="388.8" y2="194.5" stroke="#30c4c8" stroke-opacity="0.7" stroke-width="0.8" stroke-linecap="round"/>
<line x1="383.5" y1="220.9" x2="389.1" y2="225.2" stroke="#90e0ec" stroke-opacity="0.35" stroke-width="0.8" stroke-linecap="round"/>
<line x1="392.2" y1="201.1" x2="410.6" y2="204.5" stroke="#28b8c0" stroke-opacity="0.7" stroke-width="1.0" stroke-linecap="round"/>
<line x1="351.8" y1="230.5" x2="346.6" y2="237.5" stroke="#2ca4cc" stroke-opacity="0.4" stroke-width="0.7" stroke-linecap="round"/>
<line x1="403.1" y1="192.1" x2="439.3" y2="193.4" stroke="#2ca4cc" stroke-opacity="0.4" stroke-width="0.9" stroke-linecap="round"/>
<line x1="366.1" y1="227.6" x2="366.4" y2="232.1" stroke="#30c4c8" stroke-opacity="0.7" stroke-width="0.8" stroke-linecap="round"/>
<line x1="364.4" y1="211.2" x2="363.3" y2="222.1" stroke="#3070d4" stroke-opacity="0.5" stroke-width="0.9" stroke-linecap="round"/>
<line x1="359.2" y1="197.7" x2="357.5" y2="199.0" stroke="#28b8c0" stroke-opacity="0.7" stroke-width="1.1" stroke-linecap="round"/>
<line x1="346.0" y1="226.6" x2="331.1" y2="237.5" stroke="#22bca8" stroke-opacity="0.6" stroke-width="1.3" stroke-linecap="round"/>
<line x1="366.0" y1="202.9" x2="366.9" y2="207.2" stroke="#30c4c8" stroke-opacity="0.5" stroke-width="1.3" stroke-linecap="round"/>
<line x1="345.5" y1="196.3" x2="326.0" y2="199.0" stroke="#2ca4cc" stroke-opacity="0.4" stroke-width="0.9" stroke-linecap="round"/>
<line x1="381.6" y1="220.1" x2="391.8" y2="227.7" stroke="#28b8c0" stroke-opacity="0.7" stroke-width="0.8" stroke-linecap="round"/>
<line x1="414.8" y1="203.4" x2="428.2" y2="205.2" stroke="#22bca8" stroke-opacity="0.6" stroke-width="1.2" stroke-linecap="round"/>
<line x1="374.2" y1="200.2" x2="382.4" y2="204.0" stroke="#30c4c8" stroke-opacity="0.7" stroke-width="1.3" stroke-linecap="round"/>
<line x1="377.7" y1="213.0" x2="384.7" y2="218.5" stroke="#30c4c8" stroke-opacity="0.5" stroke-width="1.1" stroke-linecap="round"/>
<line x1="393.8" y1="195.1" x2="435.9" y2="198.1" stroke="#2ca4cc" stroke-opacity="0.4" stroke-width="1.1" stroke-linecap="round"/>
<line x1="368.0" y1="201.3" x2="373.2" y2="207.5" stroke="#3070d4" stroke-opacity="0.5" stroke-width="0.7" stroke-linecap="round"/>
<line x1="365.2" y1="203.2" x2="365.5" y2="210.1" stroke="#2c88d0" stroke-opacity="0.6" stroke-width="1.0" stroke-linecap="round"/>
<line x1="357.8" y1="204.6" x2="354.7" y2="207.6" stroke="#30c4c8" stroke-opacity="0.5" stroke-width="1.3" stroke-linecap="round"/>
<line x1="355.1" y1="220.1" x2="338.7" y2="234.6" stroke="#90e0ec" stroke-opacity="0.35" stroke-width="1.3" stroke-linecap="round"/>
<line x1="361.2" y1="211.0" x2="359.9" y2="214.4" stroke="#2a7cd0" stroke-opacity="0.6" stroke-width="0.8" stroke-linecap="round"/>
<line x1="377.5" y1="198.1" x2="398.5" y2="202.7" stroke="#28b8c0" stroke-opacity="0.7" stroke-width="0.8" stroke-linecap="round"/>
<line x1="356.6" y1="207.5" x2="348.2" y2="214.0" stroke="#30c4c8" stroke-opacity="0.5" stroke-width="0.9" stroke-linecap="round"/>
<line x1="345.9" y1="224.3" x2="336.1" y2="231.8" stroke="#90e0ec" stroke-opacity="0.35" stroke-width="0.7" stroke-linecap="round"/>
<line x1="353.6" y1="216.6" x2="343.0" y2="225.6" stroke="#26c0b4" stroke-opacity="0.6" stroke-width="1.0" stroke-linecap="round"/>
<line x1="347.1" y1="200.5" x2="337.5" y2="203.1" stroke="#22bca8" stroke-opacity="0.6" stroke-width="1.4" stroke-linecap="round"/>
<line x1="367.3" y1="208.6" x2="371.3" y2="218.1" stroke="#2a7cd0" stroke-opacity="0.6" stroke-width="1.1" stroke-linecap="round"/>
<line x1="373.3" y1="206.0" x2="384.5" y2="213.3" stroke="#3070d4" stroke-opacity="0.5" stroke-width="0.8" stroke-linecap="round"/>
<line x1="353.8" y1="214.2" x2="350.1" y2="217.8" stroke="#2c88d0" stroke-opacity="0.6" stroke-width="1.1" stroke-linecap="round"/>
<line x1="329.8" y1="195.4" x2="318.7" y2="196.4" stroke="#90e0ec" stroke-opacity="0.35" stroke-width="1.1" stroke-linecap="round"/>
<line x1="374.0" y1="224.4" x2="380.4" y2="233.9" stroke="#2ca4cc" stroke-opacity="0.4" stroke-width="0.7" stroke-linecap="round"/>
<line x1="389.0" y1="197.5" x2="417.6" y2="201.0" stroke="#22bca8" stroke-opacity="0.6" stroke-width="1.0" stroke-linecap="round"/>
<line x1="356.1" y1="217.2" x2="346.0" y2="227.8" stroke="#2ca4cc" stroke-opacity="0.4" stroke-width="0.8" stroke-linecap="round"/>
<line x1="379.7" y1="209.9" x2="388.8" y2="215.1" stroke="#2c88d0" stroke-opacity="0.6" stroke-width="1.1" stroke-linecap="round"/>
<line x1="387.2" y1="196.9" x2="427.0" y2="201.0" stroke="#22bca8" stroke-opacity="0.6" stroke-width="1.2" stroke-linecap="round"/>
<line x1="370.6" y1="215.8" x2="380.4" y2="228.8" stroke="#28b8c0" stroke-opacity="0.7" stroke-width="1.3" stroke-linecap="round"/>
<line x1="376.1" y1="211.1" x2="389.4" y2="219.7" stroke="#3070d4" stroke-opacity="0.5" stroke-width="0.6" stroke-linecap="round"/>
<line x1="368.0" y1="221.0" x2="369.4" y2="227.3" stroke="#90e0ec" stroke-opacity="0.35" stroke-width="1.2" stroke-linecap="round"/>
<line x1="372.3" y1="215.2" x2="379.1" y2="223.8" stroke="#3070d4" stroke-opacity="0.5" stroke-width="0.7" stroke-linecap="round"/>
<line x1="391.9" y1="194.0" x2="417.4" y2="195.9" stroke="#30c4c8" stroke-opacity="0.7" stroke-width="1.2" stroke-linecap="round"/>
<line x1="373.7" y1="225.3" x2="381.3" y2="236.7" stroke="#2ca4cc" stroke-opacity="0.4" stroke-width="0.7" stroke-linecap="round"/>
<line x1="365.0" y1="201.1" x2="364.9" y2="207.0" stroke="#28b8c0" stroke-opacity="0.7" stroke-width="1.1" stroke-linecap="round"/>
<line x1="385.7" y1="203.8" x2="393.2" y2="206.2" stroke="#22bca8" stroke-opacity="0.6" stroke-width="1.0" stroke-linecap="round"/>
<line x1="362.2" y1="221.9" x2="357.3" y2="237.5" stroke="#22bca8" stroke-opacity="0.6" stroke-width="1.1" stroke-linecap="round"/>
<line x1="383.7" y1="231.7" x2="389.4" y2="237.5" stroke="#30c4c8" stroke-opacity="0.7" stroke-width="1.0" stroke-linecap="round"/>
<line x1="364.9" y1="225.6" x2="364.9" y2="232.3" stroke="#30c4c8" stroke-opacity="0.7" stroke-width="0.9" stroke-linecap="round"/>
<line x1="353.4" y1="222.4" x2="344.5" y2="232.0" stroke="#22bca8" stroke-opacity="0.6" stroke-width="0.8" stroke-linecap="round"/>
<line x1="372.9" y1="205.5" x2="374.9" y2="207.5" stroke="#3070d4" stroke-opacity="0.5" stroke-width="1.3" stroke-linecap="round"/>
<line x1="349.0" y1="206.3" x2="340.8" y2="210.0" stroke="#2ca4cc" stroke-opacity="0.6" stroke-width="1.4" stroke-linecap="round"/>
<line x1="383.2" y1="212.0" x2="396.4" y2="218.4" stroke="#2a7cd0" stroke-opacity="0.6" stroke-width="1.3" stroke-linecap="round"/>
<line x1="382.9" y1="200.4" x2="407.6" y2="205.5" stroke="#90e0ec" stroke-opacity="0.35" stroke-width="0.7" stroke-linecap="round"/>
<line x1="349.3" y1="226.5" x2="345.3" y2="230.8" stroke="#22bca8" stroke-opacity="0.6" stroke-width="1.0" stroke-linecap="round"/>
<line x1="355.8" y1="223.2" x2="346.1" y2="235.4" stroke="#2ca4cc" stroke-opacity="0.4" stroke-width="0.8" stroke-linecap="round"/>
<line x1="379.4" y1="193.0" x2="391.6" y2="194.4" stroke="#2ca4cc" stroke-opacity="0.4" stroke-width="1.2" stroke-linecap="round"/>
<line x1="374.0" y1="211.5" x2="381.2" y2="218.3" stroke="#30c4c8" stroke-opacity="0.5" stroke-width="0.7" stroke-linecap="round"/>
<line x1="351.1" y1="202.4" x2="339.0" y2="206.8" stroke="#22bca8" stroke-opacity="0.6" stroke-width="1.0" stroke-linecap="round"/>
<line x1="361.8" y1="195.9" x2="359.9" y2="197.8" stroke="#30c4c8" stroke-opacity="0.7" stroke-width="0.6" stroke-linecap="round"/>
<line x1="376.8" y1="221.8" x2="389.4" y2="233.6" stroke="#26c0b4" stroke-opacity="0.6" stroke-width="0.7" stroke-linecap="round"/>
<line x1="362.1" y1="196.5" x2="359.4" y2="199.2" stroke="#26c0b4" stroke-opacity="0.6" stroke-width="0.8" stroke-linecap="round"/>
<line x1="396.1" y1="196.4" x2="419.6" y2="198.7" stroke="#90e0ec" stroke-opacity="0.35" stroke-width="0.8" stroke-linecap="round"/>
<line x1="384.3" y1="199.7" x2="408.7" y2="204.3" stroke="#30c4c8" stroke-opacity="0.7" stroke-width="0.9" stroke-linecap="round"/>
<line x1="398.4" y1="214.8" x2="409.1" y2="218.5" stroke="#3070d4" stroke-opacity="0.5" stroke-width="1.0" stroke-linecap="round"/>
<line x1="351.3" y1="227.1" x2="347.0" y2="232.3" stroke="#22bca8" stroke-opacity="0.6" stroke-width="0.7" stroke-linecap="round"/>
<line x1="356.7" y1="205.7" x2="348.0" y2="211.8" stroke="#2ca4cc" stroke-opacity="0.6" stroke-width="1.3" stroke-linecap="round"/>
<line x1="343.0" y1="193.0" x2="322.6" y2="194.6" stroke="#90e0ec" stroke-opacity="0.35" stroke-width="0.8" stroke-linecap="round"/>
<line x1="388.1" y1="199.2" x2="401.8" y2="201.8" stroke="#90e0ec" stroke-opacity="0.35" stroke-width="0.6" stroke-linecap="round"/>
<line x1="379.9" y1="198.0" x2="405.2" y2="202.6" stroke="#2ca4cc" stroke-opacity="0.4" stroke-width="0.9" stroke-linecap="round"/>
<line x1="367.3" y1="204.4" x2="368.1" y2="206.8" stroke="#22bca8" stroke-opacity="0.6" stroke-width="1.4" stroke-linecap="round"/>
<line x1="364.4" y1="220.3" x2="363.8" y2="231.9" stroke="#22bca8" stroke-opacity="0.6" stroke-width="0.9" stroke-linecap="round"/>
<line x1="352.4" y1="199.8" x2="337.4" y2="204.2" stroke="#28b8c0" stroke-opacity="0.7" stroke-width="1.3" stroke-linecap="round"/>
<line x1="423.1" y1="192.6" x2="444.3" y2="193.3" stroke="#2ca4cc" stroke-opacity="0.4" stroke-width="0.7" stroke-linecap="round"/>
<line x1="353.2" y1="196.1" x2="348.5" y2="197.4" stroke="#30c4c8" stroke-opacity="0.7" stroke-width="1.2" stroke-linecap="round"/>
<line x1="398.5" y1="198.0" x2="423.8" y2="200.8" stroke="#2ca4cc" stroke-opacity="0.4" stroke-width="0.8" stroke-linecap="round"/>
<line x1="366.7" y1="206.0" x2="367.9" y2="210.8" stroke="#3070d4" stroke-opacity="0.5" stroke-width="0.9" stroke-linecap="round"/>
<line x1="385.9" y1="193.4" x2="404.0" y2="195.1" stroke="#22bca8" stroke-opacity="0.6" stroke-width="0.6" stroke-linecap="round"/>
<line x1="354.8" y1="210.9" x2="345.5" y2="218.0" stroke="#2ca4cc" stroke-opacity="0.6" stroke-width="0.9" stroke-linecap="round"/>
<line x1="382.9" y1="198.3" x2="405.5" y2="202.3" stroke="#2ca4cc" stroke-opacity="0.4" stroke-width="1.3" stroke-linecap="round"/>
<line x1="380.1" y1="208.8" x2="388.9" y2="213.5" stroke="#2ca4cc" stroke-opacity="0.6" stroke-width="1.2" stroke-linecap="round"/>
<line x1="348.3" y1="204.9" x2="328.2" y2="211.3" stroke="#3070d4" stroke-opacity="0.5" stroke-width="1.4" stroke-linecap="round"/>
<line x1="373.3" y1="222.5" x2="375.9" y2="227.1" stroke="#90e0ec" stroke-opacity="0.35" stroke-width="1.2" stroke-linecap="round"/>
<line x1="367.6" y1="218.5" x2="368.4" y2="222.5" stroke="#3070d4" stroke-opacity="0.5" stroke-width="0.6" stroke-linecap="round"/>
<line x1="384.5" y1="195.5" x2="405.8" y2="198.1" stroke="#26c0b4" stroke-opacity="0.6" stroke-width="1.0" stroke-linecap="round"/>
<line x1="397.4" y1="197.7" x2="424.1" y2="200.5" stroke="#26c0b4" stroke-opacity="0.6" stroke-width="0.8" stroke-linecap="round"/>
<line x1="364.8" y1="219.6" x2="364.7" y2="223.3" stroke="#30c4c8" stroke-opacity="0.5" stroke-width="1.1" stroke-linecap="round"/>
<line x1="351.4" y1="202.9" x2="340.2" y2="207.2" stroke="#2c88d0" stroke-opacity="0.6" stroke-width="1.0" stroke-linecap="round"/>
<line x1="367.6" y1="197.4" x2="370.5" y2="200.8" stroke="#2ca4cc" stroke-opacity="0.4" stroke-width="0.7" stroke-linecap="round"/>
<line x1="382.1" y1="201.7" x2="395.2" y2="205.5" stroke="#90e0ec" stroke-opacity="0.35" stroke-width="1.0" stroke-linecap="round"/>
<line x1="379.5" y1="197.8" x2="386.0" y2="199.6" stroke="#26c0b4" stroke-opacity="0.6" stroke-width="0.7" stroke-linecap="round"/>
<line x1="351.8" y1="209.2" x2="335.0" y2="217.5" stroke="#30c4c8" stroke-opacity="0.5" stroke-width="1.0" stroke-linecap="round"/>
<line x1="366.0" y1="217.3" x2="367.8" y2="230.6" stroke="#2ca4cc" stroke-opacity="0.4" stroke-width="1.1" stroke-linecap="round"/>
<line x1="392.1" y1="200.1" x2="421.3" y2="204.4" stroke="#30c4c8" stroke-opacity="0.7" stroke-width="1.4" stroke-linecap="round"/>
<line x1="367.9" y1="220.5" x2="371.8" y2="233.5" stroke="#28b8c0" stroke-opacity="0.7" stroke-width="1.4" stroke-linecap="round"/>
<line x1="371.9" y1="212.5" x2="384.1" y2="224.0" stroke="#2a7cd0" stroke-opacity="0.6" stroke-width="0.8" stroke-linecap="round"/>
<line x1="377.3" y1="192.8" x2="380.7" y2="193.4" stroke="#28b8c0" stroke-opacity="0.7" stroke-width="1.2" stroke-linecap="round"/>
<line x1="354.6" y1="201.7" x2="346.8" y2="205.4" stroke="#90e0ec" stroke-opacity="0.35" stroke-width="1.2" stroke-linecap="round"/>
<line x1="380.8" y1="200.0" x2="408.9" y2="205.7" stroke="#2ca4cc" stroke-opacity="0.4" stroke-width="0.7" stroke-linecap="round"/>
<line x1="360.5" y1="217.0" x2="355.6" y2="227.3" stroke="#90e0ec" stroke-opacity="0.35" stroke-width="1.1" stroke-linecap="round"/>
<line x1="369.6" y1="203.5" x2="372.2" y2="206.8" stroke="#2ca4cc" stroke-opacity="0.4" stroke-width="0.7" stroke-linecap="round"/>
<line x1="359.8" y1="220.6" x2="357.3" y2="226.8" stroke="#2ca4cc" stroke-opacity="0.4" stroke-width="0.8" stroke-linecap="round"/>
<line x1="352.4" y1="203.7" x2="340.7" y2="208.6" stroke="#3070d4" stroke-opacity="0.5" stroke-width="0.9" stroke-linecap="round"/>
<line x1="366.0" y1="206.1" x2="366.3" y2="208.3" stroke="#3070d4" stroke-opacity="0.5" stroke-width="0.6" stroke-linecap="round"/>
<line x1="346.8" y1="194.7" x2="335.2" y2="196.3" stroke="#90e0ec" stroke-opacity="0.35" stroke-width="0.9" stroke-linecap="round"/>
<line x1="365.9" y1="215.2" x2="366.9" y2="225.0" stroke="#26c0b4" stroke-opacity="0.6" stroke-width="0.9" stroke-linecap="round"/>
<line x1="386.6" y1="225.1" x2="399.4" y2="233.6" stroke="#90e0ec" stroke-opacity="0.35" stroke-width="1.3" stroke-linecap="round"/>
<line x1="375.4" y1="214.3" x2="379.3" y2="218.5" stroke="#30c4c8" stroke-opacity="0.5" stroke-width="0.9" stroke-linecap="round"/>
<line x1="370.1" y1="221.8" x2="374.9" y2="232.6" stroke="#2ca4cc" stroke-opacity="0.4" stroke-width="1.1" stroke-linecap="round"/>
<line x1="374.1" y1="193.2" x2="381.6" y2="194.7" stroke="#2ca4cc" stroke-opacity="0.4" stroke-width="0.6" stroke-linecap="round"/>
<line x1="376.8" y1="204.3" x2="383.8" y2="208.0" stroke="#3070d4" stroke-opacity="0.5" stroke-width="1.2" stroke-linecap="round"/>
<line x1="403.4" y1="197.2" x2="432.3" y2="199.7" stroke="#30c4c8" stroke-opacity="0.7" stroke-width="0.7" stroke-linecap="round"/>
<line x1="350.0" y1="195.3" x2="332.7" y2="198.0" stroke="#90e0ec" stroke-opacity="0.35" stroke-width="0.7" stroke-linecap="round"/>
<line x1="353.7" y1="222.2" x2="345.9" y2="230.9" stroke="#22bca8" stroke-opacity="0.6" stroke-width="0.8" stroke-linecap="round"/>
<line x1="356.2" y1="215.0" x2="350.4" y2="221.7" stroke="#30c4c8" stroke-opacity="0.5" stroke-width="1.3" stroke-linecap="round"/>
<line x1="341.3" y1="207.4" x2="334.6" y2="209.8" stroke="#3070d4" stroke-opacity="0.5" stroke-width="1.3" stroke-linecap="round"/>
<line x1="338.1" y1="199.7" x2="328.3" y2="201.5" stroke="#2ca4cc" stroke-opacity="0.4" stroke-width="1.0" stroke-linecap="round"/>
<line x1="372.7" y1="195.5" x2="378.1" y2="197.4" stroke="#90e0ec" stroke-opacity="0.35" stroke-width="1.3" stroke-linecap="round"/>
<line x1="389.9" y1="199.3" x2="410.8" y2="202.7" stroke="#28b8c0" stroke-opacity="0.7" stroke-width="1.3" stroke-linecap="round"/>
<line x1="354.0" y1="199.0" x2="339.3" y2="203.4" stroke="#2ca4cc" stroke-opacity="0.4" stroke-width="1.0" stroke-linecap="round"/>
<line x1="341.6" y1="197.0" x2="327.6" y2="199.1" stroke="#90e0ec" stroke-opacity="0.35" stroke-width="0.8" stroke-linecap="round"/>
<line x1="346.6" y1="222.4" x2="338.6" y2="228.6" stroke="#30c4c8" stroke-opacity="0.7" stroke-width="0.7" stroke-linecap="round"/>
<line x1="382.7" y1="208.0" x2="398.1" y2="214.0" stroke="#30c4c8" stroke-opacity="0.5" stroke-width="0.7" stroke-linecap="round"/>
<line x1="345.4" y1="195.4" x2="328.6" y2="197.6" stroke="#22bca8" stroke-opacity="0.6" stroke-width="1.1" stroke-linecap="round"/>
<line x1="354.5" y1="227.1" x2="350.7" y2="233.1" stroke="#26c0b4" stroke-opacity="0.6" stroke-width="1.1" stroke-linecap="round"/>
<line x1="353.3" y1="208.5" x2="343.1" y2="214.7" stroke="#3070d4" stroke-opacity="0.5" stroke-width="1.0" stroke-linecap="round"/>
<line x1="357.3" y1="208.2" x2="349.1" y2="215.2" stroke="#2c88d0" stroke-opacity="0.6" stroke-width="1.1" stroke-linecap="round"/>
<line x1="350.5" y1="208.6" x2="345.8" y2="211.5" stroke="#2ca4cc" stroke-opacity="0.6" stroke-width="0.9" stroke-linecap="round"/>
<line x1="353.7" y1="196.8" x2="348.8" y2="198.3" stroke="#28b8c0" stroke-opacity="0.7" stroke-width="1.0" stroke-linecap="round"/>
<line x1="363.7" y1="218.1" x2="362.4" y2="227.9" stroke="#28b8c0" stroke-opacity="0.7" stroke-width="1.1" stroke-linecap="round"/>
<line x1="347.2" y1="194.5" x2="334.2" y2="196.2" stroke="#22bca8" stroke-opacity="0.6" stroke-width="1.1" stroke-linecap="round"/>
<line x1="388.9" y1="232.5" x2="395.1" y2="237.5" stroke="#22bca8" stroke-opacity="0.6" stroke-width="0.9" stroke-linecap="round"/>
<line x1="357.1" y1="208.1" x2="343.9" y2="217.3" stroke="#30c4c8" stroke-opacity="0.5" stroke-width="1.1" stroke-linecap="round"/>
<line x1="377.1" y1="216.1" x2="381.7" y2="220.6" stroke="#2a7cd0" stroke-opacity="0.6" stroke-width="0.9" stroke-linecap="round"/>
<line x1="394.0" y1="195.1" x2="410.1" y2="196.7" stroke="#2ca4cc" stroke-opacity="0.4" stroke-width="1.2" stroke-linecap="round"/>
<line x1="342.1" y1="207.2" x2="333.5" y2="210.2" stroke="#2c88d0" stroke-opacity="0.6" stroke-width="0.7" stroke-linecap="round"/>
<line x1="366.9" y1="216.3" x2="367.7" y2="221.2" stroke="#2c88d0" stroke-opacity="0.6" stroke-width="0.8" stroke-linecap="round"/>
<line x1="371.3" y1="195.8" x2="380.4" y2="199.0" stroke="#28b8c0" stroke-opacity="0.7" stroke-width="1.0" stroke-linecap="round"/>
<line x1="358.1" y1="205.0" x2="353.9" y2="209.1" stroke="#30c4c8" stroke-opacity="0.5" stroke-width="0.6" stroke-linecap="round"/>
<line x1="351.7" y1="208.7" x2="341.1" y2="214.6" stroke="#2c88d0" stroke-opacity="0.6" stroke-width="1.2" stroke-linecap="round"/>
<line x1="371.4" y1="196.5" x2="379.9" y2="200.0" stroke="#2ca4cc" stroke-opacity="0.4" stroke-width="1.1" stroke-linecap="round"/>
<line x1="366.8" y1="192.6" x2="367.5" y2="193.4" stroke="#26c0b4" stroke-opacity="0.6" stroke-width="1.2" stroke-linecap="round"/>
<line x1="363.8" y1="202.7" x2="362.7" y2="207.2" stroke="#30c4c8" stroke-opacity="0.5" stroke-width="0.8" stroke-linecap="round"/>
<line x1="388.3" y1="193.0" x2="425.5" y2="195.2" stroke="#90e0ec" stroke-opacity="0.35" stroke-width="1.0" stroke-linecap="round"/>
<line x1="381.4" y1="206.7" x2="402.1" y2="214.0" stroke="#2a7cd0" stroke-opacity="0.6" stroke-width="1.4" stroke-linecap="round"/>
<line x1="377.9" y1="210.9" x2="389.5" y2="218.0" stroke="#2ca4cc" stroke-opacity="0.6" stroke-width="0.8" stroke-linecap="round"/>
<line x1="383.7" y1="200.6" x2="391.4" y2="202.7" stroke="#22bca8" stroke-opacity="0.6" stroke-width="0.9" stroke-linecap="round"/>
<line x1="368.4" y1="209.6" x2="369.7" y2="213.0" stroke="#2c88d0" stroke-opacity="0.6" stroke-width="0.7" stroke-linecap="round"/>
<line x1="363.9" y1="205.4" x2="363.4" y2="209.0" stroke="#2ca4cc" stroke-opacity="0.6" stroke-width="0.6" stroke-linecap="round"/>
<line x1="362.3" y1="227.3" x2="360.4" y2="237.5" stroke="#26c0b4" stroke-opacity="0.6" stroke-width="0.6" stroke-linecap="round"/>
<line x1="366.0" y1="226.7" x2="366.6" y2="235.8" stroke="#30c4c8" stroke-opacity="0.7" stroke-width="0.9" stroke-linecap="round"/>
<line x1="381.8" y1="205.9" x2="391.9" y2="210.0" stroke="#2a7cd0" stroke-opacity="0.6" stroke-width="0.6" stroke-linecap="round"/>
<line x1="350.3" y1="196.2" x2="335.9" y2="199.0" stroke="#28b8c0" stroke-opacity="0.7" stroke-width="0.8" stroke-linecap="round"/>
<line x1="382.7" y1="225.2" x2="392.7" y2="233.4" stroke="#90e0ec" stroke-opacity="0.35" stroke-width="0.9" stroke-linecap="round"/>
<line x1="354.0" y1="219.7" x2="351.2" y2="223.4" stroke="#2ca4cc" stroke-opacity="0.6" stroke-width="0.9" stroke-linecap="round"/>
<line x1="358.2" y1="225.0" x2="354.4" y2="233.2" stroke="#28b8c0" stroke-opacity="0.7" stroke-width="1.4" stroke-linecap="round"/>
<line x1="370.1" y1="204.0" x2="377.4" y2="210.6" stroke="#2ca4cc" stroke-opacity="0.6" stroke-width="1.1" stroke-linecap="round"/>
<line x1="367.7" y1="222.5" x2="368.5" y2="227.2" stroke="#28b8c0" stroke-opacity="0.7" stroke-width="0.7" stroke-linecap="round"/>
<line x1="370.1" y1="230.0" x2="372.1" y2="236.6" stroke="#90e0ec" stroke-opacity="0.35" stroke-width="1.1" stroke-linecap="round"/>
<line x1="374.7" y1="195.4" x2="384.9" y2="198.0" stroke="#26c0b4" stroke-opacity="0.6" stroke-width="1.0" stroke-linecap="round"/>
<line x1="366.2" y1="210.2" x2="368.0" y2="219.6" stroke="#2ca4cc" stroke-opacity="0.6" stroke-width="1.0" stroke-linecap="round"/>
<line x1="363.7" y1="218.4" x2="362.7" y2="226.7" stroke="#26c0b4" stroke-opacity="0.6" stroke-width="1.2" stroke-linecap="round"/>
<line x1="376.7" y1="212.3" x2="380.9" y2="216.0" stroke="#2a7cd0" stroke-opacity="0.6" stroke-width="0.9" stroke-linecap="round"/>
<line x1="388.6" y1="207.6" x2="400.9" y2="211.7" stroke="#30c4c8" stroke-opacity="0.5" stroke-width="1.1" stroke-linecap="round"/>
<line x1="378.4" y1="209.9" x2="392.0" y2="217.3" stroke="#30c4c8" stroke-opacity="0.5" stroke-width="0.8" stroke-linecap="round"/>
<line x1="356.6" y1="217.2" x2="347.0" y2="227.9" stroke="#28b8c0" stroke-opacity="0.7" stroke-width="1.2" stroke-linecap="round"/>
<line x1="351.3" y1="202.1" x2="346.9" y2="204.0" stroke="#28b8c0" stroke-opacity="0.7" stroke-width="1.0" stroke-linecap="round"/></g>
<path d="M322.0,125.0 C319.5,120.2 323.0,115.5 322.6,110.9 C322.2,106.3 321.1,105.9 319.9,102.0 C318.7,98.1 317.8,95.7 316.4,91.4 C315.0,87.1 314.1,85.0 312.8,80.7 C311.5,76.4 311.2,73.3 310.1,70.0 C309.0,66.7 308.1,67.4 307.2,64.1 C306.3,60.8 306.0,57.4 305.5,53.5 C305.0,49.6 304.7,47.0 304.9,44.6 C305.1,42.2 305.4,41.8 306.4,41.4 C307.4,41.0 308.3,41.5 309.9,42.8 C311.5,44.1 312.4,45.3 314.4,48.1 C316.4,50.9 317.8,53.4 319.7,57.0 C321.6,60.6 322.5,62.5 324.1,65.9 C325.7,69.3 326.4,71.3 327.7,73.9 C329.0,76.5 329.5,76.1 330.6,78.9 C331.7,81.7 331.8,84.0 333.3,87.8 C334.8,91.6 335.9,93.4 338.0,98.0 C340.1,102.6 342.3,105.5 343.9,110.9 C345.5,116.3 347.8,120.2 346.0,125.0 C344.2,129.8 339.8,135.0 335.0,135.0 C330.2,135.0 324.5,129.8 322.0,125.0 Z" fill="url(#mainB)" mask="url(#mB)"/>
<line x1="270.7" y1="193.5" x2="361" y2="193.5" stroke="#c60000" stroke-width="3.4" stroke-dasharray="10.7 4" stroke-dashoffset="0"/>
<line x1="295.7" y1="17.3" x2="364.5" y2="191" stroke="#000" stroke-width="2.1" stroke-dasharray="7 5.4" stroke-dashoffset="0.6"/>
<line x1="365" y1="192.8" x2="365.0" y2="21.6" stroke="#c60000" stroke-width="4"/><polygon points="365,11.6 370.5,22.6 359.5,22.6" fill="#c60000"/>
<line x1="364" y1="192.8" x2="454.3" y2="192.6" stroke="#c60000" stroke-width="4"/><polygon points="464.3,192.6 453.3,198.1 453.3,187.1" fill="#c60000"/>
<line x1="365" y1="192.8" x2="446.2" y2="132.3" stroke="#c60000" stroke-width="4"/><polygon points="454.2,126.3 448.7,137.3 442.1,128.5" fill="#c60000"/>
<path d="M337.1,123.4 Q350.9,113.3 365,118.1" fill="none" stroke="#4a4a60" stroke-width="2.5" stroke-dasharray="10 9"/>
<text x="375.1" y="19.8" class="ax" style="font-size:28.5px" textLength="12.6" lengthAdjust="spacingAndGlyphs">z</text>
<text x="461.5" y="128.3" class="ax">y</text>
<text x="468.4" y="203.9" class="ax" style="font-size:29px">x</text>
<text x="331.3" y="100.2" class="deg" textLength="23" lengthAdjust="spacingAndGlyphs">20</text><text x="353.8" y="92.9" class="sup">o</text>
<text x="502.2" y="24.2" class="dbi">dBi</text>
<rect x="528.6" y="35" width="13" height="198" fill="url(#cbB)" stroke="#4a4a4a" stroke-width="0.8"/>
<text x="519" y="38.9" text-anchor="end" class="cbl">24.9</text>
<line x1="521" y1="36.1" x2="528.6" y2="36.1" stroke="#888" stroke-width="0.9"/>
<text x="519" y="50.9" text-anchor="end" class="cbl">22.4</text>
<line x1="521" y1="48.1" x2="528.6" y2="48.1" stroke="#888" stroke-width="0.9"/>
<text x="519" y="62.9" text-anchor="end" class="cbl">20</text>
<line x1="521" y1="60.1" x2="528.6" y2="60.1" stroke="#888" stroke-width="0.9"/>
<text x="519" y="74.9" text-anchor="end" class="cbl">17.6</text>
<line x1="521" y1="72.1" x2="528.6" y2="72.1" stroke="#888" stroke-width="0.9"/>
<text x="519" y="86.9" text-anchor="end" class="cbl">15.2</text>
<line x1="521" y1="84.1" x2="528.6" y2="84.1" stroke="#888" stroke-width="0.9"/>
<text x="519" y="98.9" text-anchor="end" class="cbl">12.7</text>
<line x1="521" y1="96.1" x2="528.6" y2="96.1" stroke="#888" stroke-width="0.9"/>
<text x="519" y="110.9" text-anchor="end" class="cbl">10.3</text>
<line x1="521" y1="108.1" x2="528.6" y2="108.1" stroke="#888" stroke-width="0.9"/>
<text x="519" y="122.9" text-anchor="end" class="cbl">7.9</text>
<line x1="521" y1="120.1" x2="528.6" y2="120.1" stroke="#888" stroke-width="0.9"/>
<text x="519" y="134.9" text-anchor="end" class="cbl">5.47</text>
<line x1="521" y1="132.1" x2="528.6" y2="132.1" stroke="#888" stroke-width="0.9"/>
<text x="519" y="146.9" text-anchor="end" class="cbl">3.05</text>
<line x1="521" y1="144.1" x2="528.6" y2="144.1" stroke="#888" stroke-width="0.9"/>
<text x="519" y="158.9" text-anchor="end" class="cbl">0.624</text>
<line x1="521" y1="156.1" x2="528.6" y2="156.1" stroke="#888" stroke-width="0.9"/>
<text x="519" y="170.9" text-anchor="end" class="cbl">-1.8</text>
<line x1="521" y1="168.1" x2="528.6" y2="168.1" stroke="#888" stroke-width="0.9"/>
<text x="519" y="182.9" text-anchor="end" class="cbl">-4.22</text>
<line x1="521" y1="180.1" x2="528.6" y2="180.1" stroke="#888" stroke-width="0.9"/>
<text x="519" y="194.9" text-anchor="end" class="cbl">-6.65</text>
<line x1="521" y1="192.1" x2="528.6" y2="192.1" stroke="#888" stroke-width="0.9"/>
<text x="519" y="206.9" text-anchor="end" class="cbl">-9.07</text>
<line x1="521" y1="204.1" x2="528.6" y2="204.1" stroke="#888" stroke-width="0.9"/>
<text x="519" y="218.9" text-anchor="end" class="cbl">-11.5</text>
<line x1="521" y1="216.1" x2="528.6" y2="216.1" stroke="#888" stroke-width="0.9"/>
<line x1="525.6" y1="42.1" x2="528.6" y2="42.1" stroke="#888" stroke-width="0.9"/>
<line x1="525.6" y1="54.1" x2="528.6" y2="54.1" stroke="#888" stroke-width="0.9"/>
<line x1="525.6" y1="66.1" x2="528.6" y2="66.1" stroke="#888" stroke-width="0.9"/>
<line x1="525.6" y1="78.1" x2="528.6" y2="78.1" stroke="#888" stroke-width="0.9"/>
<line x1="525.6" y1="90.1" x2="528.6" y2="90.1" stroke="#888" stroke-width="0.9"/>
<line x1="525.6" y1="102.1" x2="528.6" y2="102.1" stroke="#888" stroke-width="0.9"/>
<line x1="525.6" y1="114.1" x2="528.6" y2="114.1" stroke="#888" stroke-width="0.9"/>
<line x1="525.6" y1="126.1" x2="528.6" y2="126.1" stroke="#888" stroke-width="0.9"/>
<line x1="525.6" y1="138.1" x2="528.6" y2="138.1" stroke="#888" stroke-width="0.9"/>
<line x1="525.6" y1="150.1" x2="528.6" y2="150.1" stroke="#888" stroke-width="0.9"/>
<line x1="525.6" y1="162.1" x2="528.6" y2="162.1" stroke="#888" stroke-width="0.9"/>
<line x1="525.6" y1="174.1" x2="528.6" y2="174.1" stroke="#888" stroke-width="0.9"/>
<line x1="525.6" y1="186.1" x2="528.6" y2="186.1" stroke="#888" stroke-width="0.9"/>
<line x1="525.6" y1="198.1" x2="528.6" y2="198.1" stroke="#888" stroke-width="0.9"/>
<line x1="525.6" y1="210.1" x2="528.6" y2="210.1" stroke="#888" stroke-width="0.9"/>
<text x="519" y="235.6" text-anchor="end" class="cbl">-15.1</text>
<polygon points="521,32.5 521,39.5 526,36" fill="#333"/><polygon points="523.5,32.5 523.5,39.5 528.5,36" fill="#333"/>
<line x1="525.6" y1="222.1" x2="528.6" y2="222.1" stroke="#888" stroke-width="0.9"/><line x1="525.6" y1="228" x2="528.6" y2="228" stroke="#888" stroke-width="0.9"/>
<polygon points="521.8,228.5 527.6,228.5 524.7,234.2" fill="#333"/>
<text x="109.5" y="271.6" text-anchor="middle" class="cap">(a)</text>
<text x="381" y="272" text-anchor="middle" class="cap">(b)</text>
</svg></body></html>
